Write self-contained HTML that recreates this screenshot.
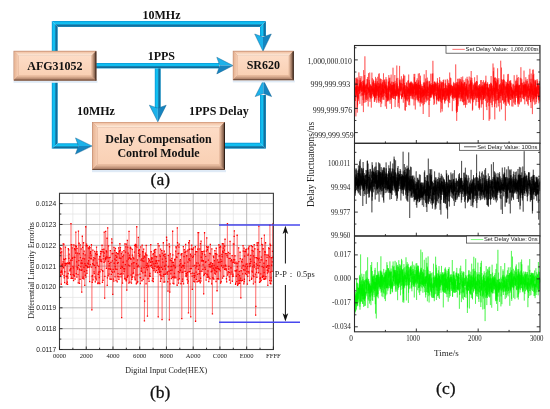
<!DOCTYPE html>
<html><head><meta charset="utf-8"><style>
html,body{margin:0;padding:0;background:#fff;}
svg{display:block;}
</style></head><body>
<svg width="550" height="409" viewBox="0 0 550 409">
<defs>
 <linearGradient id="th" x1="0" y1="0" x2="0" y2="1">
  <stop offset="0" stop-color="#0a96d6"/>
  <stop offset="0.35" stop-color="#12caf8"/>
  <stop offset="0.5" stop-color="#14b6ea"/>
  <stop offset="0.66" stop-color="#1476a6"/>
  <stop offset="0.84" stop-color="#106a98"/>
  <stop offset="1" stop-color="#2a9ed0"/>
 </linearGradient>
 <linearGradient id="bt" x1="0" y1="0" x2="0" y2="1"><stop offset="0" stop-color="#f0bc9c"/><stop offset="1" stop-color="#fff0e2"/></linearGradient>
 <linearGradient id="bl" x1="0" y1="0" x2="1" y2="0"><stop offset="0" stop-color="#e6b393"/><stop offset="1" stop-color="#f8d0b6"/></linearGradient>
 <linearGradient id="bb" x1="0" y1="0" x2="0" y2="1"><stop offset="0" stop-color="#f2c6a8"/><stop offset="1" stop-color="#a87a62"/></linearGradient>
 <linearGradient id="br" x1="0" y1="0" x2="1" y2="0"><stop offset="0" stop-color="#f2c6a8"/><stop offset="1" stop-color="#6e4c3a"/></linearGradient>
 <linearGradient id="bf" x1="0" y1="0" x2="0" y2="1"><stop offset="0" stop-color="#fddcc6"/><stop offset="1" stop-color="#f9d0b4"/></linearGradient>
 <linearGradient id="tv" x1="0" y1="0" x2="1" y2="0">
  <stop offset="0" stop-color="#0a96d6"/>
  <stop offset="0.35" stop-color="#12caf8"/>
  <stop offset="0.5" stop-color="#14b6ea"/>
  <stop offset="0.66" stop-color="#1476a6"/>
  <stop offset="0.84" stop-color="#106a98"/>
  <stop offset="1" stop-color="#2a9ed0"/>
 </linearGradient>
</defs>
<polygon points="51.8,21 57.8,27 57.8,51 51.8,51" fill="url(#tv)"/>
<polygon points="51.8,21 266,21 260,27 57.8,27" fill="url(#th)"/>
<polygon points="266,21 266,36 260,36 260,27" fill="url(#tv)"/>
<polygon points="254.7,34 263,37 263,51.2" fill="#1cb2ea"/>
<polygon points="271.3,34 263,37 263,51.2" fill="#1584bf"/>
<polygon points="254.7,34 263,37 271.3,34 263,51.2" fill="none" stroke="#0d5f8f" stroke-width="0.45" stroke-linejoin="round"/>
<rect x="96" y="63" width="123" height="5.5" fill="url(#th)"/>
<polygon points="216.8,57.3 219.8,65.6 233,65.6" fill="#1cb2ea"/>
<polygon points="216.8,73.89999999999999 219.8,65.6 233,65.6" fill="#1584bf"/>
<polygon points="216.8,57.3 219.8,65.6 216.8,73.89999999999999 233,65.6" fill="none" stroke="#0d5f8f" stroke-width="0.45" stroke-linejoin="round"/>
<rect x="154.8" y="68.3" width="6.0" height="39.7" fill="url(#tv)"/>
<polygon points="149.4,105.2 157.8,108.2 157.8,121.8" fill="#1cb2ea"/>
<polygon points="166.20000000000002,105.2 157.8,108.2 157.8,121.8" fill="#1584bf"/>
<polygon points="149.4,105.2 157.8,108.2 166.20000000000002,105.2 157.8,121.8" fill="none" stroke="#0d5f8f" stroke-width="0.45" stroke-linejoin="round"/>
<polygon points="51.8,80 57.8,80 57.8,143.2 51.8,148.7" fill="url(#tv)"/>
<polygon points="51.8,148.7 57.8,143.2 78,143.2 78,148.7" fill="url(#th)"/>
<polygon points="75.5,137.9 78.5,146 92,146" fill="#1cb2ea"/>
<polygon points="75.5,154.1 78.5,146 92,146" fill="#1584bf"/>
<polygon points="75.5,137.9 78.5,146 75.5,154.1 92,146" fill="none" stroke="#0d5f8f" stroke-width="0.45" stroke-linejoin="round"/>
<polygon points="225,142.8 260,142.8 266,148.7 225,148.7" fill="url(#th)"/>
<polygon points="260,95 266,95 266,148.7 260,142.8" fill="url(#tv)"/>
<polygon points="255.2,96.6 263.4,93.6 263.4,80.3" fill="#1cb2ea"/>
<polygon points="271.59999999999997,96.6 263.4,93.6 263.4,80.3" fill="#1584bf"/>
<polygon points="255.2,96.6 263.4,93.6 271.59999999999997,96.6 263.4,80.3" fill="none" stroke="#0d5f8f" stroke-width="0.45" stroke-linejoin="round"/>
<rect x="13.5" y="80.6" width="83.9" height="2.2" fill="#dfeaf6"/>
<rect x="13.5" y="50.8" width="82.9" height="29.799999999999997" fill="#c08a70"/>
<polygon points="14.1,51.4 95.80000000000001,51.4 91.4,55.8 18.5,55.8" fill="url(#bt)"/>
<polygon points="14.1,51.4 18.5,55.8 18.5,75.6 14.1,80.0" fill="url(#bl)"/>
<polygon points="14.1,79.8 18.5,75.6 91.4,75.6 95.60000000000001,79.8" fill="url(#bb)"/>
<polygon points="95.60000000000001,51.4 95.60000000000001,79.8 91.4,75.6 91.4,55.8" fill="url(#br)"/>
<rect x="18.5" y="55.8" width="72.9" height="19.799999999999997" fill="url(#bf)"/>
<line x1="95.9" y1="51.3" x2="95.9" y2="80.6" stroke="#2e2018" stroke-width="1"/>
<line x1="14.0" y1="80.1" x2="96.4" y2="80.1" stroke="#6a4a3a" stroke-width="1"/>
<text x="54.95" y="69.5" text-anchor="middle" font-family="'Liberation Serif', 'Times New Roman', serif" font-weight="bold" font-size="12" fill="#111">AFG31052</text>
<rect x="232.8" y="80.2" width="62.0" height="2.2" fill="#dfeaf6"/>
<rect x="232.8" y="50.8" width="61.0" height="29.400000000000006" fill="#c08a70"/>
<polygon points="233.4,51.4 293.2,51.4 288.8,55.8 237.8,55.8" fill="url(#bt)"/>
<polygon points="233.4,51.4 237.8,55.8 237.8,75.2 233.4,79.60000000000001" fill="url(#bl)"/>
<polygon points="233.4,79.4 237.8,75.2 288.8,75.2 293.0,79.4" fill="url(#bb)"/>
<polygon points="293.0,51.4 293.0,79.4 288.8,75.2 288.8,55.8" fill="url(#br)"/>
<rect x="237.8" y="55.8" width="51.0" height="19.400000000000006" fill="url(#bf)"/>
<line x1="293.3" y1="51.3" x2="293.3" y2="80.2" stroke="#2e2018" stroke-width="1"/>
<line x1="233.3" y1="79.7" x2="293.8" y2="79.7" stroke="#6a4a3a" stroke-width="1"/>
<text x="263.3" y="69.4" text-anchor="middle" font-family="'Liberation Serif', 'Times New Roman', serif" font-weight="bold" font-size="12" fill="#111">SR620</text>
<rect x="92" y="170" width="134" height="2.2" fill="#dfeaf6"/>
<rect x="92" y="122" width="133" height="48" fill="#c08a70"/>
<polygon points="92.6,122.6 224.4,122.6 219.5,127.5 97.5,127.5" fill="url(#bt)"/>
<polygon points="92.6,122.6 97.5,127.5 97.5,164.5 92.6,169.4" fill="url(#bl)"/>
<polygon points="92.6,169.2 97.5,164.5 219.5,164.5 224.2,169.2" fill="url(#bb)"/>
<polygon points="224.2,122.6 224.2,169.2 219.5,164.5 219.5,127.5" fill="url(#br)"/>
<rect x="97.5" y="127.5" width="122.0" height="37.0" fill="url(#bf)"/>
<line x1="224.5" y1="122.5" x2="224.5" y2="170" stroke="#2e2018" stroke-width="1"/>
<line x1="92.5" y1="169.5" x2="225" y2="169.5" stroke="#6a4a3a" stroke-width="1"/>
<text x="158.5" y="143" text-anchor="middle" font-family="'Liberation Serif', 'Times New Roman', serif" font-weight="bold" font-size="12" fill="#111">Delay Compensation</text>
<text x="158.5" y="157.2" text-anchor="middle" font-family="'Liberation Serif', 'Times New Roman', serif" font-weight="bold" font-size="12" fill="#111">Control Module</text>
<text x="142.5" y="19.1" text-anchor="start" font-family="'Liberation Serif', 'Times New Roman', serif" font-weight="bold" font-size="12" fill="#111" >10MHz</text>
<text x="147.7" y="59.6" text-anchor="start" font-family="'Liberation Serif', 'Times New Roman', serif" font-weight="bold" font-size="12" fill="#111" >1PPS</text>
<text x="76.9" y="115.2" text-anchor="start" font-family="'Liberation Serif', 'Times New Roman', serif" font-weight="bold" font-size="12" fill="#111" >10MHz</text>
<text x="189" y="114.6" text-anchor="start" font-family="'Liberation Serif', 'Times New Roman', serif" font-weight="bold" font-size="12" fill="#111" >1PPS Delay</text>
<text x="160.3" y="185.0" text-anchor="middle" font-family="'Liberation Serif', 'Times New Roman', serif" font-weight="normal" font-size="17.5" fill="#111" stroke="#111" stroke-width="0.3">(a)</text>
<line x1="72.87" y1="193.3" x2="72.87" y2="349.5" stroke="#e6e6e6" stroke-width="0.8"/>
<line x1="99.61" y1="193.3" x2="99.61" y2="349.5" stroke="#e6e6e6" stroke-width="0.8"/>
<line x1="126.34" y1="193.3" x2="126.34" y2="349.5" stroke="#e6e6e6" stroke-width="0.8"/>
<line x1="153.08" y1="193.3" x2="153.08" y2="349.5" stroke="#e6e6e6" stroke-width="0.8"/>
<line x1="179.82" y1="193.3" x2="179.82" y2="349.5" stroke="#e6e6e6" stroke-width="0.8"/>
<line x1="206.56" y1="193.3" x2="206.56" y2="349.5" stroke="#e6e6e6" stroke-width="0.8"/>
<line x1="233.29" y1="193.3" x2="233.29" y2="349.5" stroke="#e6e6e6" stroke-width="0.8"/>
<line x1="260.03" y1="193.3" x2="260.03" y2="349.5" stroke="#e6e6e6" stroke-width="0.8"/>
<line x1="59.5" y1="339.08" x2="273.4" y2="339.08" stroke="#e6e6e6" stroke-width="0.8"/>
<line x1="59.5" y1="318.24" x2="273.4" y2="318.24" stroke="#e6e6e6" stroke-width="0.8"/>
<line x1="59.5" y1="297.40" x2="273.4" y2="297.40" stroke="#e6e6e6" stroke-width="0.8"/>
<line x1="59.5" y1="276.56" x2="273.4" y2="276.56" stroke="#e6e6e6" stroke-width="0.8"/>
<line x1="59.5" y1="255.72" x2="273.4" y2="255.72" stroke="#e6e6e6" stroke-width="0.8"/>
<line x1="59.5" y1="234.88" x2="273.4" y2="234.88" stroke="#e6e6e6" stroke-width="0.8"/>
<line x1="59.5" y1="214.04" x2="273.4" y2="214.04" stroke="#e6e6e6" stroke-width="0.8"/>
<line x1="86.24" y1="193.3" x2="86.24" y2="349.5" stroke="#a8a8a8" stroke-width="0.8"/>
<line x1="112.97" y1="193.3" x2="112.97" y2="349.5" stroke="#a8a8a8" stroke-width="0.8"/>
<line x1="139.71" y1="193.3" x2="139.71" y2="349.5" stroke="#a8a8a8" stroke-width="0.8"/>
<line x1="166.45" y1="193.3" x2="166.45" y2="349.5" stroke="#a8a8a8" stroke-width="0.8"/>
<line x1="193.19" y1="193.3" x2="193.19" y2="349.5" stroke="#a8a8a8" stroke-width="0.8"/>
<line x1="219.92" y1="193.3" x2="219.92" y2="349.5" stroke="#a8a8a8" stroke-width="0.8"/>
<line x1="246.66" y1="193.3" x2="246.66" y2="349.5" stroke="#a8a8a8" stroke-width="0.8"/>
<line x1="59.5" y1="328.66" x2="273.4" y2="328.66" stroke="#a8a8a8" stroke-width="0.8"/>
<line x1="59.5" y1="307.82" x2="273.4" y2="307.82" stroke="#a8a8a8" stroke-width="0.8"/>
<line x1="59.5" y1="286.98" x2="273.4" y2="286.98" stroke="#a8a8a8" stroke-width="0.8"/>
<line x1="59.5" y1="266.14" x2="273.4" y2="266.14" stroke="#a8a8a8" stroke-width="0.8"/>
<line x1="59.5" y1="245.30" x2="273.4" y2="245.30" stroke="#a8a8a8" stroke-width="0.8"/>
<line x1="59.5" y1="224.46" x2="273.4" y2="224.46" stroke="#a8a8a8" stroke-width="0.8"/>
<line x1="59.5" y1="203.62" x2="273.4" y2="203.62" stroke="#a8a8a8" stroke-width="0.8"/>
<polyline points="60.0,248.9 60.2,247.8 60.4,252.8 60.6,275.3 60.8,272.2 61.0,248.8 61.2,284.3 61.4,271.0 61.6,251.9 61.8,265.4 62.0,272.1 62.2,264.0 62.4,274.1 62.6,266.3 62.8,263.9 63.0,261.9 63.2,243.8 63.5,267.8 63.7,259.1 63.9,244.1 64.1,275.7 64.3,277.9 64.5,259.5 64.7,282.7 64.9,271.8 65.1,263.4 65.3,265.4 65.5,247.0 65.7,258.8 65.9,263.5 66.1,264.2 66.3,276.4 66.5,284.0 66.7,276.6 66.9,263.4 67.1,276.3 67.3,282.1 67.5,284.3 67.7,262.9 67.9,278.2 68.1,273.5 68.3,248.5 68.5,263.7 68.7,249.9 68.9,258.3 69.1,254.2 69.3,263.8 69.5,262.4 69.7,263.7 69.9,270.9 70.1,269.7 70.4,260.0 70.6,274.6 70.8,268.6 71.0,223.5 71.2,278.3 71.4,244.6 71.6,278.0 71.8,244.5 72.0,260.4 72.2,247.8 72.4,258.4 72.6,257.8 72.8,278.3 73.0,266.5 73.2,274.7 73.4,267.8 73.6,280.5 73.8,244.9 74.0,275.7 74.2,257.0 74.4,276.1 74.6,248.8 74.8,257.4 75.0,279.1 75.2,250.0 75.4,245.9 75.6,253.2 75.8,232.2 76.0,246.0 76.2,273.8 76.4,246.6 76.6,261.9 76.8,277.1 77.0,248.4 77.3,267.2 77.5,253.1 77.7,269.1 77.9,267.7 78.1,274.7 78.3,282.9 78.5,231.1 78.7,265.4 78.9,260.6 79.1,243.2 79.3,253.8 79.5,283.4 79.7,269.3 79.9,270.0 80.1,279.5 80.3,245.0 80.5,257.6 80.7,267.0 80.9,263.1 81.1,248.8 81.3,270.4 81.5,260.4 81.7,292.1 81.9,270.0 82.1,263.3 82.3,236.2 82.5,247.3 82.7,278.3 82.9,258.4 83.1,277.1 83.3,253.7 83.5,242.8 83.7,278.9 83.9,267.4 84.2,251.2 84.4,271.7 84.6,258.8 84.8,285.3 85.0,263.5 85.2,254.8 85.4,275.2 85.6,265.4 85.8,226.8 86.0,277.2 86.2,265.5 86.4,245.8 86.6,244.1 86.8,270.6 87.0,273.4 87.2,245.6 87.4,266.3 87.6,267.6 87.8,263.4 88.0,263.2 88.2,247.9 88.4,264.2 88.6,260.8 88.8,267.1 89.0,248.6 89.2,257.9 89.4,246.8 89.6,281.7 89.8,266.9 90.0,247.5 90.2,264.7 90.4,253.2 90.6,251.6 90.8,258.7 91.1,255.2 91.3,258.8 91.5,244.8 91.7,267.1 91.9,309.9 92.1,276.2 92.3,282.4 92.5,275.8 92.7,263.8 92.9,250.2 93.1,279.9 93.3,259.8 93.5,264.9 93.7,260.2 93.9,257.6 94.1,272.0 94.3,273.6 94.5,265.5 94.7,251.4 94.9,258.5 95.1,277.0 95.3,282.0 95.5,267.7 95.7,253.3 95.9,278.5 96.1,254.7 96.3,279.9 96.5,247.2 96.7,251.7 96.9,251.9 97.1,263.1 97.3,254.1 97.5,265.0 97.7,283.2 98.0,283.7 98.2,274.2 98.4,274.3 98.6,272.0 98.8,266.4 99.0,282.9 99.2,259.1 99.4,277.7 99.6,256.8 99.8,283.6 100.0,271.8 100.2,256.3 100.4,261.1 100.6,251.3 100.8,253.7 101.0,259.5 101.2,269.9 101.4,261.0 101.6,261.6 101.8,251.7 102.0,245.3 102.2,249.6 102.4,282.4 102.6,270.6 102.8,271.5 103.0,280.4 103.2,258.9 103.4,251.9 103.6,256.1 103.8,249.2 104.0,262.5 104.2,232.2 104.4,253.2 104.7,298.1 104.9,276.4 105.1,261.0 105.3,258.4 105.5,259.6 105.7,231.5 105.9,257.5 106.1,258.7 106.3,250.8 106.5,268.4 106.7,252.0 106.9,256.9 107.1,238.3 107.3,285.3 107.5,277.9 107.7,227.8 107.9,257.9 108.1,275.7 108.3,261.5 108.5,245.9 108.7,269.0 108.9,274.2 109.1,265.8 109.3,257.6 109.5,263.6 109.7,268.9 109.9,279.0 110.1,257.4 110.3,250.6 110.5,269.1 110.7,269.3 110.9,262.4 111.1,279.2 111.3,274.4 111.6,271.0 111.8,239.0 112.0,242.8 112.2,253.7 112.4,260.8 112.6,272.2 112.8,294.4 113.0,253.3 113.2,269.5 113.4,279.0 113.6,279.1 113.8,281.2 114.0,247.5 114.2,263.3 114.4,272.0 114.6,250.5 114.8,259.2 115.0,276.8 115.2,266.7 115.4,248.4 115.6,269.1 115.8,255.4 116.0,280.5 116.2,260.4 116.4,252.8 116.6,257.3 116.8,256.9 117.0,269.3 117.2,281.9 117.4,263.3 117.6,253.5 117.8,276.7 118.0,273.6 118.2,262.6 118.5,253.9 118.7,247.9 118.9,279.3 119.1,277.0 119.3,251.8 119.5,258.2 119.7,250.6 119.9,243.8 120.1,274.3 120.3,250.0 120.5,247.7 120.7,268.3 120.9,258.3 121.1,276.9 121.3,273.8 121.5,253.5 121.7,317.5 121.9,266.3 122.1,252.0 122.3,267.3 122.5,283.1 122.7,256.6 122.9,262.3 123.1,273.8 123.3,262.1 123.5,255.0 123.7,268.9 123.9,250.6 124.1,271.4 124.3,268.7 124.5,278.8 124.7,268.9 124.9,243.9 125.1,278.4 125.4,264.6 125.6,252.1 125.8,246.9 126.0,279.4 126.2,280.7 126.4,244.1 126.6,279.7 126.8,290.1 127.0,261.0 127.2,277.5 127.4,240.5 127.6,276.7 127.8,247.1 128.0,275.6 128.2,253.1 128.4,259.2 128.6,265.1 128.8,283.1 129.0,231.4 129.2,257.7 129.4,255.1 129.6,265.9 129.8,282.2 130.0,258.2 130.2,248.2 130.4,247.1 130.6,259.2 130.8,248.2 131.0,275.2 131.2,259.0 131.4,283.1 131.6,263.9 131.8,279.4 132.0,277.3 132.3,249.3 132.5,255.1 132.7,277.0 132.9,257.1 133.1,273.6 133.3,263.0 133.5,272.9 133.7,258.2 133.9,258.8 134.1,262.6 134.3,268.3 134.5,252.2 134.7,245.4 134.9,277.2 135.1,278.9 135.3,279.9 135.5,244.5 135.7,246.0 135.9,275.1 136.1,244.9 136.3,283.9 136.5,263.8 136.7,226.7 136.9,247.1 137.1,282.8 137.3,266.8 137.5,260.0 137.7,281.8 137.9,274.8 138.1,265.5 138.3,237.4 138.5,253.4 138.7,250.6 138.9,267.0 139.2,255.6 139.4,249.8 139.6,256.6 139.8,254.4 140.0,274.2 140.2,277.6 140.4,283.5 140.6,277.7 140.8,246.9 141.0,260.1 141.2,271.0 141.4,268.0 141.6,271.2 141.8,258.9 142.0,280.7 142.2,245.0 142.4,261.0 142.6,251.7 142.8,273.0 143.0,251.7 143.2,279.4 143.4,258.2 143.6,249.1 143.8,261.2 144.0,267.5 144.2,256.2 144.4,320.9 144.6,301.2 144.8,257.1 145.0,275.9 145.2,272.3 145.4,253.1 145.6,275.8 145.9,254.7 146.1,283.8 146.3,245.3 146.5,265.3 146.7,267.8 146.9,255.1 147.1,263.1 147.3,269.7 147.5,316.0 147.7,264.0 147.9,265.9 148.1,278.8 148.3,266.8 148.5,266.0 148.7,258.7 148.9,262.0 149.1,281.4 149.3,260.2 149.5,275.4 149.7,276.5 149.9,273.4 150.1,276.4 150.3,265.9 150.5,262.4 150.7,244.6 150.9,261.9 151.1,251.5 151.3,265.5 151.5,259.1 151.7,257.5 151.9,267.3 152.1,258.3 152.3,281.0 152.5,261.7 152.8,268.3 153.0,254.1 153.2,278.8 153.4,281.6 153.6,253.6 153.8,263.9 154.0,270.7 154.2,250.7 154.4,268.9 154.6,250.0 154.8,252.4 155.0,266.2 155.2,256.5 155.4,272.0 155.6,263.4 155.8,249.3 156.0,260.8 156.2,261.7 156.4,270.5 156.6,256.8 156.8,260.6 157.0,267.3 157.2,263.1 157.4,272.5 157.6,272.5 157.8,266.9 158.0,243.7 158.2,316.9 158.4,266.2 158.6,269.3 158.8,260.7 159.0,245.8 159.2,271.2 159.4,267.6 159.7,272.5 159.9,254.9 160.1,274.7 160.3,256.5 160.5,281.5 160.7,249.1 160.9,271.7 161.1,275.9 161.3,278.5 161.5,267.3 161.7,250.7 161.9,250.7 162.1,319.6 162.3,253.1 162.5,259.1 162.7,269.2 162.9,262.2 163.1,276.3 163.3,242.8 163.5,255.6 163.7,274.4 163.9,282.2 164.1,254.5 164.3,251.1 164.5,266.3 164.7,281.9 164.9,256.6 165.1,274.4 165.3,254.1 165.5,269.1 165.7,258.5 165.9,273.9 166.1,265.0 166.3,261.4 166.6,237.2 166.8,240.3 167.0,245.2 167.2,272.7 167.4,272.0 167.6,274.0 167.8,281.7 168.0,291.1 168.2,266.9 168.4,255.5 168.6,266.5 168.8,278.9 169.0,271.3 169.2,243.9 169.4,319.9 169.6,246.8 169.8,292.2 170.0,283.9 170.2,260.1 170.4,253.8 170.6,270.4 170.8,274.0 171.0,266.6 171.2,260.6 171.4,278.7 171.6,266.5 171.8,258.3 172.0,270.1 172.2,262.5 172.4,277.4 172.6,231.3 172.8,254.9 173.0,283.4 173.2,277.0 173.5,262.5 173.7,265.1 173.9,283.9 174.1,265.8 174.3,277.8 174.5,273.5 174.7,259.7 174.9,277.0 175.1,259.3 175.3,267.9 175.5,267.4 175.7,251.1 175.9,277.9 176.1,246.7 176.3,248.0 176.5,257.2 176.7,256.8 176.9,257.4 177.1,285.2 177.3,228.0 177.5,242.8 177.7,245.5 177.9,253.8 178.1,279.8 178.3,271.6 178.5,283.2 178.7,253.5 178.9,247.1 179.1,244.0 179.3,278.7 179.5,265.3 179.7,272.5 179.9,261.2 180.1,270.2 180.4,259.7 180.6,270.8 180.8,263.5 181.0,283.7 181.2,254.9 181.4,254.0 181.6,267.3 181.8,318.6 182.0,253.6 182.2,272.4 182.4,281.3 182.6,279.1 182.8,265.4 183.0,272.1 183.2,266.2 183.4,246.6 183.6,283.9 183.8,265.7 184.0,256.7 184.2,249.6 184.4,268.0 184.6,263.1 184.8,252.3 185.0,271.4 185.2,271.6 185.4,251.8 185.6,244.4 185.8,275.8 186.0,273.5 186.2,276.7 186.4,273.5 186.6,255.8 186.8,275.0 187.0,251.2 187.3,279.7 187.5,272.5 187.7,283.0 187.9,262.0 188.1,249.9 188.3,281.0 188.5,312.8 188.7,242.8 188.9,259.6 189.1,271.7 189.3,258.8 189.5,240.7 189.7,249.3 189.9,260.6 190.1,271.5 190.3,268.5 190.5,254.2 190.7,317.0 190.9,273.5 191.1,256.0 191.3,268.7 191.5,248.9 191.7,245.1 191.9,249.3 192.1,276.1 192.3,289.5 192.5,273.1 192.7,257.3 192.9,249.4 193.1,266.2 193.3,256.2 193.5,247.9 193.7,281.3 194.0,275.5 194.2,273.4 194.4,277.4 194.6,281.9 194.8,265.5 195.0,275.7 195.2,254.3 195.4,246.8 195.6,321.2 195.8,251.7 196.0,268.0 196.2,272.1 196.4,279.4 196.6,263.0 196.8,266.3 197.0,251.6 197.2,281.8 197.4,274.3 197.6,249.1 197.8,249.1 198.0,232.6 198.2,263.2 198.4,269.4 198.6,232.5 198.8,281.5 199.0,273.7 199.2,280.7 199.4,265.3 199.6,273.9 199.8,248.9 200.0,271.4 200.2,282.8 200.4,243.6 200.6,278.2 200.9,281.1 201.1,241.1 201.3,257.3 201.5,260.8 201.7,251.7 201.9,271.3 202.1,261.2 202.3,253.8 202.5,260.4 202.7,251.7 202.9,269.4 203.1,264.9 203.3,260.7 203.5,261.1 203.7,294.0 203.9,275.3 204.1,251.1 204.3,274.4 204.5,232.7 204.7,254.5 204.9,267.4 205.1,273.4 205.3,269.3 205.5,262.4 205.7,256.4 205.9,261.6 206.1,280.1 206.3,251.1 206.5,246.7 206.7,237.8 206.9,274.3 207.1,277.4 207.3,249.8 207.5,247.3 207.8,275.1 208.0,270.9 208.2,276.6 208.4,260.0 208.6,246.8 208.8,281.6 209.0,277.5 209.2,264.6 209.4,266.8 209.6,253.4 209.8,266.6 210.0,278.7 210.2,264.1 210.4,244.4 210.6,253.8 210.8,267.2 211.0,262.7 211.2,271.8 211.4,265.8 211.6,284.0 211.8,248.9 212.0,271.0 212.2,265.9 212.4,313.8 212.6,263.7 212.8,277.7 213.0,278.8 213.2,268.2 213.4,256.2 213.6,257.3 213.8,279.2 214.0,265.5 214.2,269.9 214.4,260.5 214.7,273.0 214.9,250.7 215.1,271.0 215.3,253.6 215.5,274.0 215.7,268.0 215.9,253.6 216.1,281.7 216.3,248.2 216.5,268.2 216.7,271.8 216.9,254.4 217.1,290.8 217.3,278.8 217.5,266.6 217.7,259.9 217.9,268.4 218.1,278.5 218.3,262.3 218.5,268.8 218.7,279.1 218.9,244.7 219.1,256.1 219.3,269.4 219.5,247.5 219.7,255.9 219.9,262.2 220.1,270.9 220.3,246.2 220.5,283.1 220.7,247.0 220.9,259.5 221.1,281.7 221.3,261.3 221.6,265.7 221.8,261.4 222.0,254.4 222.2,256.8 222.4,243.7 222.6,278.1 222.8,251.3 223.0,267.7 223.2,252.5 223.4,248.1 223.6,244.0 223.8,276.2 224.0,266.0 224.2,246.0 224.4,250.2 224.6,269.2 224.8,246.1 225.0,239.3 225.2,269.2 225.4,253.6 225.6,265.2 225.8,266.2 226.0,268.7 226.2,270.0 226.4,278.8 226.6,282.0 226.8,253.7 227.0,255.4 227.2,257.0 227.4,223.7 227.6,275.1 227.8,274.9 228.0,273.1 228.2,271.7 228.5,252.3 228.7,269.2 228.9,266.3 229.1,258.5 229.3,276.9 229.5,280.1 229.7,272.4 229.9,253.6 230.1,241.4 230.3,258.5 230.5,283.1 230.7,268.0 230.9,260.9 231.1,274.1 231.3,267.9 231.5,259.6 231.7,260.4 231.9,272.0 232.1,255.6 232.3,281.2 232.5,262.1 232.7,276.2 232.9,274.1 233.1,276.3 233.3,244.0 233.5,262.2 233.7,259.8 233.9,244.0 234.1,236.4 234.3,231.0 234.5,263.2 234.7,259.9 234.9,255.8 235.2,270.8 235.4,271.1 235.6,284.3 235.8,283.0 236.0,262.0 236.2,263.7 236.4,276.2 236.6,270.9 236.8,281.6 237.0,269.9 237.2,235.2 237.4,266.7 237.6,285.3 237.8,263.1 238.0,284.1 238.2,274.5 238.4,283.8 238.6,247.8 238.8,261.5 239.0,280.7 239.2,271.5 239.4,283.3 239.6,275.5 239.8,283.4 240.0,252.3 240.2,258.6 240.4,280.4 240.6,278.1 240.8,297.9 241.0,270.8 241.2,270.9 241.4,280.9 241.6,261.2 241.8,268.1 242.1,262.1 242.3,259.2 242.5,280.4 242.7,273.8 242.9,265.9 243.1,245.6 243.3,251.1 243.5,265.4 243.7,269.8 243.9,283.9 244.1,248.1 244.3,281.7 244.5,279.2 244.7,256.2 244.9,251.3 245.1,270.1 245.3,266.0 245.5,273.7 245.7,251.7 245.9,249.7 246.1,264.2 246.3,274.5 246.5,249.1 246.7,268.0 246.9,271.8 247.1,263.8 247.3,284.1 247.5,266.4 247.7,276.3 247.9,255.4 248.1,254.1 248.3,249.0 248.5,247.9 248.7,271.5 249.0,273.0 249.2,246.1 249.4,263.9 249.6,280.5 249.8,266.7 250.0,263.3 250.2,265.8 250.4,259.2 250.6,263.6 250.8,255.4 251.0,261.6 251.2,245.6 251.4,245.7 251.6,279.4 251.8,278.3 252.0,271.1 252.2,250.4 252.4,272.2 252.6,246.8 252.8,267.0 253.0,275.9 253.2,251.1 253.4,283.9 253.6,255.9 253.8,276.5 254.0,265.2 254.2,244.6 254.4,262.5 254.6,267.1 254.8,248.8 255.0,257.5 255.2,282.2 255.4,274.2 255.6,315.1 255.9,306.4 256.1,268.9 256.3,263.9 256.5,272.4 256.7,257.7 256.9,277.4 257.1,242.9 257.3,245.3 257.5,258.5 257.7,265.5 257.9,249.4 258.1,268.2 258.3,242.8 258.5,272.7 258.7,260.0 258.9,226.1 259.1,258.4 259.3,265.8 259.5,282.3 259.7,251.5 259.9,262.3 260.1,278.8 260.3,278.0 260.5,281.6 260.7,273.9 260.9,259.8 261.1,280.5 261.3,257.1 261.5,238.5 261.7,244.4 261.9,260.0 262.1,266.6 262.3,277.2 262.5,244.9 262.8,276.3 263.0,249.0 263.2,248.6 263.4,279.1 263.6,267.5 263.8,276.3 264.0,263.3 264.2,272.6 264.4,235.1 264.6,279.2 264.8,251.8 265.0,254.7 265.2,278.7 265.4,252.0 265.6,242.8 265.8,279.0 266.0,276.8 266.2,260.7 266.4,267.2 266.6,266.9 266.8,254.9 267.0,257.3 267.2,270.2 267.4,273.1 267.6,265.6 267.8,285.3 268.0,270.3 268.2,255.1 268.4,271.8 268.6,247.9 268.8,268.4 269.0,265.9 269.2,248.6 269.4,257.0 269.7,280.6 269.9,225.2 270.1,244.0 270.3,283.3 270.5,272.2 270.7,245.3 270.9,283.9 271.1,277.9 271.3,257.7 271.5,281.0 271.7,265.2 271.9,257.9 272.1,271.5 272.3,261.8 272.5,251.4 272.7,224.0 272.9,257.2" fill="none" stroke="#ff3030" stroke-width="0.42"/>
<path d="M59.4,248.3h1.3v1.3h-1.3zM59.6,247.2h1.3v1.3h-1.3zM59.8,252.1h1.3v1.3h-1.3zM60.0,274.6h1.3v1.3h-1.3zM60.2,271.6h1.3v1.3h-1.3zM60.4,248.1h1.3v1.3h-1.3zM60.6,283.6h1.3v1.3h-1.3zM60.8,270.3h1.3v1.3h-1.3zM61.0,251.3h1.3v1.3h-1.3zM61.2,264.7h1.3v1.3h-1.3zM61.4,271.5h1.3v1.3h-1.3zM61.6,263.4h1.3v1.3h-1.3zM61.8,273.4h1.3v1.3h-1.3zM62.0,265.6h1.3v1.3h-1.3zM62.2,263.2h1.3v1.3h-1.3zM62.4,261.2h1.3v1.3h-1.3zM62.6,243.2h1.3v1.3h-1.3zM62.8,267.1h1.3v1.3h-1.3zM63.0,258.4h1.3v1.3h-1.3zM63.2,243.4h1.3v1.3h-1.3zM63.4,275.0h1.3v1.3h-1.3zM63.6,277.3h1.3v1.3h-1.3zM63.8,258.8h1.3v1.3h-1.3zM64.0,282.0h1.3v1.3h-1.3zM64.2,271.1h1.3v1.3h-1.3zM64.4,262.8h1.3v1.3h-1.3zM64.6,264.8h1.3v1.3h-1.3zM64.8,246.4h1.3v1.3h-1.3zM65.0,258.1h1.3v1.3h-1.3zM65.2,262.8h1.3v1.3h-1.3zM65.4,263.5h1.3v1.3h-1.3zM65.6,275.8h1.3v1.3h-1.3zM65.8,283.3h1.3v1.3h-1.3zM66.0,276.0h1.3v1.3h-1.3zM66.3,262.8h1.3v1.3h-1.3zM66.5,275.6h1.3v1.3h-1.3zM66.7,281.5h1.3v1.3h-1.3zM66.9,283.7h1.3v1.3h-1.3zM67.1,262.3h1.3v1.3h-1.3zM67.3,277.5h1.3v1.3h-1.3zM67.5,272.9h1.3v1.3h-1.3zM67.7,247.9h1.3v1.3h-1.3zM67.9,263.0h1.3v1.3h-1.3zM68.1,249.2h1.3v1.3h-1.3zM68.3,257.7h1.3v1.3h-1.3zM68.5,253.5h1.3v1.3h-1.3zM68.7,263.2h1.3v1.3h-1.3zM68.9,261.7h1.3v1.3h-1.3zM69.1,263.1h1.3v1.3h-1.3zM69.3,270.3h1.3v1.3h-1.3zM69.5,269.1h1.3v1.3h-1.3zM69.7,259.4h1.3v1.3h-1.3zM69.9,273.9h1.3v1.3h-1.3zM70.1,268.0h1.3v1.3h-1.3zM70.3,222.9h1.3v1.3h-1.3zM70.5,277.7h1.3v1.3h-1.3zM70.7,243.9h1.3v1.3h-1.3zM70.9,277.4h1.3v1.3h-1.3zM71.1,243.9h1.3v1.3h-1.3zM71.3,259.7h1.3v1.3h-1.3zM71.5,247.2h1.3v1.3h-1.3zM71.7,257.8h1.3v1.3h-1.3zM71.9,257.2h1.3v1.3h-1.3zM72.1,277.7h1.3v1.3h-1.3zM72.3,265.8h1.3v1.3h-1.3zM72.5,274.0h1.3v1.3h-1.3zM72.7,267.2h1.3v1.3h-1.3zM72.9,279.9h1.3v1.3h-1.3zM73.2,244.3h1.3v1.3h-1.3zM73.4,275.0h1.3v1.3h-1.3zM73.6,256.4h1.3v1.3h-1.3zM73.8,275.5h1.3v1.3h-1.3zM74.0,248.1h1.3v1.3h-1.3zM74.2,256.8h1.3v1.3h-1.3zM74.4,278.5h1.3v1.3h-1.3zM74.6,249.3h1.3v1.3h-1.3zM74.8,245.2h1.3v1.3h-1.3zM75.0,252.5h1.3v1.3h-1.3zM75.2,231.5h1.3v1.3h-1.3zM75.4,245.4h1.3v1.3h-1.3zM75.6,273.1h1.3v1.3h-1.3zM75.8,245.9h1.3v1.3h-1.3zM76.0,261.3h1.3v1.3h-1.3zM76.2,276.5h1.3v1.3h-1.3zM76.4,247.7h1.3v1.3h-1.3zM76.6,266.5h1.3v1.3h-1.3zM76.8,252.4h1.3v1.3h-1.3zM77.0,268.5h1.3v1.3h-1.3zM77.2,267.0h1.3v1.3h-1.3zM77.4,274.0h1.3v1.3h-1.3zM77.6,282.3h1.3v1.3h-1.3zM77.8,230.5h1.3v1.3h-1.3zM78.0,264.7h1.3v1.3h-1.3zM78.2,259.9h1.3v1.3h-1.3zM78.4,242.6h1.3v1.3h-1.3zM78.6,253.1h1.3v1.3h-1.3zM78.8,282.8h1.3v1.3h-1.3zM79.0,268.6h1.3v1.3h-1.3zM79.2,269.3h1.3v1.3h-1.3zM79.4,278.8h1.3v1.3h-1.3zM79.6,244.3h1.3v1.3h-1.3zM79.8,257.0h1.3v1.3h-1.3zM80.1,266.3h1.3v1.3h-1.3zM80.3,262.4h1.3v1.3h-1.3zM80.5,248.2h1.3v1.3h-1.3zM80.7,269.8h1.3v1.3h-1.3zM80.9,259.7h1.3v1.3h-1.3zM81.1,291.4h1.3v1.3h-1.3zM81.3,269.3h1.3v1.3h-1.3zM81.5,262.6h1.3v1.3h-1.3zM81.7,235.6h1.3v1.3h-1.3zM81.9,246.7h1.3v1.3h-1.3zM82.1,277.7h1.3v1.3h-1.3zM82.3,257.8h1.3v1.3h-1.3zM82.5,276.4h1.3v1.3h-1.3zM82.7,253.1h1.3v1.3h-1.3zM82.9,242.1h1.3v1.3h-1.3zM83.1,278.2h1.3v1.3h-1.3zM83.3,266.7h1.3v1.3h-1.3zM83.5,250.5h1.3v1.3h-1.3zM83.7,271.0h1.3v1.3h-1.3zM83.9,258.2h1.3v1.3h-1.3zM84.1,284.7h1.3v1.3h-1.3zM84.3,262.9h1.3v1.3h-1.3zM84.5,254.2h1.3v1.3h-1.3zM84.7,274.6h1.3v1.3h-1.3zM84.9,264.7h1.3v1.3h-1.3zM85.1,226.1h1.3v1.3h-1.3zM85.3,276.5h1.3v1.3h-1.3zM85.5,264.9h1.3v1.3h-1.3zM85.7,245.1h1.3v1.3h-1.3zM85.9,243.4h1.3v1.3h-1.3zM86.1,269.9h1.3v1.3h-1.3zM86.3,272.7h1.3v1.3h-1.3zM86.5,244.9h1.3v1.3h-1.3zM86.7,265.7h1.3v1.3h-1.3zM87.0,266.9h1.3v1.3h-1.3zM87.2,262.8h1.3v1.3h-1.3zM87.4,262.5h1.3v1.3h-1.3zM87.6,247.2h1.3v1.3h-1.3zM87.8,263.5h1.3v1.3h-1.3zM88.0,260.1h1.3v1.3h-1.3zM88.2,266.4h1.3v1.3h-1.3zM88.4,248.0h1.3v1.3h-1.3zM88.6,257.2h1.3v1.3h-1.3zM88.8,246.1h1.3v1.3h-1.3zM89.0,281.0h1.3v1.3h-1.3zM89.2,266.3h1.3v1.3h-1.3zM89.4,246.9h1.3v1.3h-1.3zM89.6,264.1h1.3v1.3h-1.3zM89.8,252.6h1.3v1.3h-1.3zM90.0,250.9h1.3v1.3h-1.3zM90.2,258.0h1.3v1.3h-1.3zM90.4,254.5h1.3v1.3h-1.3zM90.6,258.1h1.3v1.3h-1.3zM90.8,244.1h1.3v1.3h-1.3zM91.0,266.5h1.3v1.3h-1.3zM91.2,309.3h1.3v1.3h-1.3zM91.4,275.5h1.3v1.3h-1.3zM91.6,281.8h1.3v1.3h-1.3zM91.8,275.1h1.3v1.3h-1.3zM92.0,263.1h1.3v1.3h-1.3zM92.2,249.5h1.3v1.3h-1.3zM92.4,279.2h1.3v1.3h-1.3zM92.6,259.2h1.3v1.3h-1.3zM92.8,264.3h1.3v1.3h-1.3zM93.0,259.5h1.3v1.3h-1.3zM93.2,256.9h1.3v1.3h-1.3zM93.4,271.3h1.3v1.3h-1.3zM93.6,273.0h1.3v1.3h-1.3zM93.9,264.8h1.3v1.3h-1.3zM94.1,250.8h1.3v1.3h-1.3zM94.3,257.9h1.3v1.3h-1.3zM94.5,276.3h1.3v1.3h-1.3zM94.7,281.3h1.3v1.3h-1.3zM94.9,267.0h1.3v1.3h-1.3zM95.1,252.6h1.3v1.3h-1.3zM95.3,277.8h1.3v1.3h-1.3zM95.5,254.0h1.3v1.3h-1.3zM95.7,279.2h1.3v1.3h-1.3zM95.9,246.5h1.3v1.3h-1.3zM96.1,251.1h1.3v1.3h-1.3zM96.3,251.2h1.3v1.3h-1.3zM96.5,262.5h1.3v1.3h-1.3zM96.7,253.5h1.3v1.3h-1.3zM96.9,264.4h1.3v1.3h-1.3zM97.1,282.6h1.3v1.3h-1.3zM97.3,283.0h1.3v1.3h-1.3zM97.5,273.5h1.3v1.3h-1.3zM97.7,273.7h1.3v1.3h-1.3zM97.9,271.4h1.3v1.3h-1.3zM98.1,265.8h1.3v1.3h-1.3zM98.3,282.2h1.3v1.3h-1.3zM98.5,258.5h1.3v1.3h-1.3zM98.7,277.0h1.3v1.3h-1.3zM98.9,256.1h1.3v1.3h-1.3zM99.1,283.0h1.3v1.3h-1.3zM99.3,271.1h1.3v1.3h-1.3zM99.5,255.7h1.3v1.3h-1.3zM99.7,260.4h1.3v1.3h-1.3zM99.9,250.7h1.3v1.3h-1.3zM100.1,253.1h1.3v1.3h-1.3zM100.3,258.9h1.3v1.3h-1.3zM100.5,269.2h1.3v1.3h-1.3zM100.8,260.4h1.3v1.3h-1.3zM101.0,261.0h1.3v1.3h-1.3zM101.2,251.1h1.3v1.3h-1.3zM101.4,244.6h1.3v1.3h-1.3zM101.6,248.9h1.3v1.3h-1.3zM101.8,281.8h1.3v1.3h-1.3zM102.0,270.0h1.3v1.3h-1.3zM102.2,270.8h1.3v1.3h-1.3zM102.4,279.7h1.3v1.3h-1.3zM102.6,258.2h1.3v1.3h-1.3zM102.8,251.3h1.3v1.3h-1.3zM103.0,255.4h1.3v1.3h-1.3zM103.2,248.6h1.3v1.3h-1.3zM103.4,261.8h1.3v1.3h-1.3zM103.6,231.5h1.3v1.3h-1.3zM103.8,252.5h1.3v1.3h-1.3zM104.0,297.5h1.3v1.3h-1.3zM104.2,275.8h1.3v1.3h-1.3zM104.4,260.4h1.3v1.3h-1.3zM104.6,257.7h1.3v1.3h-1.3zM104.8,258.9h1.3v1.3h-1.3zM105.0,230.8h1.3v1.3h-1.3zM105.2,256.8h1.3v1.3h-1.3zM105.4,258.0h1.3v1.3h-1.3zM105.6,250.2h1.3v1.3h-1.3zM105.8,267.7h1.3v1.3h-1.3zM106.0,251.3h1.3v1.3h-1.3zM106.2,256.2h1.3v1.3h-1.3zM106.4,237.6h1.3v1.3h-1.3zM106.6,284.7h1.3v1.3h-1.3zM106.8,277.2h1.3v1.3h-1.3zM107.0,227.2h1.3v1.3h-1.3zM107.2,257.2h1.3v1.3h-1.3zM107.5,275.1h1.3v1.3h-1.3zM107.7,260.8h1.3v1.3h-1.3zM107.9,245.2h1.3v1.3h-1.3zM108.1,268.3h1.3v1.3h-1.3zM108.3,273.5h1.3v1.3h-1.3zM108.5,265.2h1.3v1.3h-1.3zM108.7,257.0h1.3v1.3h-1.3zM108.9,263.0h1.3v1.3h-1.3zM109.1,268.3h1.3v1.3h-1.3zM109.3,278.4h1.3v1.3h-1.3zM109.5,256.8h1.3v1.3h-1.3zM109.7,249.9h1.3v1.3h-1.3zM109.9,268.4h1.3v1.3h-1.3zM110.1,268.6h1.3v1.3h-1.3zM110.3,261.8h1.3v1.3h-1.3zM110.5,278.6h1.3v1.3h-1.3zM110.7,273.7h1.3v1.3h-1.3zM110.9,270.4h1.3v1.3h-1.3zM111.1,238.3h1.3v1.3h-1.3zM111.3,242.1h1.3v1.3h-1.3zM111.5,253.1h1.3v1.3h-1.3zM111.7,260.2h1.3v1.3h-1.3zM111.9,271.6h1.3v1.3h-1.3zM112.1,293.8h1.3v1.3h-1.3zM112.3,252.7h1.3v1.3h-1.3zM112.5,268.8h1.3v1.3h-1.3zM112.7,278.4h1.3v1.3h-1.3zM112.9,278.5h1.3v1.3h-1.3zM113.1,280.5h1.3v1.3h-1.3zM113.3,246.8h1.3v1.3h-1.3zM113.5,262.6h1.3v1.3h-1.3zM113.7,271.3h1.3v1.3h-1.3zM113.9,249.8h1.3v1.3h-1.3zM114.1,258.5h1.3v1.3h-1.3zM114.4,276.2h1.3v1.3h-1.3zM114.6,266.0h1.3v1.3h-1.3zM114.8,247.7h1.3v1.3h-1.3zM115.0,268.5h1.3v1.3h-1.3zM115.2,254.8h1.3v1.3h-1.3zM115.4,279.9h1.3v1.3h-1.3zM115.6,259.8h1.3v1.3h-1.3zM115.8,252.1h1.3v1.3h-1.3zM116.0,256.7h1.3v1.3h-1.3zM116.2,256.3h1.3v1.3h-1.3zM116.4,268.7h1.3v1.3h-1.3zM116.6,281.2h1.3v1.3h-1.3zM116.8,262.6h1.3v1.3h-1.3zM117.0,252.9h1.3v1.3h-1.3zM117.2,276.0h1.3v1.3h-1.3zM117.4,273.0h1.3v1.3h-1.3zM117.6,261.9h1.3v1.3h-1.3zM117.8,253.3h1.3v1.3h-1.3zM118.0,247.2h1.3v1.3h-1.3zM118.2,278.7h1.3v1.3h-1.3zM118.4,276.3h1.3v1.3h-1.3zM118.6,251.2h1.3v1.3h-1.3zM118.8,257.5h1.3v1.3h-1.3zM119.0,250.0h1.3v1.3h-1.3zM119.2,243.1h1.3v1.3h-1.3zM119.4,273.7h1.3v1.3h-1.3zM119.6,249.4h1.3v1.3h-1.3zM119.8,247.0h1.3v1.3h-1.3zM120.0,267.7h1.3v1.3h-1.3zM120.2,257.6h1.3v1.3h-1.3zM120.4,276.3h1.3v1.3h-1.3zM120.6,273.1h1.3v1.3h-1.3zM120.8,252.9h1.3v1.3h-1.3zM121.0,316.9h1.3v1.3h-1.3zM121.3,265.7h1.3v1.3h-1.3zM121.5,251.3h1.3v1.3h-1.3zM121.7,266.7h1.3v1.3h-1.3zM121.9,282.5h1.3v1.3h-1.3zM122.1,256.0h1.3v1.3h-1.3zM122.3,261.7h1.3v1.3h-1.3zM122.5,273.2h1.3v1.3h-1.3zM122.7,261.4h1.3v1.3h-1.3zM122.9,254.4h1.3v1.3h-1.3zM123.1,268.2h1.3v1.3h-1.3zM123.3,249.9h1.3v1.3h-1.3zM123.5,270.7h1.3v1.3h-1.3zM123.7,268.0h1.3v1.3h-1.3zM123.9,278.2h1.3v1.3h-1.3zM124.1,268.2h1.3v1.3h-1.3zM124.3,243.3h1.3v1.3h-1.3zM124.5,277.8h1.3v1.3h-1.3zM124.7,263.9h1.3v1.3h-1.3zM124.9,251.5h1.3v1.3h-1.3zM125.1,246.2h1.3v1.3h-1.3zM125.3,278.8h1.3v1.3h-1.3zM125.5,280.1h1.3v1.3h-1.3zM125.7,243.5h1.3v1.3h-1.3zM125.9,279.1h1.3v1.3h-1.3zM126.1,289.5h1.3v1.3h-1.3zM126.3,260.3h1.3v1.3h-1.3zM126.5,276.9h1.3v1.3h-1.3zM126.7,239.8h1.3v1.3h-1.3zM126.9,276.0h1.3v1.3h-1.3zM127.1,246.5h1.3v1.3h-1.3zM127.3,275.0h1.3v1.3h-1.3zM127.5,252.4h1.3v1.3h-1.3zM127.7,258.5h1.3v1.3h-1.3zM127.9,264.5h1.3v1.3h-1.3zM128.2,282.5h1.3v1.3h-1.3zM128.4,230.7h1.3v1.3h-1.3zM128.6,257.1h1.3v1.3h-1.3zM128.8,254.4h1.3v1.3h-1.3zM129.0,265.2h1.3v1.3h-1.3zM129.2,281.5h1.3v1.3h-1.3zM129.4,257.6h1.3v1.3h-1.3zM129.6,247.5h1.3v1.3h-1.3zM129.8,246.4h1.3v1.3h-1.3zM130.0,258.5h1.3v1.3h-1.3zM130.2,247.6h1.3v1.3h-1.3zM130.4,274.5h1.3v1.3h-1.3zM130.6,258.3h1.3v1.3h-1.3zM130.8,282.5h1.3v1.3h-1.3zM131.0,263.3h1.3v1.3h-1.3zM131.2,278.8h1.3v1.3h-1.3zM131.4,276.6h1.3v1.3h-1.3zM131.6,248.7h1.3v1.3h-1.3zM131.8,254.5h1.3v1.3h-1.3zM132.0,276.3h1.3v1.3h-1.3zM132.2,256.5h1.3v1.3h-1.3zM132.4,273.0h1.3v1.3h-1.3zM132.6,262.3h1.3v1.3h-1.3zM132.8,272.3h1.3v1.3h-1.3zM133.0,257.5h1.3v1.3h-1.3zM133.2,258.2h1.3v1.3h-1.3zM133.4,261.9h1.3v1.3h-1.3zM133.6,267.7h1.3v1.3h-1.3zM133.8,251.5h1.3v1.3h-1.3zM134.0,244.7h1.3v1.3h-1.3zM134.2,276.5h1.3v1.3h-1.3zM134.4,278.3h1.3v1.3h-1.3zM134.6,279.2h1.3v1.3h-1.3zM134.8,243.8h1.3v1.3h-1.3zM135.1,245.4h1.3v1.3h-1.3zM135.3,274.4h1.3v1.3h-1.3zM135.5,244.2h1.3v1.3h-1.3zM135.7,283.2h1.3v1.3h-1.3zM135.9,263.1h1.3v1.3h-1.3zM136.1,226.1h1.3v1.3h-1.3zM136.3,246.5h1.3v1.3h-1.3zM136.5,282.2h1.3v1.3h-1.3zM136.7,266.1h1.3v1.3h-1.3zM136.9,259.3h1.3v1.3h-1.3zM137.1,281.1h1.3v1.3h-1.3zM137.3,274.2h1.3v1.3h-1.3zM137.5,264.8h1.3v1.3h-1.3zM137.7,236.8h1.3v1.3h-1.3zM137.9,252.7h1.3v1.3h-1.3zM138.1,250.0h1.3v1.3h-1.3zM138.3,266.3h1.3v1.3h-1.3zM138.5,254.9h1.3v1.3h-1.3zM138.7,249.1h1.3v1.3h-1.3zM138.9,256.0h1.3v1.3h-1.3zM139.1,253.8h1.3v1.3h-1.3zM139.3,273.5h1.3v1.3h-1.3zM139.5,277.0h1.3v1.3h-1.3zM139.7,282.9h1.3v1.3h-1.3zM139.9,277.1h1.3v1.3h-1.3zM140.1,246.3h1.3v1.3h-1.3zM140.3,259.5h1.3v1.3h-1.3zM140.5,270.4h1.3v1.3h-1.3zM140.7,267.4h1.3v1.3h-1.3zM140.9,270.6h1.3v1.3h-1.3zM141.1,258.3h1.3v1.3h-1.3zM141.3,280.1h1.3v1.3h-1.3zM141.5,244.4h1.3v1.3h-1.3zM141.7,260.3h1.3v1.3h-1.3zM142.0,251.0h1.3v1.3h-1.3zM142.2,272.3h1.3v1.3h-1.3zM142.4,251.1h1.3v1.3h-1.3zM142.6,278.7h1.3v1.3h-1.3zM142.8,257.5h1.3v1.3h-1.3zM143.0,248.5h1.3v1.3h-1.3zM143.2,260.6h1.3v1.3h-1.3zM143.4,266.9h1.3v1.3h-1.3zM143.6,255.6h1.3v1.3h-1.3zM143.8,320.2h1.3v1.3h-1.3zM144.0,300.5h1.3v1.3h-1.3zM144.2,256.5h1.3v1.3h-1.3zM144.4,275.3h1.3v1.3h-1.3zM144.6,271.6h1.3v1.3h-1.3zM144.8,252.4h1.3v1.3h-1.3zM145.0,275.2h1.3v1.3h-1.3zM145.2,254.1h1.3v1.3h-1.3zM145.4,283.2h1.3v1.3h-1.3zM145.6,244.7h1.3v1.3h-1.3zM145.8,264.7h1.3v1.3h-1.3zM146.0,267.1h1.3v1.3h-1.3zM146.2,254.4h1.3v1.3h-1.3zM146.4,262.5h1.3v1.3h-1.3zM146.6,269.1h1.3v1.3h-1.3zM146.8,315.4h1.3v1.3h-1.3zM147.0,263.3h1.3v1.3h-1.3zM147.2,265.3h1.3v1.3h-1.3zM147.4,278.1h1.3v1.3h-1.3zM147.6,266.2h1.3v1.3h-1.3zM147.8,265.3h1.3v1.3h-1.3zM148.0,258.1h1.3v1.3h-1.3zM148.2,261.3h1.3v1.3h-1.3zM148.4,280.8h1.3v1.3h-1.3zM148.7,259.6h1.3v1.3h-1.3zM148.9,274.8h1.3v1.3h-1.3zM149.1,275.8h1.3v1.3h-1.3zM149.3,272.7h1.3v1.3h-1.3zM149.5,275.7h1.3v1.3h-1.3zM149.7,265.3h1.3v1.3h-1.3zM149.9,261.7h1.3v1.3h-1.3zM150.1,244.0h1.3v1.3h-1.3zM150.3,261.2h1.3v1.3h-1.3zM150.5,250.9h1.3v1.3h-1.3zM150.7,264.8h1.3v1.3h-1.3zM150.9,258.5h1.3v1.3h-1.3zM151.1,256.9h1.3v1.3h-1.3zM151.3,266.7h1.3v1.3h-1.3zM151.5,257.6h1.3v1.3h-1.3zM151.7,280.3h1.3v1.3h-1.3zM151.9,261.0h1.3v1.3h-1.3zM152.1,267.7h1.3v1.3h-1.3zM152.3,253.4h1.3v1.3h-1.3zM152.5,278.1h1.3v1.3h-1.3zM152.7,281.0h1.3v1.3h-1.3zM152.9,253.0h1.3v1.3h-1.3zM153.1,263.3h1.3v1.3h-1.3zM153.3,270.0h1.3v1.3h-1.3zM153.5,250.1h1.3v1.3h-1.3zM153.7,268.3h1.3v1.3h-1.3zM153.9,249.3h1.3v1.3h-1.3zM154.1,251.8h1.3v1.3h-1.3zM154.3,265.6h1.3v1.3h-1.3zM154.5,255.8h1.3v1.3h-1.3zM154.7,271.4h1.3v1.3h-1.3zM154.9,262.8h1.3v1.3h-1.3zM155.1,248.7h1.3v1.3h-1.3zM155.3,260.2h1.3v1.3h-1.3zM155.6,261.0h1.3v1.3h-1.3zM155.8,269.9h1.3v1.3h-1.3zM156.0,256.1h1.3v1.3h-1.3zM156.2,260.0h1.3v1.3h-1.3zM156.4,266.6h1.3v1.3h-1.3zM156.6,262.5h1.3v1.3h-1.3zM156.8,271.9h1.3v1.3h-1.3zM157.0,271.9h1.3v1.3h-1.3zM157.2,266.2h1.3v1.3h-1.3zM157.4,243.0h1.3v1.3h-1.3zM157.6,316.2h1.3v1.3h-1.3zM157.8,265.6h1.3v1.3h-1.3zM158.0,268.6h1.3v1.3h-1.3zM158.2,260.1h1.3v1.3h-1.3zM158.4,245.1h1.3v1.3h-1.3zM158.6,270.5h1.3v1.3h-1.3zM158.8,267.0h1.3v1.3h-1.3zM159.0,271.8h1.3v1.3h-1.3zM159.2,254.3h1.3v1.3h-1.3zM159.4,274.1h1.3v1.3h-1.3zM159.6,255.8h1.3v1.3h-1.3zM159.8,280.8h1.3v1.3h-1.3zM160.0,248.4h1.3v1.3h-1.3zM160.2,271.0h1.3v1.3h-1.3zM160.4,275.2h1.3v1.3h-1.3zM160.6,277.9h1.3v1.3h-1.3zM160.8,266.7h1.3v1.3h-1.3zM161.0,250.0h1.3v1.3h-1.3zM161.2,250.0h1.3v1.3h-1.3zM161.4,319.0h1.3v1.3h-1.3zM161.6,252.5h1.3v1.3h-1.3zM161.8,258.5h1.3v1.3h-1.3zM162.0,268.6h1.3v1.3h-1.3zM162.2,261.5h1.3v1.3h-1.3zM162.5,275.6h1.3v1.3h-1.3zM162.7,242.1h1.3v1.3h-1.3zM162.9,255.0h1.3v1.3h-1.3zM163.1,273.8h1.3v1.3h-1.3zM163.3,281.5h1.3v1.3h-1.3zM163.5,253.9h1.3v1.3h-1.3zM163.7,250.4h1.3v1.3h-1.3zM163.9,265.6h1.3v1.3h-1.3zM164.1,281.3h1.3v1.3h-1.3zM164.3,255.9h1.3v1.3h-1.3zM164.5,273.8h1.3v1.3h-1.3zM164.7,253.5h1.3v1.3h-1.3zM164.9,268.4h1.3v1.3h-1.3zM165.1,257.8h1.3v1.3h-1.3zM165.3,273.3h1.3v1.3h-1.3zM165.5,264.4h1.3v1.3h-1.3zM165.7,260.8h1.3v1.3h-1.3zM165.9,236.6h1.3v1.3h-1.3zM166.1,239.6h1.3v1.3h-1.3zM166.3,244.5h1.3v1.3h-1.3zM166.5,272.0h1.3v1.3h-1.3zM166.7,271.3h1.3v1.3h-1.3zM166.9,273.4h1.3v1.3h-1.3zM167.1,281.1h1.3v1.3h-1.3zM167.3,290.5h1.3v1.3h-1.3zM167.5,266.3h1.3v1.3h-1.3zM167.7,254.8h1.3v1.3h-1.3zM167.9,265.8h1.3v1.3h-1.3zM168.1,278.2h1.3v1.3h-1.3zM168.3,270.6h1.3v1.3h-1.3zM168.5,243.3h1.3v1.3h-1.3zM168.7,319.3h1.3v1.3h-1.3zM168.9,246.1h1.3v1.3h-1.3zM169.1,291.5h1.3v1.3h-1.3zM169.4,283.3h1.3v1.3h-1.3zM169.6,259.4h1.3v1.3h-1.3zM169.8,253.2h1.3v1.3h-1.3zM170.0,269.8h1.3v1.3h-1.3zM170.2,273.3h1.3v1.3h-1.3zM170.4,266.0h1.3v1.3h-1.3zM170.6,260.0h1.3v1.3h-1.3zM170.8,278.0h1.3v1.3h-1.3zM171.0,265.8h1.3v1.3h-1.3zM171.2,257.7h1.3v1.3h-1.3zM171.4,269.4h1.3v1.3h-1.3zM171.6,261.8h1.3v1.3h-1.3zM171.8,276.7h1.3v1.3h-1.3zM172.0,230.6h1.3v1.3h-1.3zM172.2,254.3h1.3v1.3h-1.3zM172.4,282.8h1.3v1.3h-1.3zM172.6,276.3h1.3v1.3h-1.3zM172.8,261.8h1.3v1.3h-1.3zM173.0,264.5h1.3v1.3h-1.3zM173.2,283.2h1.3v1.3h-1.3zM173.4,265.1h1.3v1.3h-1.3zM173.6,277.2h1.3v1.3h-1.3zM173.8,272.8h1.3v1.3h-1.3zM174.0,259.1h1.3v1.3h-1.3zM174.2,276.3h1.3v1.3h-1.3zM174.4,258.6h1.3v1.3h-1.3zM174.6,267.2h1.3v1.3h-1.3zM174.8,266.8h1.3v1.3h-1.3zM175.0,250.5h1.3v1.3h-1.3zM175.2,277.3h1.3v1.3h-1.3zM175.4,246.1h1.3v1.3h-1.3zM175.6,247.3h1.3v1.3h-1.3zM175.8,256.5h1.3v1.3h-1.3zM176.0,256.2h1.3v1.3h-1.3zM176.3,256.7h1.3v1.3h-1.3zM176.5,284.6h1.3v1.3h-1.3zM176.7,227.3h1.3v1.3h-1.3zM176.9,242.1h1.3v1.3h-1.3zM177.1,244.9h1.3v1.3h-1.3zM177.3,253.2h1.3v1.3h-1.3zM177.5,279.2h1.3v1.3h-1.3zM177.7,271.0h1.3v1.3h-1.3zM177.9,282.5h1.3v1.3h-1.3zM178.1,252.8h1.3v1.3h-1.3zM178.3,246.5h1.3v1.3h-1.3zM178.5,243.4h1.3v1.3h-1.3zM178.7,278.1h1.3v1.3h-1.3zM178.9,264.6h1.3v1.3h-1.3zM179.1,271.9h1.3v1.3h-1.3zM179.3,260.5h1.3v1.3h-1.3zM179.5,269.5h1.3v1.3h-1.3zM179.7,259.0h1.3v1.3h-1.3zM179.9,270.1h1.3v1.3h-1.3zM180.1,262.9h1.3v1.3h-1.3zM180.3,283.1h1.3v1.3h-1.3zM180.5,254.3h1.3v1.3h-1.3zM180.7,253.3h1.3v1.3h-1.3zM180.9,266.6h1.3v1.3h-1.3zM181.1,318.0h1.3v1.3h-1.3zM181.3,253.0h1.3v1.3h-1.3zM181.5,271.8h1.3v1.3h-1.3zM181.7,280.7h1.3v1.3h-1.3zM181.9,278.4h1.3v1.3h-1.3zM182.1,264.8h1.3v1.3h-1.3zM182.3,271.4h1.3v1.3h-1.3zM182.5,265.5h1.3v1.3h-1.3zM182.7,245.9h1.3v1.3h-1.3zM182.9,283.3h1.3v1.3h-1.3zM183.2,265.1h1.3v1.3h-1.3zM183.4,256.0h1.3v1.3h-1.3zM183.6,249.0h1.3v1.3h-1.3zM183.8,267.4h1.3v1.3h-1.3zM184.0,262.5h1.3v1.3h-1.3zM184.2,251.7h1.3v1.3h-1.3zM184.4,270.7h1.3v1.3h-1.3zM184.6,270.9h1.3v1.3h-1.3zM184.8,251.2h1.3v1.3h-1.3zM185.0,243.7h1.3v1.3h-1.3zM185.2,275.2h1.3v1.3h-1.3zM185.4,272.9h1.3v1.3h-1.3zM185.6,276.0h1.3v1.3h-1.3zM185.8,272.9h1.3v1.3h-1.3zM186.0,255.1h1.3v1.3h-1.3zM186.2,274.4h1.3v1.3h-1.3zM186.4,250.5h1.3v1.3h-1.3zM186.6,279.0h1.3v1.3h-1.3zM186.8,271.8h1.3v1.3h-1.3zM187.0,282.4h1.3v1.3h-1.3zM187.2,261.4h1.3v1.3h-1.3zM187.4,249.2h1.3v1.3h-1.3zM187.6,280.4h1.3v1.3h-1.3zM187.8,312.2h1.3v1.3h-1.3zM188.0,242.1h1.3v1.3h-1.3zM188.2,259.0h1.3v1.3h-1.3zM188.4,271.1h1.3v1.3h-1.3zM188.6,258.1h1.3v1.3h-1.3zM188.8,240.1h1.3v1.3h-1.3zM189.0,248.6h1.3v1.3h-1.3zM189.2,259.9h1.3v1.3h-1.3zM189.4,270.9h1.3v1.3h-1.3zM189.6,267.9h1.3v1.3h-1.3zM189.9,253.6h1.3v1.3h-1.3zM190.1,316.3h1.3v1.3h-1.3zM190.3,272.9h1.3v1.3h-1.3zM190.5,255.3h1.3v1.3h-1.3zM190.7,268.0h1.3v1.3h-1.3zM190.9,248.3h1.3v1.3h-1.3zM191.1,244.5h1.3v1.3h-1.3zM191.3,248.6h1.3v1.3h-1.3zM191.5,275.5h1.3v1.3h-1.3zM191.7,288.8h1.3v1.3h-1.3zM191.9,272.4h1.3v1.3h-1.3zM192.1,256.7h1.3v1.3h-1.3zM192.3,248.7h1.3v1.3h-1.3zM192.5,265.5h1.3v1.3h-1.3zM192.7,255.6h1.3v1.3h-1.3zM192.9,247.2h1.3v1.3h-1.3zM193.1,280.7h1.3v1.3h-1.3zM193.3,274.9h1.3v1.3h-1.3zM193.5,272.8h1.3v1.3h-1.3zM193.7,276.8h1.3v1.3h-1.3zM193.9,281.3h1.3v1.3h-1.3zM194.1,264.8h1.3v1.3h-1.3zM194.3,275.1h1.3v1.3h-1.3zM194.5,253.7h1.3v1.3h-1.3zM194.7,246.1h1.3v1.3h-1.3zM194.9,320.6h1.3v1.3h-1.3zM195.1,251.1h1.3v1.3h-1.3zM195.3,267.3h1.3v1.3h-1.3zM195.5,271.4h1.3v1.3h-1.3zM195.7,278.7h1.3v1.3h-1.3zM195.9,262.3h1.3v1.3h-1.3zM196.1,265.6h1.3v1.3h-1.3zM196.3,251.0h1.3v1.3h-1.3zM196.5,281.1h1.3v1.3h-1.3zM196.8,273.7h1.3v1.3h-1.3zM197.0,248.5h1.3v1.3h-1.3zM197.2,248.4h1.3v1.3h-1.3zM197.4,232.0h1.3v1.3h-1.3zM197.6,262.5h1.3v1.3h-1.3zM197.8,268.8h1.3v1.3h-1.3zM198.0,231.9h1.3v1.3h-1.3zM198.2,280.8h1.3v1.3h-1.3zM198.4,273.0h1.3v1.3h-1.3zM198.6,280.1h1.3v1.3h-1.3zM198.8,264.6h1.3v1.3h-1.3zM199.0,273.2h1.3v1.3h-1.3zM199.2,248.3h1.3v1.3h-1.3zM199.4,270.8h1.3v1.3h-1.3zM199.6,282.1h1.3v1.3h-1.3zM199.8,243.0h1.3v1.3h-1.3zM200.0,277.6h1.3v1.3h-1.3zM200.2,280.5h1.3v1.3h-1.3zM200.4,240.5h1.3v1.3h-1.3zM200.6,256.6h1.3v1.3h-1.3zM200.8,260.2h1.3v1.3h-1.3zM201.0,251.0h1.3v1.3h-1.3zM201.2,270.6h1.3v1.3h-1.3zM201.4,260.5h1.3v1.3h-1.3zM201.6,253.1h1.3v1.3h-1.3zM201.8,259.8h1.3v1.3h-1.3zM202.0,251.0h1.3v1.3h-1.3zM202.2,268.8h1.3v1.3h-1.3zM202.4,264.2h1.3v1.3h-1.3zM202.6,260.0h1.3v1.3h-1.3zM202.8,260.5h1.3v1.3h-1.3zM203.0,293.3h1.3v1.3h-1.3zM203.2,274.7h1.3v1.3h-1.3zM203.4,250.5h1.3v1.3h-1.3zM203.7,273.7h1.3v1.3h-1.3zM203.9,232.1h1.3v1.3h-1.3zM204.1,253.9h1.3v1.3h-1.3zM204.3,266.7h1.3v1.3h-1.3zM204.5,272.8h1.3v1.3h-1.3zM204.7,268.6h1.3v1.3h-1.3zM204.9,261.7h1.3v1.3h-1.3zM205.1,255.8h1.3v1.3h-1.3zM205.3,261.0h1.3v1.3h-1.3zM205.5,279.5h1.3v1.3h-1.3zM205.7,250.4h1.3v1.3h-1.3zM205.9,246.1h1.3v1.3h-1.3zM206.1,237.2h1.3v1.3h-1.3zM206.3,273.6h1.3v1.3h-1.3zM206.5,276.7h1.3v1.3h-1.3zM206.7,249.1h1.3v1.3h-1.3zM206.9,246.6h1.3v1.3h-1.3zM207.1,274.5h1.3v1.3h-1.3zM207.3,270.3h1.3v1.3h-1.3zM207.5,276.0h1.3v1.3h-1.3zM207.7,259.4h1.3v1.3h-1.3zM207.9,246.2h1.3v1.3h-1.3zM208.1,281.0h1.3v1.3h-1.3zM208.3,276.8h1.3v1.3h-1.3zM208.5,263.9h1.3v1.3h-1.3zM208.7,266.1h1.3v1.3h-1.3zM208.9,252.8h1.3v1.3h-1.3zM209.1,266.0h1.3v1.3h-1.3zM209.3,278.1h1.3v1.3h-1.3zM209.5,263.5h1.3v1.3h-1.3zM209.7,243.7h1.3v1.3h-1.3zM209.9,253.2h1.3v1.3h-1.3zM210.1,266.5h1.3v1.3h-1.3zM210.3,262.1h1.3v1.3h-1.3zM210.6,271.1h1.3v1.3h-1.3zM210.8,265.2h1.3v1.3h-1.3zM211.0,283.3h1.3v1.3h-1.3zM211.2,248.2h1.3v1.3h-1.3zM211.4,270.4h1.3v1.3h-1.3zM211.6,265.2h1.3v1.3h-1.3zM211.8,313.2h1.3v1.3h-1.3zM212.0,263.1h1.3v1.3h-1.3zM212.2,277.1h1.3v1.3h-1.3zM212.4,278.1h1.3v1.3h-1.3zM212.6,267.6h1.3v1.3h-1.3zM212.8,255.6h1.3v1.3h-1.3zM213.0,256.7h1.3v1.3h-1.3zM213.2,278.5h1.3v1.3h-1.3zM213.4,264.8h1.3v1.3h-1.3zM213.6,269.3h1.3v1.3h-1.3zM213.8,259.9h1.3v1.3h-1.3zM214.0,272.4h1.3v1.3h-1.3zM214.2,250.0h1.3v1.3h-1.3zM214.4,270.3h1.3v1.3h-1.3zM214.6,253.0h1.3v1.3h-1.3zM214.8,273.4h1.3v1.3h-1.3zM215.0,267.3h1.3v1.3h-1.3zM215.2,253.0h1.3v1.3h-1.3zM215.4,281.0h1.3v1.3h-1.3zM215.6,247.6h1.3v1.3h-1.3zM215.8,267.5h1.3v1.3h-1.3zM216.0,271.1h1.3v1.3h-1.3zM216.2,253.8h1.3v1.3h-1.3zM216.4,290.1h1.3v1.3h-1.3zM216.6,278.1h1.3v1.3h-1.3zM216.8,265.9h1.3v1.3h-1.3zM217.0,259.2h1.3v1.3h-1.3zM217.2,267.7h1.3v1.3h-1.3zM217.5,277.9h1.3v1.3h-1.3zM217.7,261.6h1.3v1.3h-1.3zM217.9,268.1h1.3v1.3h-1.3zM218.1,278.4h1.3v1.3h-1.3zM218.3,244.1h1.3v1.3h-1.3zM218.5,255.4h1.3v1.3h-1.3zM218.7,268.8h1.3v1.3h-1.3zM218.9,246.8h1.3v1.3h-1.3zM219.1,255.2h1.3v1.3h-1.3zM219.3,261.6h1.3v1.3h-1.3zM219.5,270.3h1.3v1.3h-1.3zM219.7,245.5h1.3v1.3h-1.3zM219.9,282.5h1.3v1.3h-1.3zM220.1,246.3h1.3v1.3h-1.3zM220.3,258.8h1.3v1.3h-1.3zM220.5,281.1h1.3v1.3h-1.3zM220.7,260.6h1.3v1.3h-1.3zM220.9,265.1h1.3v1.3h-1.3zM221.1,260.8h1.3v1.3h-1.3zM221.3,253.7h1.3v1.3h-1.3zM221.5,256.1h1.3v1.3h-1.3zM221.7,243.1h1.3v1.3h-1.3zM221.9,277.4h1.3v1.3h-1.3zM222.1,250.6h1.3v1.3h-1.3zM222.3,267.0h1.3v1.3h-1.3zM222.5,251.8h1.3v1.3h-1.3zM222.7,247.4h1.3v1.3h-1.3zM222.9,243.3h1.3v1.3h-1.3zM223.1,275.6h1.3v1.3h-1.3zM223.3,265.3h1.3v1.3h-1.3zM223.5,245.3h1.3v1.3h-1.3zM223.7,249.5h1.3v1.3h-1.3zM223.9,268.6h1.3v1.3h-1.3zM224.1,245.4h1.3v1.3h-1.3zM224.4,238.6h1.3v1.3h-1.3zM224.6,268.5h1.3v1.3h-1.3zM224.8,252.9h1.3v1.3h-1.3zM225.0,264.6h1.3v1.3h-1.3zM225.2,265.5h1.3v1.3h-1.3zM225.4,268.1h1.3v1.3h-1.3zM225.6,269.4h1.3v1.3h-1.3zM225.8,278.1h1.3v1.3h-1.3zM226.0,281.3h1.3v1.3h-1.3zM226.2,253.0h1.3v1.3h-1.3zM226.4,254.7h1.3v1.3h-1.3zM226.6,256.4h1.3v1.3h-1.3zM226.8,223.1h1.3v1.3h-1.3zM227.0,274.4h1.3v1.3h-1.3zM227.2,274.3h1.3v1.3h-1.3zM227.4,272.5h1.3v1.3h-1.3zM227.6,271.1h1.3v1.3h-1.3zM227.8,251.7h1.3v1.3h-1.3zM228.0,268.5h1.3v1.3h-1.3zM228.2,265.7h1.3v1.3h-1.3zM228.4,257.8h1.3v1.3h-1.3zM228.6,276.2h1.3v1.3h-1.3zM228.8,279.5h1.3v1.3h-1.3zM229.0,271.8h1.3v1.3h-1.3zM229.2,252.9h1.3v1.3h-1.3zM229.4,240.8h1.3v1.3h-1.3zM229.6,257.8h1.3v1.3h-1.3zM229.8,282.4h1.3v1.3h-1.3zM230.0,267.3h1.3v1.3h-1.3zM230.2,260.2h1.3v1.3h-1.3zM230.4,273.5h1.3v1.3h-1.3zM230.6,267.3h1.3v1.3h-1.3zM230.8,258.9h1.3v1.3h-1.3zM231.1,259.7h1.3v1.3h-1.3zM231.3,271.4h1.3v1.3h-1.3zM231.5,255.0h1.3v1.3h-1.3zM231.7,280.6h1.3v1.3h-1.3zM231.9,261.4h1.3v1.3h-1.3zM232.1,275.6h1.3v1.3h-1.3zM232.3,273.5h1.3v1.3h-1.3zM232.5,275.6h1.3v1.3h-1.3zM232.7,243.3h1.3v1.3h-1.3zM232.9,261.6h1.3v1.3h-1.3zM233.1,259.1h1.3v1.3h-1.3zM233.3,243.4h1.3v1.3h-1.3zM233.5,235.8h1.3v1.3h-1.3zM233.7,230.3h1.3v1.3h-1.3zM233.9,262.5h1.3v1.3h-1.3zM234.1,259.3h1.3v1.3h-1.3zM234.3,255.1h1.3v1.3h-1.3zM234.5,270.1h1.3v1.3h-1.3zM234.7,270.4h1.3v1.3h-1.3zM234.9,283.7h1.3v1.3h-1.3zM235.1,282.4h1.3v1.3h-1.3zM235.3,261.4h1.3v1.3h-1.3zM235.5,263.0h1.3v1.3h-1.3zM235.7,275.6h1.3v1.3h-1.3zM235.9,270.2h1.3v1.3h-1.3zM236.1,281.0h1.3v1.3h-1.3zM236.3,269.2h1.3v1.3h-1.3zM236.5,234.6h1.3v1.3h-1.3zM236.7,266.1h1.3v1.3h-1.3zM236.9,284.7h1.3v1.3h-1.3zM237.1,262.4h1.3v1.3h-1.3zM237.3,283.4h1.3v1.3h-1.3zM237.5,273.8h1.3v1.3h-1.3zM237.7,283.2h1.3v1.3h-1.3zM238.0,247.2h1.3v1.3h-1.3zM238.2,260.9h1.3v1.3h-1.3zM238.4,280.0h1.3v1.3h-1.3zM238.6,270.8h1.3v1.3h-1.3zM238.8,282.7h1.3v1.3h-1.3zM239.0,274.9h1.3v1.3h-1.3zM239.2,282.8h1.3v1.3h-1.3zM239.4,251.6h1.3v1.3h-1.3zM239.6,258.0h1.3v1.3h-1.3zM239.8,279.7h1.3v1.3h-1.3zM240.0,277.5h1.3v1.3h-1.3zM240.2,297.3h1.3v1.3h-1.3zM240.4,270.1h1.3v1.3h-1.3zM240.6,270.2h1.3v1.3h-1.3zM240.8,280.3h1.3v1.3h-1.3zM241.0,260.6h1.3v1.3h-1.3zM241.2,267.5h1.3v1.3h-1.3zM241.4,261.5h1.3v1.3h-1.3zM241.6,258.6h1.3v1.3h-1.3zM241.8,279.7h1.3v1.3h-1.3zM242.0,273.2h1.3v1.3h-1.3zM242.2,265.3h1.3v1.3h-1.3zM242.4,244.9h1.3v1.3h-1.3zM242.6,250.5h1.3v1.3h-1.3zM242.8,264.8h1.3v1.3h-1.3zM243.0,269.1h1.3v1.3h-1.3zM243.2,283.2h1.3v1.3h-1.3zM243.4,247.4h1.3v1.3h-1.3zM243.6,281.1h1.3v1.3h-1.3zM243.8,278.6h1.3v1.3h-1.3zM244.0,255.5h1.3v1.3h-1.3zM244.2,250.7h1.3v1.3h-1.3zM244.4,269.5h1.3v1.3h-1.3zM244.6,265.4h1.3v1.3h-1.3zM244.9,273.0h1.3v1.3h-1.3zM245.1,251.0h1.3v1.3h-1.3zM245.3,249.1h1.3v1.3h-1.3zM245.5,263.6h1.3v1.3h-1.3zM245.7,273.9h1.3v1.3h-1.3zM245.9,248.5h1.3v1.3h-1.3zM246.1,267.4h1.3v1.3h-1.3zM246.3,271.1h1.3v1.3h-1.3zM246.5,263.2h1.3v1.3h-1.3zM246.7,283.5h1.3v1.3h-1.3zM246.9,265.7h1.3v1.3h-1.3zM247.1,275.7h1.3v1.3h-1.3zM247.3,254.7h1.3v1.3h-1.3zM247.5,253.4h1.3v1.3h-1.3zM247.7,248.3h1.3v1.3h-1.3zM247.9,247.2h1.3v1.3h-1.3zM248.1,270.9h1.3v1.3h-1.3zM248.3,272.4h1.3v1.3h-1.3zM248.5,245.5h1.3v1.3h-1.3zM248.7,263.2h1.3v1.3h-1.3zM248.9,279.9h1.3v1.3h-1.3zM249.1,266.0h1.3v1.3h-1.3zM249.3,262.7h1.3v1.3h-1.3zM249.5,265.2h1.3v1.3h-1.3zM249.7,258.6h1.3v1.3h-1.3zM249.9,262.9h1.3v1.3h-1.3zM250.1,254.8h1.3v1.3h-1.3zM250.3,260.9h1.3v1.3h-1.3zM250.5,245.0h1.3v1.3h-1.3zM250.7,245.1h1.3v1.3h-1.3zM250.9,278.7h1.3v1.3h-1.3zM251.1,277.6h1.3v1.3h-1.3zM251.3,270.4h1.3v1.3h-1.3zM251.5,249.8h1.3v1.3h-1.3zM251.8,271.5h1.3v1.3h-1.3zM252.0,246.1h1.3v1.3h-1.3zM252.2,266.3h1.3v1.3h-1.3zM252.4,275.2h1.3v1.3h-1.3zM252.6,250.4h1.3v1.3h-1.3zM252.8,283.3h1.3v1.3h-1.3zM253.0,255.3h1.3v1.3h-1.3zM253.2,275.9h1.3v1.3h-1.3zM253.4,264.6h1.3v1.3h-1.3zM253.6,244.0h1.3v1.3h-1.3zM253.8,261.8h1.3v1.3h-1.3zM254.0,266.4h1.3v1.3h-1.3zM254.2,248.1h1.3v1.3h-1.3zM254.4,256.9h1.3v1.3h-1.3zM254.6,281.5h1.3v1.3h-1.3zM254.8,273.5h1.3v1.3h-1.3zM255.0,314.5h1.3v1.3h-1.3zM255.2,305.8h1.3v1.3h-1.3zM255.4,268.2h1.3v1.3h-1.3zM255.6,263.3h1.3v1.3h-1.3zM255.8,271.7h1.3v1.3h-1.3zM256.0,257.0h1.3v1.3h-1.3zM256.2,276.8h1.3v1.3h-1.3zM256.4,242.2h1.3v1.3h-1.3zM256.6,244.6h1.3v1.3h-1.3zM256.8,257.8h1.3v1.3h-1.3zM257.0,264.8h1.3v1.3h-1.3zM257.2,248.7h1.3v1.3h-1.3zM257.4,267.6h1.3v1.3h-1.3zM257.6,242.1h1.3v1.3h-1.3zM257.8,272.1h1.3v1.3h-1.3zM258.0,259.3h1.3v1.3h-1.3zM258.2,225.4h1.3v1.3h-1.3zM258.4,257.7h1.3v1.3h-1.3zM258.7,265.2h1.3v1.3h-1.3zM258.9,281.6h1.3v1.3h-1.3zM259.1,250.9h1.3v1.3h-1.3zM259.3,261.7h1.3v1.3h-1.3zM259.5,278.1h1.3v1.3h-1.3zM259.7,277.3h1.3v1.3h-1.3zM259.9,281.0h1.3v1.3h-1.3zM260.1,273.3h1.3v1.3h-1.3zM260.3,259.2h1.3v1.3h-1.3zM260.5,279.8h1.3v1.3h-1.3zM260.7,256.5h1.3v1.3h-1.3zM260.9,237.8h1.3v1.3h-1.3zM261.1,243.8h1.3v1.3h-1.3zM261.3,259.3h1.3v1.3h-1.3zM261.5,265.9h1.3v1.3h-1.3zM261.7,276.6h1.3v1.3h-1.3zM261.9,244.2h1.3v1.3h-1.3zM262.1,275.6h1.3v1.3h-1.3zM262.3,248.3h1.3v1.3h-1.3zM262.5,248.0h1.3v1.3h-1.3zM262.7,278.4h1.3v1.3h-1.3zM262.9,266.8h1.3v1.3h-1.3zM263.1,275.6h1.3v1.3h-1.3zM263.3,262.6h1.3v1.3h-1.3zM263.5,272.0h1.3v1.3h-1.3zM263.7,234.4h1.3v1.3h-1.3zM263.9,278.6h1.3v1.3h-1.3zM264.1,251.1h1.3v1.3h-1.3zM264.3,254.0h1.3v1.3h-1.3zM264.5,278.0h1.3v1.3h-1.3zM264.7,251.4h1.3v1.3h-1.3zM264.9,242.1h1.3v1.3h-1.3zM265.1,278.3h1.3v1.3h-1.3zM265.3,276.1h1.3v1.3h-1.3zM265.6,260.0h1.3v1.3h-1.3zM265.8,266.6h1.3v1.3h-1.3zM266.0,266.3h1.3v1.3h-1.3zM266.2,254.3h1.3v1.3h-1.3zM266.4,256.7h1.3v1.3h-1.3zM266.6,269.6h1.3v1.3h-1.3zM266.8,272.5h1.3v1.3h-1.3zM267.0,264.9h1.3v1.3h-1.3zM267.2,284.7h1.3v1.3h-1.3zM267.4,269.6h1.3v1.3h-1.3zM267.6,254.5h1.3v1.3h-1.3zM267.8,271.2h1.3v1.3h-1.3zM268.0,247.3h1.3v1.3h-1.3zM268.2,267.7h1.3v1.3h-1.3zM268.4,265.3h1.3v1.3h-1.3zM268.6,248.0h1.3v1.3h-1.3zM268.8,256.3h1.3v1.3h-1.3zM269.0,280.0h1.3v1.3h-1.3zM269.2,224.6h1.3v1.3h-1.3zM269.4,243.4h1.3v1.3h-1.3zM269.6,282.6h1.3v1.3h-1.3zM269.8,271.5h1.3v1.3h-1.3zM270.0,244.7h1.3v1.3h-1.3zM270.2,283.2h1.3v1.3h-1.3zM270.4,277.2h1.3v1.3h-1.3zM270.6,257.0h1.3v1.3h-1.3zM270.8,280.3h1.3v1.3h-1.3zM271.0,264.6h1.3v1.3h-1.3zM271.2,257.3h1.3v1.3h-1.3zM271.4,270.8h1.3v1.3h-1.3zM271.6,261.2h1.3v1.3h-1.3zM271.8,250.7h1.3v1.3h-1.3zM272.0,223.4h1.3v1.3h-1.3zM272.2,256.5h1.3v1.3h-1.3z" fill="#ff0000"/>
<rect x="59.5" y="193.3" width="213.89999999999998" height="156.2" fill="none" stroke="#3a3a3a" stroke-width="1.1"/>
<line x1="59.5" y1="349.50" x2="62.5" y2="349.50" stroke="#222" stroke-width="0.9"/>
<line x1="59.5" y1="328.66" x2="62.5" y2="328.66" stroke="#222" stroke-width="0.9"/>
<line x1="59.5" y1="307.82" x2="62.5" y2="307.82" stroke="#222" stroke-width="0.9"/>
<line x1="59.5" y1="286.98" x2="62.5" y2="286.98" stroke="#222" stroke-width="0.9"/>
<line x1="59.5" y1="266.14" x2="62.5" y2="266.14" stroke="#222" stroke-width="0.9"/>
<line x1="59.5" y1="245.30" x2="62.5" y2="245.30" stroke="#222" stroke-width="0.9"/>
<line x1="59.5" y1="224.46" x2="62.5" y2="224.46" stroke="#222" stroke-width="0.9"/>
<line x1="59.5" y1="203.62" x2="62.5" y2="203.62" stroke="#222" stroke-width="0.9"/>
<line x1="59.5" y1="339.08" x2="61.3" y2="339.08" stroke="#222" stroke-width="0.9"/>
<line x1="59.5" y1="318.24" x2="61.3" y2="318.24" stroke="#222" stroke-width="0.9"/>
<line x1="59.5" y1="297.40" x2="61.3" y2="297.40" stroke="#222" stroke-width="0.9"/>
<line x1="59.5" y1="276.56" x2="61.3" y2="276.56" stroke="#222" stroke-width="0.9"/>
<line x1="59.5" y1="255.72" x2="61.3" y2="255.72" stroke="#222" stroke-width="0.9"/>
<line x1="59.5" y1="234.88" x2="61.3" y2="234.88" stroke="#222" stroke-width="0.9"/>
<line x1="59.5" y1="214.04" x2="61.3" y2="214.04" stroke="#222" stroke-width="0.9"/>
<line x1="59.50" y1="349.5" x2="59.50" y2="346.5" stroke="#222" stroke-width="0.9"/>
<line x1="86.24" y1="349.5" x2="86.24" y2="346.5" stroke="#222" stroke-width="0.9"/>
<line x1="112.97" y1="349.5" x2="112.97" y2="346.5" stroke="#222" stroke-width="0.9"/>
<line x1="139.71" y1="349.5" x2="139.71" y2="346.5" stroke="#222" stroke-width="0.9"/>
<line x1="166.45" y1="349.5" x2="166.45" y2="346.5" stroke="#222" stroke-width="0.9"/>
<line x1="193.19" y1="349.5" x2="193.19" y2="346.5" stroke="#222" stroke-width="0.9"/>
<line x1="219.92" y1="349.5" x2="219.92" y2="346.5" stroke="#222" stroke-width="0.9"/>
<line x1="246.66" y1="349.5" x2="246.66" y2="346.5" stroke="#222" stroke-width="0.9"/>
<line x1="273.40" y1="349.5" x2="273.40" y2="346.5" stroke="#222" stroke-width="0.9"/>
<line x1="72.87" y1="349.5" x2="72.87" y2="347.7" stroke="#222" stroke-width="0.9"/>
<line x1="99.61" y1="349.5" x2="99.61" y2="347.7" stroke="#222" stroke-width="0.9"/>
<line x1="126.34" y1="349.5" x2="126.34" y2="347.7" stroke="#222" stroke-width="0.9"/>
<line x1="153.08" y1="349.5" x2="153.08" y2="347.7" stroke="#222" stroke-width="0.9"/>
<line x1="179.82" y1="349.5" x2="179.82" y2="347.7" stroke="#222" stroke-width="0.9"/>
<line x1="206.56" y1="349.5" x2="206.56" y2="347.7" stroke="#222" stroke-width="0.9"/>
<line x1="233.29" y1="349.5" x2="233.29" y2="347.7" stroke="#222" stroke-width="0.9"/>
<line x1="260.03" y1="349.5" x2="260.03" y2="347.7" stroke="#222" stroke-width="0.9"/>
<text x="56.3" y="351.9" text-anchor="end" font-family="'Liberation Sans', Arial, sans-serif" font-weight="normal" font-size="6.7" fill="#222" >0.0117</text>
<text x="56.3" y="331.0600000000001" text-anchor="end" font-family="'Liberation Sans', Arial, sans-serif" font-weight="normal" font-size="6.7" fill="#222" >0.0118</text>
<text x="56.3" y="310.21999999999986" text-anchor="end" font-family="'Liberation Sans', Arial, sans-serif" font-weight="normal" font-size="6.7" fill="#222" >0.0119</text>
<text x="56.3" y="289.38" text-anchor="end" font-family="'Liberation Sans', Arial, sans-serif" font-weight="normal" font-size="6.7" fill="#222" >0.0120</text>
<text x="56.3" y="268.54000000000013" text-anchor="end" font-family="'Liberation Sans', Arial, sans-serif" font-weight="normal" font-size="6.7" fill="#222" >0.0121</text>
<text x="56.3" y="247.6999999999999" text-anchor="end" font-family="'Liberation Sans', Arial, sans-serif" font-weight="normal" font-size="6.7" fill="#222" >0.0122</text>
<text x="56.3" y="226.86000000000004" text-anchor="end" font-family="'Liberation Sans', Arial, sans-serif" font-weight="normal" font-size="6.7" fill="#222" >0.0123</text>
<text x="56.3" y="206.02000000000018" text-anchor="end" font-family="'Liberation Sans', Arial, sans-serif" font-weight="normal" font-size="6.7" fill="#222" >0.0124</text>
<text x="59.5" y="357.6" text-anchor="middle" font-family="'Liberation Serif', 'Times New Roman', serif" font-weight="normal" font-size="6.6" fill="#1a1a1a" >0000</text>
<text x="86.2375" y="357.6" text-anchor="middle" font-family="'Liberation Serif', 'Times New Roman', serif" font-weight="normal" font-size="6.6" fill="#1a1a1a" >2000</text>
<text x="112.975" y="357.6" text-anchor="middle" font-family="'Liberation Serif', 'Times New Roman', serif" font-weight="normal" font-size="6.6" fill="#1a1a1a" >4000</text>
<text x="139.71249999999998" y="357.6" text-anchor="middle" font-family="'Liberation Serif', 'Times New Roman', serif" font-weight="normal" font-size="6.6" fill="#1a1a1a" >6000</text>
<text x="166.45" y="357.6" text-anchor="middle" font-family="'Liberation Serif', 'Times New Roman', serif" font-weight="normal" font-size="6.6" fill="#1a1a1a" >8000</text>
<text x="193.1875" y="357.6" text-anchor="middle" font-family="'Liberation Serif', 'Times New Roman', serif" font-weight="normal" font-size="6.6" fill="#1a1a1a" >A000</text>
<text x="219.92499999999998" y="357.6" text-anchor="middle" font-family="'Liberation Serif', 'Times New Roman', serif" font-weight="normal" font-size="6.6" fill="#1a1a1a" >C000</text>
<text x="246.66249999999997" y="357.6" text-anchor="middle" font-family="'Liberation Serif', 'Times New Roman', serif" font-weight="normal" font-size="6.6" fill="#1a1a1a" >E000</text>
<text x="273.4" y="357.6" text-anchor="middle" font-family="'Liberation Serif', 'Times New Roman', serif" font-weight="normal" font-size="6.6" fill="#1a1a1a" >FFFF</text>
<text x="166.2" y="372.6" text-anchor="middle" font-family="'Liberation Serif', 'Times New Roman', serif" font-weight="normal" font-size="8" fill="#222" >Digital Input Code(HEX)</text>
<text transform="translate(33.5,270.5) rotate(-90)" text-anchor="middle" font-family="'Liberation Serif', 'Times New Roman', serif" font-size="8" fill="#222">Differential Linearity Error/ns</text>
<text x="160.2" y="398.2" text-anchor="middle" font-family="'Liberation Serif', 'Times New Roman', serif" font-weight="normal" font-size="17.5" fill="#111" stroke="#111" stroke-width="0.3">(b)</text>
<line x1="219" y1="225" x2="300" y2="225" stroke="#4848ee" stroke-width="1.5"/>
<line x1="219" y1="322.3" x2="300" y2="322.3" stroke="#4848ee" stroke-width="1.5"/>
<line x1="285.4" y1="229" x2="285.4" y2="263.5" stroke="#111" stroke-width="1"/>
<line x1="285.4" y1="285" x2="285.4" y2="318" stroke="#111" stroke-width="1"/>
<polygon points="285.4,225.8 282.6,234 285.4,232 288.2,234" fill="#111"/>
<polygon points="285.4,321.5 282.6,313.3 285.4,315.3 288.2,313.3" fill="#111"/>
<text x="274.8" y="276.6" text-anchor="start" font-family="'Liberation Serif', 'Times New Roman', serif" font-weight="normal" font-size="8.3" fill="#222" >P-P： 0.5ps</text>
<polyline points="354.8,86.2 354.9,89.3 354.9,91.6 355.0,87.4 355.0,82.3 355.1,88.6 355.2,88.4 355.2,89.0 355.3,96.3 355.4,87.5 355.4,87.3 355.5,98.8 355.5,101.0 355.6,88.3 355.7,77.9 355.7,86.3 355.8,93.1 355.8,93.7 355.9,116.4 356.0,87.5 356.0,89.8 356.1,86.9 356.2,89.8 356.2,86.8 356.3,82.9 356.3,94.9 356.4,89.8 356.5,96.5 356.5,86.3 356.6,92.2 356.6,92.9 356.7,78.4 356.8,81.6 356.8,93.6 356.9,89.9 357.0,78.7 357.0,85.0 357.1,77.2 357.1,86.5 357.2,98.2 357.3,86.0 357.3,112.6 357.4,87.9 357.5,85.1 357.5,107.4 357.6,94.8 357.6,105.3 357.7,100.6 357.8,95.6 357.8,96.5 357.9,79.7 357.9,84.7 358.0,92.0 358.1,90.6 358.1,97.9 358.2,86.7 358.3,95.9 358.3,101.1 358.4,92.9 358.4,99.4 358.5,95.7 358.6,95.0 358.6,92.3 358.7,86.7 358.7,90.7 358.8,90.2 358.9,72.4 358.9,90.9 359.0,89.8 359.1,90.7 359.1,86.4 359.2,92.3 359.2,93.1 359.3,85.5 359.4,91.4 359.4,94.0 359.5,93.8 359.5,84.3 359.6,83.7 359.7,89.7 359.7,83.6 359.8,103.9 359.9,80.4 359.9,85.0 360.0,93.2 360.0,86.8 360.1,76.1 360.2,87.9 360.2,78.2 360.3,86.4 360.3,80.1 360.4,84.1 360.5,87.4 360.5,88.3 360.6,82.9 360.7,85.1 360.7,84.3 360.8,90.0 360.8,88.3 360.9,82.0 361.0,96.3 361.0,85.1 361.1,91.4 361.2,83.9 361.2,90.8 361.3,88.4 361.3,89.4 361.4,92.0 361.5,91.6 361.5,90.0 361.6,90.0 361.6,81.8 361.7,88.6 361.8,76.5 361.8,76.2 361.9,87.2 362.0,87.7 362.0,105.7 362.1,92.8 362.1,95.3 362.2,87.2 362.3,91.5 362.3,95.6 362.4,94.8 362.4,91.1 362.5,89.7 362.6,83.8 362.6,84.0 362.7,80.9 362.8,91.5 362.8,87.6 362.9,85.3 362.9,91.2 363.0,85.9 363.1,95.2 363.1,100.1 363.2,91.8 363.2,85.3 363.3,80.7 363.4,112.1 363.4,91.8 363.5,82.5 363.6,95.4 363.6,70.1 363.7,86.7 363.7,87.9 363.8,87.2 363.9,82.7 363.9,103.0 364.0,84.6 364.0,91.4 364.1,89.5 364.2,80.1 364.2,86.1 364.3,90.5 364.4,94.7 364.4,87.3 364.5,91.3 364.5,87.3 364.6,92.5 364.7,75.0 364.7,92.6 364.8,85.6 364.8,85.8 364.9,56.3 365.0,76.8 365.0,96.1 365.1,102.5 365.2,85.2 365.2,85.4 365.3,92.1 365.3,90.9 365.4,85.9 365.5,88.3 365.5,87.1 365.6,92.9 365.7,93.9 365.7,99.5 365.8,94.7 365.8,93.3 365.9,90.3 366.0,94.8 366.0,83.8 366.1,101.9 366.1,92.7 366.2,97.6 366.3,84.9 366.3,95.4 366.4,91.8 366.5,88.5 366.5,85.7 366.6,84.5 366.6,100.0 366.7,96.6 366.8,90.2 366.8,90.7 366.9,85.4 366.9,79.0 367.0,79.2 367.1,86.1 367.1,88.7 367.2,82.8 367.3,94.3 367.3,92.6 367.4,90.6 367.4,79.4 367.5,88.4 367.6,89.4 367.6,82.3 367.7,77.0 367.7,100.7 367.8,93.2 367.9,87.4 367.9,98.8 368.0,96.0 368.1,92.2 368.1,92.2 368.2,94.1 368.2,106.5 368.3,89.9 368.4,88.2 368.4,92.9 368.5,73.2 368.5,90.0 368.6,87.3 368.7,89.5 368.7,88.6 368.8,91.6 368.9,90.3 368.9,90.1 369.0,88.9 369.0,92.3 369.1,86.7 369.2,95.4 369.2,79.9 369.3,90.9 369.4,92.4 369.4,82.4 369.5,87.2 369.5,97.4 369.6,89.0 369.7,84.6 369.7,72.5 369.8,91.8 369.8,90.4 369.9,93.4 370.0,101.8 370.0,89.8 370.1,90.6 370.2,85.8 370.2,89.4 370.3,89.6 370.3,94.2 370.4,93.0 370.5,85.4 370.5,87.1 370.6,97.8 370.6,84.2 370.7,94.1 370.8,99.2 370.8,93.6 370.9,91.3 371.0,97.7 371.0,91.8 371.1,89.7 371.1,88.6 371.2,96.4 371.3,93.8 371.3,107.6 371.4,85.8 371.4,87.9 371.5,87.2 371.6,91.4 371.6,85.8 371.7,95.2 371.8,91.8 371.8,84.1 371.9,72.6 371.9,79.3 372.0,98.2 372.1,89.5 372.1,90.7 372.2,87.4 372.2,92.1 372.3,78.7 372.4,78.2 372.4,80.4 372.5,90.2 372.6,93.9 372.6,92.6 372.7,88.3 372.7,82.4 372.8,94.4 372.9,88.2 372.9,89.7 373.0,89.5 373.0,87.2 373.1,85.7 373.2,86.5 373.2,82.4 373.3,91.4 373.4,89.0 373.4,95.9 373.5,79.5 373.5,96.7 373.6,89.5 373.7,89.0 373.7,80.6 373.8,85.2 373.9,81.3 373.9,95.2 374.0,88.8 374.0,94.1 374.1,94.7 374.2,87.0 374.2,88.6 374.3,87.9 374.3,101.8 374.4,91.5 374.5,90.9 374.5,98.3 374.6,89.5 374.7,101.8 374.7,84.6 374.8,97.3 374.8,98.1 374.9,83.3 375.0,95.0 375.0,91.6 375.1,100.1 375.1,83.0 375.2,91.4 375.3,84.3 375.3,86.2 375.4,98.2 375.5,89.2 375.5,76.9 375.6,81.9 375.6,83.4 375.7,95.9 375.8,85.9 375.8,80.9 375.9,96.4 375.9,91.4 376.0,91.9 376.1,85.2 376.1,98.2 376.2,89.2 376.3,78.5 376.3,83.3 376.4,85.1 376.4,89.0 376.5,94.4 376.6,85.7 376.6,86.5 376.7,102.8 376.7,90.4 376.8,83.8 376.9,90.3 376.9,82.6 377.0,93.0 377.1,95.5 377.1,86.5 377.2,95.7 377.2,88.2 377.3,91.5 377.4,85.5 377.4,85.3 377.5,81.2 377.6,91.2 377.6,88.3 377.7,88.4 377.7,76.8 377.8,83.1 377.9,86.2 377.9,92.7 378.0,91.7 378.0,86.0 378.1,91.7 378.2,100.1 378.2,90.5 378.3,101.6 378.4,92.4 378.4,97.7 378.5,86.9 378.5,96.8 378.6,83.0 378.7,91.3 378.7,88.0 378.8,78.4 378.8,74.1 378.9,103.1 379.0,92.8 379.0,97.5 379.1,91.2 379.2,73.2 379.2,92.9 379.3,86.7 379.3,87.1 379.4,87.4 379.5,85.5 379.5,84.4 379.6,97.2 379.6,92.6 379.7,86.1 379.8,87.5 379.8,101.2 379.9,92.2 380.0,91.0 380.0,82.8 380.1,87.4 380.1,83.3 380.2,78.7 380.3,95.0 380.3,87.9 380.4,87.5 380.4,78.7 380.5,94.2 380.6,102.0 380.6,93.2 380.7,95.3 380.8,82.7 380.8,90.9 380.9,92.3 380.9,107.1 381.0,90.0 381.1,84.4 381.1,89.5 381.2,87.4 381.2,98.3 381.3,97.6 381.4,91.9 381.4,90.9 381.5,94.8 381.6,84.2 381.6,84.6 381.7,79.1 381.7,103.6 381.8,92.9 381.9,93.7 381.9,90.2 382.0,99.6 382.1,84.3 382.1,97.0 382.2,85.1 382.2,87.4 382.3,83.0 382.4,90.5 382.4,88.3 382.5,92.4 382.5,83.1 382.6,81.9 382.7,96.4 382.7,97.4 382.8,94.2 382.9,89.6 382.9,92.2 383.0,80.0 383.0,87.9 383.1,96.6 383.2,92.6 383.2,85.0 383.3,99.7 383.3,89.1 383.4,94.0 383.5,73.3 383.5,86.8 383.6,91.8 383.7,91.6 383.7,93.1 383.8,89.6 383.8,88.7 383.9,92.6 384.0,99.8 384.0,81.1 384.1,88.0 384.1,88.7 384.2,90.8 384.3,95.8 384.3,82.2 384.4,93.0 384.5,79.9 384.5,85.5 384.6,86.8 384.6,88.4 384.7,86.4 384.8,86.9 384.8,87.9 384.9,88.3 384.9,79.2 385.0,81.7 385.1,87.3 385.1,92.9 385.2,95.7 385.3,106.4 385.3,90.5 385.4,85.3 385.4,90.9 385.5,93.8 385.6,90.7 385.6,83.7 385.7,89.3 385.8,89.7 385.8,81.8 385.9,83.0 385.9,96.9 386.0,77.1 386.1,90.9 386.1,86.8 386.2,97.9 386.2,93.4 386.3,84.9 386.4,97.1 386.4,86.5 386.5,101.3 386.6,108.8 386.6,89.3 386.7,94.3 386.7,90.9 386.8,79.3 386.9,102.0 386.9,92.4 387.0,99.6 387.0,96.0 387.1,98.0 387.2,95.8 387.2,89.4 387.3,90.9 387.4,92.3 387.4,89.3 387.5,88.7 387.5,100.7 387.6,92.9 387.7,101.0 387.7,85.6 387.8,89.9 387.8,87.7 387.9,87.9 388.0,88.5 388.0,89.4 388.1,87.6 388.2,100.5 388.2,94.0 388.3,81.5 388.3,83.9 388.4,98.7 388.5,93.3 388.5,86.6 388.6,95.4 388.6,81.9 388.7,87.4 388.8,100.0 388.8,75.1 388.9,88.9 389.0,101.4 389.0,89.2 389.1,85.6 389.1,85.0 389.2,78.1 389.3,82.4 389.3,90.4 389.4,86.8 389.4,90.0 389.5,89.2 389.6,91.8 389.6,80.6 389.7,88.4 389.8,86.3 389.8,88.4 389.9,85.1 389.9,77.6 390.0,93.8 390.1,99.5 390.1,103.8 390.2,94.4 390.3,99.6 390.3,93.6 390.4,87.9 390.4,93.0 390.5,83.4 390.6,91.5 390.6,89.5 390.7,84.0 390.7,97.2 390.8,96.6 390.9,92.8 390.9,94.8 391.0,99.6 391.1,88.6 391.1,74.6 391.2,84.7 391.2,94.2 391.3,91.6 391.4,81.7 391.4,97.8 391.5,92.7 391.5,108.8 391.6,103.2 391.7,85.2 391.7,91.3 391.8,85.9 391.9,85.3 391.9,88.5 392.0,93.0 392.0,98.1 392.1,85.1 392.2,94.3 392.2,90.4 392.3,87.7 392.3,96.6 392.4,88.1 392.5,98.1 392.5,86.5 392.6,84.9 392.7,94.6 392.7,81.8 392.8,83.3 392.8,89.1 392.9,90.4 393.0,88.7 393.0,67.7 393.1,82.6 393.1,93.3 393.2,93.5 393.3,84.6 393.3,91.9 393.4,91.6 393.5,96.2 393.5,82.1 393.6,98.8 393.6,88.6 393.7,98.7 393.8,95.7 393.8,84.5 393.9,88.6 394.0,92.0 394.0,96.2 394.1,82.4 394.1,87.5 394.2,94.0 394.3,93.2 394.3,84.4 394.4,85.3 394.4,92.9 394.5,84.5 394.6,91.8 394.6,95.7 394.7,90.5 394.8,75.0 394.8,97.3 394.9,97.2 394.9,98.8 395.0,95.5 395.1,80.8 395.1,107.1 395.2,92.5 395.2,96.0 395.3,89.7 395.4,89.2 395.4,89.2 395.5,99.8 395.6,92.1 395.6,89.4 395.7,83.2 395.7,93.2 395.8,90.9 395.9,91.4 395.9,96.2 396.0,94.8 396.0,90.6 396.1,93.2 396.2,91.0 396.2,94.7 396.3,94.5 396.4,91.4 396.4,85.6 396.5,95.5 396.5,95.8 396.6,78.4 396.7,92.8 396.7,88.4 396.8,65.5 396.8,90.3 396.9,96.1 397.0,86.4 397.0,82.5 397.1,96.4 397.2,84.1 397.2,85.1 397.3,88.7 397.3,94.2 397.4,94.1 397.5,87.4 397.5,88.7 397.6,91.0 397.6,88.2 397.7,85.5 397.8,77.9 397.8,94.5 397.9,89.1 398.0,106.8 398.0,93.8 398.1,85.9 398.1,90.2 398.2,94.2 398.3,92.5 398.3,95.5 398.4,95.5 398.5,89.4 398.5,94.0 398.6,102.9 398.6,87.7 398.7,88.0 398.8,94.3 398.8,97.4 398.9,94.9 398.9,97.2 399.0,89.9 399.1,88.8 399.1,93.9 399.2,98.0 399.3,99.8 399.3,108.3 399.4,79.7 399.4,99.3 399.5,86.3 399.6,65.9 399.6,94.8 399.7,89.1 399.7,88.0 399.8,82.6 399.9,84.1 399.9,88.8 400.0,81.4 400.1,89.3 400.1,90.6 400.2,89.1 400.2,91.7 400.3,89.6 400.4,83.3 400.4,83.9 400.5,90.7 400.5,95.5 400.6,90.9 400.7,87.1 400.7,91.0 400.8,79.6 400.9,84.3 400.9,87.8 401.0,89.7 401.0,86.3 401.1,88.5 401.2,83.1 401.2,86.7 401.3,91.4 401.3,79.4 401.4,76.2 401.5,88.0 401.5,98.7 401.6,94.0 401.7,99.2 401.7,98.0 401.8,87.6 401.8,89.8 401.9,83.4 402.0,97.0 402.0,94.5 402.1,93.7 402.2,94.1 402.2,95.6 402.3,91.5 402.3,91.9 402.4,97.3 402.5,85.7 402.5,84.2 402.6,90.2 402.6,96.9 402.7,91.6 402.8,89.1 402.8,95.1 402.9,90.9 403.0,79.4 403.0,84.6 403.1,78.3 403.1,89.2 403.2,87.8 403.3,93.0 403.3,102.7 403.4,87.0 403.4,90.5 403.5,88.3 403.6,74.3 403.6,86.1 403.7,86.4 403.8,93.7 403.8,80.9 403.9,75.7 403.9,94.0 404.0,89.9 404.1,85.5 404.1,86.3 404.2,88.9 404.2,95.3 404.3,98.7 404.4,83.0 404.4,97.2 404.5,91.2 404.6,92.6 404.6,96.2 404.7,85.0 404.7,95.6 404.8,75.6 404.9,87.9 404.9,85.7 405.0,110.1 405.0,100.1 405.1,95.0 405.2,96.7 405.2,87.5 405.3,110.8 405.4,98.8 405.4,96.0 405.5,90.1 405.5,88.8 405.6,90.0 405.7,98.5 405.7,85.4 405.8,91.5 405.8,100.2 405.9,95.9 406.0,100.9 406.0,93.3 406.1,93.4 406.2,107.0 406.2,98.6 406.3,92.9 406.3,85.2 406.4,82.3 406.5,99.4 406.5,86.2 406.6,86.5 406.7,95.7 406.7,85.6 406.8,82.9 406.8,87.4 406.9,90.3 407.0,92.1 407.0,93.5 407.1,96.1 407.1,89.9 407.2,92.6 407.3,89.9 407.3,86.9 407.4,95.5 407.5,95.0 407.5,101.3 407.6,94.1 407.6,86.7 407.7,94.1 407.8,89.3 407.8,99.8 407.9,80.9 407.9,83.4 408.0,86.9 408.1,91.4 408.1,90.0 408.2,81.6 408.3,80.0 408.3,91.8 408.4,99.1 408.4,99.0 408.5,88.4 408.6,93.4 408.6,85.8 408.7,74.5 408.7,105.1 408.8,94.7 408.9,88.9 408.9,88.6 409.0,96.1 409.1,92.6 409.1,88.9 409.2,92.5 409.2,90.8 409.3,88.5 409.4,83.0 409.4,101.8 409.5,88.2 409.5,84.1 409.6,101.1 409.7,105.4 409.7,93.8 409.8,90.4 409.9,93.5 409.9,82.6 410.0,90.8 410.0,94.3 410.1,88.8 410.2,96.1 410.2,86.4 410.3,93.1 410.4,81.7 410.4,90.5 410.5,87.0 410.5,83.0 410.6,88.3 410.7,90.7 410.7,84.0 410.8,95.8 410.8,82.7 410.9,95.8 411.0,94.6 411.0,87.0 411.1,98.6 411.2,82.6 411.2,93.4 411.3,90.8 411.3,94.7 411.4,81.5 411.5,83.6 411.5,85.7 411.6,90.6 411.6,90.9 411.7,90.5 411.8,88.9 411.8,86.4 411.9,82.7 412.0,88.1 412.0,93.5 412.1,96.3 412.1,87.5 412.2,96.5 412.3,82.7 412.3,99.3 412.4,84.2 412.4,91.8 412.5,85.0 412.6,84.9 412.6,87.2 412.7,98.4 412.8,86.6 412.8,93.9 412.9,92.2 412.9,92.1 413.0,92.1 413.1,93.8 413.1,83.5 413.2,90.6 413.2,92.3 413.3,87.1 413.4,92.4 413.4,84.5 413.5,94.4 413.6,86.4 413.6,88.8 413.7,99.4 413.7,96.4 413.8,87.0 413.9,86.6 413.9,95.9 414.0,73.9 414.0,105.5 414.1,97.5 414.2,84.2 414.2,97.0 414.3,92.3 414.4,92.8 414.4,77.1 414.5,87.5 414.5,89.2 414.6,87.9 414.7,88.1 414.7,88.6 414.8,73.9 414.9,89.1 414.9,82.4 415.0,89.7 415.0,84.6 415.1,90.2 415.2,91.8 415.2,100.3 415.3,85.6 415.3,109.5 415.4,88.9 415.5,85.2 415.5,82.0 415.6,95.1 415.7,81.7 415.7,95.5 415.8,92.4 415.8,84.0 415.9,86.7 416.0,93.3 416.0,91.4 416.1,94.7 416.1,90.5 416.2,87.6 416.3,93.6 416.3,83.7 416.4,95.3 416.5,90.8 416.5,84.1 416.6,84.7 416.6,88.7 416.7,80.2 416.8,98.5 416.8,96.1 416.9,84.3 416.9,89.9 417.0,100.2 417.1,92.9 417.1,84.8 417.2,78.3 417.3,81.2 417.3,97.4 417.4,92.5 417.4,83.2 417.5,94.7 417.6,88.6 417.6,86.9 417.7,87.7 417.7,88.0 417.8,100.2 417.9,85.2 417.9,88.3 418.0,98.3 418.1,99.3 418.1,85.0 418.2,102.4 418.2,96.9 418.3,73.6 418.4,101.0 418.4,82.1 418.5,94.4 418.6,83.9 418.6,80.3 418.7,100.3 418.7,93.0 418.8,90.1 418.9,91.6 418.9,90.0 419.0,89.1 419.0,84.5 419.1,94.0 419.2,90.7 419.2,89.2 419.3,87.3 419.4,89.0 419.4,73.2 419.5,88.8 419.5,84.9 419.6,97.9 419.7,85.1 419.7,88.0 419.8,90.8 419.8,95.3 419.9,93.4 420.0,90.8 420.0,103.1 420.1,90.6 420.2,92.6 420.2,106.5 420.3,80.6 420.3,101.9 420.4,93.4 420.5,75.7 420.5,87.2 420.6,100.4 420.6,82.4 420.7,89.7 420.8,96.1 420.8,88.0 420.9,92.1 421.0,86.8 421.0,87.0 421.1,87.1 421.1,88.6 421.2,94.3 421.3,91.5 421.3,102.0 421.4,97.0 421.4,92.2 421.5,103.5 421.6,89.3 421.6,85.9 421.7,91.4 421.8,84.3 421.8,93.5 421.9,98.4 421.9,94.2 422.0,88.2 422.1,89.7 422.1,93.3 422.2,97.3 422.2,88.2 422.3,88.1 422.4,96.8 422.4,91.8 422.5,92.6 422.6,93.4 422.6,86.2 422.7,89.8 422.7,102.9 422.8,89.8 422.9,89.6 422.9,92.4 423.0,92.9 423.1,105.3 423.1,86.0 423.2,91.5 423.2,114.0 423.3,90.9 423.4,92.9 423.4,82.4 423.5,96.4 423.5,95.7 423.6,95.5 423.7,89.6 423.7,92.8 423.8,90.3 423.9,95.6 423.9,90.6 424.0,99.7 424.0,82.9 424.1,86.9 424.2,74.3 424.2,89.8 424.3,95.1 424.3,89.1 424.4,104.2 424.5,84.9 424.5,88.7 424.6,85.3 424.7,84.8 424.7,87.8 424.8,81.9 424.8,84.8 424.9,102.1 425.0,88.9 425.0,95.7 425.1,83.1 425.1,89.1 425.2,93.5 425.3,89.4 425.3,87.5 425.4,89.3 425.5,90.6 425.5,95.2 425.6,97.4 425.6,82.8 425.7,78.5 425.8,88.2 425.8,90.5 425.9,98.7 425.9,96.6 426.0,86.6 426.1,102.4 426.1,92.0 426.2,70.1 426.3,96.0 426.3,92.1 426.4,92.2 426.4,81.4 426.5,87.1 426.6,92.4 426.6,89.7 426.7,94.5 426.8,97.8 426.8,99.4 426.9,97.8 426.9,89.8 427.0,100.6 427.1,92.2 427.1,100.5 427.2,89.3 427.2,82.6 427.3,77.6 427.4,91.8 427.4,86.8 427.5,90.7 427.6,95.9 427.6,81.9 427.7,80.5 427.7,92.1 427.8,92.8 427.9,87.5 427.9,87.7 428.0,81.6 428.0,90.2 428.1,86.4 428.2,93.1 428.2,96.1 428.3,87.5 428.4,93.1 428.4,91.7 428.5,94.8 428.5,99.6 428.6,94.6 428.7,94.8 428.7,95.3 428.8,88.3 428.8,90.7 428.9,92.8 429.0,105.1 429.0,98.3 429.1,117.0 429.2,84.5 429.2,90.6 429.3,80.9 429.3,87.8 429.4,81.4 429.5,97.6 429.5,95.2 429.6,84.7 429.6,92.9 429.7,95.2 429.8,101.0 429.8,95.8 429.9,91.7 430.0,90.4 430.0,98.2 430.1,92.6 430.1,85.4 430.2,83.9 430.3,97.0 430.3,86.7 430.4,89.3 430.4,95.5 430.5,90.6 430.6,97.5 430.6,84.5 430.7,95.4 430.8,83.3 430.8,73.7 430.9,85.0 430.9,91.7 431.0,87.1 431.1,83.0 431.1,97.9 431.2,85.4 431.3,90.2 431.3,92.4 431.4,88.2 431.4,93.0 431.5,94.5 431.6,90.3 431.6,96.9 431.7,87.5 431.7,84.8 431.8,92.1 431.9,85.3 431.9,93.0 432.0,90.3 432.1,85.5 432.1,94.2 432.2,93.9 432.2,73.7 432.3,87.1 432.4,91.5 432.4,93.5 432.5,87.5 432.5,84.0 432.6,91.3 432.7,94.6 432.7,78.8 432.8,73.4 432.9,87.3 432.9,60.8 433.0,83.8 433.0,95.5 433.1,84.6 433.2,91.6 433.2,85.7 433.3,93.2 433.3,94.5 433.4,98.3 433.5,91.1 433.5,96.8 433.6,93.1 433.7,88.0 433.7,99.3 433.8,83.9 433.8,92.8 433.9,105.0 434.0,95.8 434.0,86.1 434.1,92.6 434.1,84.5 434.2,90.0 434.3,82.1 434.3,92.1 434.4,81.9 434.5,95.1 434.5,93.0 434.6,95.7 434.6,103.7 434.7,81.3 434.8,84.0 434.8,85.1 434.9,87.7 435.0,96.1 435.0,89.1 435.1,87.7 435.1,84.5 435.2,87.4 435.3,88.5 435.3,90.4 435.4,82.7 435.4,90.5 435.5,94.2 435.6,92.9 435.6,83.7 435.7,95.7 435.8,95.6 435.8,92.7 435.9,83.8 435.9,82.4 436.0,91.2 436.1,85.0 436.1,83.2 436.2,96.2 436.2,96.3 436.3,94.7 436.4,98.6 436.4,96.2 436.5,84.3 436.6,104.3 436.6,92.4 436.7,93.6 436.7,100.1 436.8,93.6 436.9,100.2 436.9,91.4 437.0,88.8 437.0,87.0 437.1,90.3 437.2,81.4 437.2,90.7 437.3,90.4 437.4,88.0 437.4,78.1 437.5,78.6 437.5,95.2 437.6,85.6 437.7,99.1 437.7,87.0 437.8,93.2 437.8,82.7 437.9,87.5 438.0,89.9 438.0,94.6 438.1,101.0 438.2,96.8 438.2,82.9 438.3,91.3 438.3,90.3 438.4,87.6 438.5,94.8 438.5,100.5 438.6,88.7 438.6,97.8 438.7,99.4 438.8,85.2 438.8,101.6 438.9,101.1 439.0,93.0 439.0,101.2 439.1,92.8 439.1,98.0 439.2,95.1 439.3,86.3 439.3,92.9 439.4,90.4 439.5,88.6 439.5,84.8 439.6,86.9 439.6,77.1 439.7,98.0 439.8,80.0 439.8,91.8 439.9,87.8 439.9,84.1 440.0,99.8 440.1,86.7 440.1,98.4 440.2,90.4 440.3,93.4 440.3,90.7 440.4,99.0 440.4,97.0 440.5,88.9 440.6,91.5 440.6,101.7 440.7,88.2 440.7,112.5 440.8,89.2 440.9,85.1 440.9,81.8 441.0,86.6 441.1,81.4 441.1,88.2 441.2,95.5 441.2,90.8 441.3,88.1 441.4,85.6 441.4,87.6 441.5,83.1 441.5,84.2 441.6,102.9 441.7,93.0 441.7,86.3 441.8,95.4 441.9,108.9 441.9,87.8 442.0,90.9 442.0,84.3 442.1,82.3 442.2,99.6 442.2,111.5 442.3,87.3 442.3,82.2 442.4,99.8 442.5,97.7 442.5,94.4 442.6,100.1 442.7,89.6 442.7,93.2 442.8,96.2 442.8,89.8 442.9,97.2 443.0,88.8 443.0,96.8 443.1,93.4 443.2,80.0 443.2,92.5 443.3,83.2 443.3,86.5 443.4,81.8 443.5,96.2 443.5,89.6 443.6,89.3 443.6,98.8 443.7,95.6 443.8,90.3 443.8,79.5 443.9,95.4 444.0,90.0 444.0,89.5 444.1,100.1 444.1,87.9 444.2,91.1 444.3,96.7 444.3,94.9 444.4,88.0 444.4,99.9 444.5,98.2 444.6,102.4 444.6,91.2 444.7,92.7 444.8,103.7 444.8,94.0 444.9,92.2 444.9,90.8 445.0,89.6 445.1,87.6 445.1,83.8 445.2,93.7 445.2,89.5 445.3,83.1 445.4,91.6 445.4,100.9 445.5,99.2 445.6,79.7 445.6,86.4 445.7,100.3 445.7,92.3 445.8,91.7 445.9,90.5 445.9,91.6 446.0,85.4 446.0,98.2 446.1,85.3 446.2,90.5 446.2,100.2 446.3,97.6 446.4,91.3 446.4,91.2 446.5,87.8 446.5,88.3 446.6,89.8 446.7,98.9 446.7,88.7 446.8,94.5 446.8,93.8 446.9,96.0 447.0,89.6 447.0,95.5 447.1,92.2 447.2,91.8 447.2,88.6 447.3,78.9 447.3,95.6 447.4,95.7 447.5,88.4 447.5,90.3 447.6,94.7 447.7,85.7 447.7,95.4 447.8,95.4 447.8,101.2 447.9,96.6 448.0,80.3 448.0,97.4 448.1,88.8 448.1,97.8 448.2,97.4 448.3,96.0 448.3,90.8 448.4,107.4 448.5,90.9 448.5,85.2 448.6,96.8 448.6,82.9 448.7,102.3 448.8,97.1 448.8,98.9 448.9,97.2 448.9,93.5 449.0,83.6 449.1,87.7 449.1,94.5 449.2,90.1 449.3,93.4 449.3,87.3 449.4,86.8 449.4,93.0 449.5,100.1 449.6,91.4 449.6,85.8 449.7,72.5 449.7,103.1 449.8,84.9 449.9,86.5 449.9,83.4 450.0,96.6 450.1,87.2 450.1,94.7 450.2,93.2 450.2,85.0 450.3,92.4 450.4,77.6 450.4,90.6 450.5,95.8 450.5,88.9 450.6,86.2 450.7,89.1 450.7,90.4 450.8,93.3 450.9,78.2 450.9,80.8 451.0,94.2 451.0,90.6 451.1,91.4 451.2,92.5 451.2,90.3 451.3,86.1 451.3,91.9 451.4,95.1 451.5,93.3 451.5,91.4 451.6,85.3 451.7,92.7 451.7,84.7 451.8,87.5 451.8,92.2 451.9,92.0 452.0,97.6 452.0,96.4 452.1,94.2 452.2,89.5 452.2,91.2 452.3,88.5 452.3,111.2 452.4,94.0 452.5,87.6 452.5,86.5 452.6,98.5 452.6,86.3 452.7,93.5 452.8,92.3 452.8,97.4 452.9,86.2 453.0,94.0 453.0,92.4 453.1,95.8 453.1,99.0 453.2,91.8 453.3,88.7 453.3,96.3 453.4,83.2 453.4,92.3 453.5,85.6 453.6,84.3 453.6,82.2 453.7,81.8 453.8,100.8 453.8,96.3 453.9,91.9 453.9,97.2 454.0,91.5 454.1,88.4 454.1,85.0 454.2,95.6 454.2,95.9 454.3,98.4 454.4,86.6 454.4,89.5 454.5,83.4 454.6,97.7 454.6,95.2 454.7,94.0 454.7,91.0 454.8,90.2 454.9,89.0 454.9,97.4 455.0,87.5 455.0,96.2 455.1,92.8 455.2,85.4 455.2,82.9 455.3,86.7 455.4,91.0 455.4,83.8 455.5,94.8 455.5,97.7 455.6,94.3 455.7,81.5 455.7,64.4 455.8,96.2 455.9,99.8 455.9,89.0 456.0,97.3 456.0,89.7 456.1,87.6 456.2,97.0 456.2,88.2 456.3,96.1 456.3,111.2 456.4,90.0 456.5,112.9 456.5,83.8 456.6,96.5 456.7,91.3 456.7,120.9 456.8,91.8 456.8,82.2 456.9,110.0 457.0,82.4 457.0,93.8 457.1,86.8 457.1,99.2 457.2,90.6 457.3,96.1 457.3,90.9 457.4,84.9 457.5,78.8 457.5,111.9 457.6,92.5 457.6,84.6 457.7,89.4 457.8,96.9 457.8,82.6 457.9,104.3 457.9,88.5 458.0,89.1 458.1,106.2 458.1,92.5 458.2,85.5 458.3,96.6 458.3,93.9 458.4,97.7 458.4,85.9 458.5,84.7 458.6,94.8 458.6,88.7 458.7,78.7 458.7,87.8 458.8,94.8 458.9,86.9 458.9,98.5 459.0,88.3 459.1,90.6 459.1,81.8 459.2,86.6 459.2,89.1 459.3,94.5 459.4,92.3 459.4,97.4 459.5,78.6 459.5,91.3 459.6,90.4 459.7,85.2 459.7,91.0 459.8,86.9 459.9,93.6 459.9,89.2 460.0,94.1 460.0,80.6 460.1,98.4 460.2,93.4 460.2,101.4 460.3,90.3 460.4,88.2 460.4,91.9 460.5,88.4 460.5,79.1 460.6,91.2 460.7,90.8 460.7,87.4 460.8,88.9 460.8,85.5 460.9,92.0 461.0,83.4 461.0,101.0 461.1,91.3 461.2,96.5 461.2,77.1 461.3,93.1 461.3,90.3 461.4,96.8 461.5,96.2 461.5,81.6 461.6,97.7 461.6,82.3 461.7,98.8 461.8,90.7 461.8,84.0 461.9,99.3 462.0,91.3 462.0,79.5 462.1,86.8 462.1,93.8 462.2,83.1 462.3,86.0 462.3,101.8 462.4,86.6 462.4,93.2 462.5,93.7 462.6,96.7 462.6,96.3 462.7,76.5 462.8,88.4 462.8,98.0 462.9,86.6 462.9,101.7 463.0,92.6 463.1,84.0 463.1,94.5 463.2,102.5 463.2,87.2 463.3,94.4 463.4,86.1 463.4,84.4 463.5,91.8 463.6,94.2 463.6,93.2 463.7,93.6 463.7,105.2 463.8,84.8 463.9,80.3 463.9,94.4 464.0,92.2 464.1,82.7 464.1,101.2 464.2,87.0 464.2,82.9 464.3,93.6 464.4,94.9 464.4,104.9 464.5,82.2 464.5,83.7 464.6,88.0 464.7,88.6 464.7,90.8 464.8,87.0 464.9,82.1 464.9,88.6 465.0,95.4 465.0,100.6 465.1,87.4 465.2,94.4 465.2,96.1 465.3,88.4 465.3,89.3 465.4,91.5 465.5,107.6 465.5,93.2 465.6,86.1 465.7,90.3 465.7,88.0 465.8,104.7 465.8,78.6 465.9,84.8 466.0,96.1 466.0,93.7 466.1,91.5 466.1,95.6 466.2,83.6 466.3,93.5 466.3,84.7 466.4,83.9 466.5,94.3 466.5,86.8 466.6,89.4 466.6,95.2 466.7,85.4 466.8,95.1 466.8,104.7 466.9,90.4 466.9,97.2 467.0,96.1 467.1,76.8 467.1,83.6 467.2,91.6 467.3,79.1 467.3,91.9 467.4,93.1 467.4,94.3 467.5,96.9 467.6,99.4 467.6,89.6 467.7,99.4 467.7,94.6 467.8,94.7 467.9,90.7 467.9,97.3 468.0,87.3 468.1,95.9 468.1,98.2 468.2,87.7 468.2,80.6 468.3,87.2 468.4,91.3 468.4,96.0 468.5,96.7 468.6,102.8 468.6,101.2 468.7,95.1 468.7,89.5 468.8,84.7 468.9,96.5 468.9,94.8 469.0,90.1 469.0,90.7 469.1,91.0 469.2,76.5 469.2,91.3 469.3,93.6 469.4,90.9 469.4,85.4 469.5,92.0 469.5,94.5 469.6,102.3 469.7,97.9 469.7,95.2 469.8,91.4 469.8,83.8 469.9,86.3 470.0,83.7 470.0,91.1 470.1,97.9 470.2,97.8 470.2,97.0 470.3,91.8 470.3,103.5 470.4,90.1 470.5,80.2 470.5,92.5 470.6,92.0 470.6,81.5 470.7,88.6 470.8,77.4 470.8,89.0 470.9,98.9 471.0,88.0 471.0,99.5 471.1,93.1 471.1,87.4 471.2,71.0 471.3,96.1 471.3,95.6 471.4,83.0 471.4,89.2 471.5,98.2 471.6,87.3 471.6,94.0 471.7,80.2 471.8,86.3 471.8,95.9 471.9,77.9 471.9,83.2 472.0,83.4 472.1,89.4 472.1,82.3 472.2,90.9 472.3,94.9 472.3,100.6 472.4,89.2 472.4,110.7 472.5,94.9 472.6,90.3 472.6,94.7 472.7,109.6 472.7,100.4 472.8,96.0 472.9,90.6 472.9,96.4 473.0,92.8 473.1,92.5 473.1,93.1 473.2,102.3 473.2,84.6 473.3,91.2 473.4,85.3 473.4,96.8 473.5,98.3 473.5,99.7 473.6,89.5 473.7,92.3 473.7,96.2 473.8,92.8 473.9,93.4 473.9,92.8 474.0,93.2 474.0,91.0 474.1,94.3 474.2,83.1 474.2,89.3 474.3,83.9 474.3,91.2 474.4,87.4 474.5,94.8 474.5,99.0 474.6,77.3 474.7,87.1 474.7,93.6 474.8,100.1 474.8,96.1 474.9,94.2 475.0,91.2 475.0,89.0 475.1,93.8 475.1,97.6 475.2,92.5 475.3,88.1 475.3,82.0 475.4,86.4 475.5,89.2 475.5,84.5 475.6,95.4 475.6,83.0 475.7,89.5 475.8,93.4 475.8,96.1 475.9,92.7 475.9,105.6 476.0,87.8 476.1,86.7 476.1,97.6 476.2,86.1 476.3,90.3 476.3,81.1 476.4,97.9 476.4,95.4 476.5,86.8 476.6,81.0 476.6,92.7 476.7,92.8 476.8,98.0 476.8,102.0 476.9,92.5 476.9,89.9 477.0,89.8 477.1,89.4 477.1,75.2 477.2,80.8 477.2,90.6 477.3,81.6 477.4,83.5 477.4,98.3 477.5,87.2 477.6,95.9 477.6,97.6 477.7,91.2 477.7,96.0 477.8,90.1 477.9,86.0 477.9,90.5 478.0,91.5 478.0,91.8 478.1,91.5 478.2,88.7 478.2,97.2 478.3,88.9 478.4,88.6 478.4,102.0 478.5,85.1 478.5,91.0 478.6,99.7 478.7,92.0 478.7,107.8 478.8,89.6 478.8,88.1 478.9,90.1 479.0,87.8 479.0,88.9 479.1,86.1 479.2,95.6 479.2,93.3 479.3,89.7 479.3,86.6 479.4,109.6 479.5,89.8 479.5,107.6 479.6,84.1 479.6,86.7 479.7,98.1 479.8,84.6 479.8,84.8 479.9,90.6 480.0,86.7 480.0,89.2 480.1,91.8 480.1,95.9 480.2,92.0 480.3,92.7 480.3,98.7 480.4,99.2 480.5,88.9 480.5,80.2 480.6,85.1 480.6,97.3 480.7,88.2 480.8,86.9 480.8,88.4 480.9,100.3 480.9,92.0 481.0,88.9 481.1,87.0 481.1,84.7 481.2,107.6 481.3,90.9 481.3,92.0 481.4,89.3 481.4,97.4 481.5,85.3 481.6,80.0 481.6,87.8 481.7,93.1 481.7,104.3 481.8,90.7 481.9,86.1 481.9,89.8 482.0,86.6 482.1,86.5 482.1,91.6 482.2,92.8 482.2,87.2 482.3,104.2 482.4,90.7 482.4,91.7 482.5,85.3 482.5,93.2 482.6,93.5 482.7,95.0 482.7,81.9 482.8,94.8 482.9,87.8 482.9,92.6 483.0,95.5 483.0,100.0 483.1,86.3 483.2,84.7 483.2,92.1 483.3,98.4 483.3,87.7 483.4,120.0 483.5,80.3 483.5,100.0 483.6,98.0 483.7,97.7 483.7,86.4 483.8,99.2 483.8,98.2 483.9,98.6 484.0,89.1 484.0,89.9 484.1,99.0 484.1,93.4 484.2,89.2 484.3,86.5 484.3,93.0 484.4,83.5 484.5,94.8 484.5,92.3 484.6,82.3 484.6,94.0 484.7,98.5 484.8,92.9 484.8,83.7 484.9,87.8 485.0,96.3 485.0,83.8 485.1,89.2 485.1,98.1 485.2,88.4 485.3,88.0 485.3,96.1 485.4,100.8 485.4,96.3 485.5,83.5 485.6,81.9 485.6,89.8 485.7,80.7 485.8,90.7 485.8,96.5 485.9,75.7 485.9,90.1 486.0,93.0 486.1,87.9 486.1,93.4 486.2,94.0 486.2,97.2 486.3,106.9 486.4,93.0 486.4,85.9 486.5,85.1 486.6,83.9 486.6,95.3 486.7,93.1 486.7,93.8 486.8,92.3 486.9,110.1 486.9,97.5 487.0,96.9 487.0,87.0 487.1,89.2 487.2,83.4 487.2,87.2 487.3,91.5 487.4,83.9 487.4,87.3 487.5,102.8 487.5,90.0 487.6,82.2 487.7,83.7 487.7,90.5 487.8,95.9 487.8,90.5 487.9,96.0 488.0,92.8 488.0,84.4 488.1,96.9 488.2,88.2 488.2,101.9 488.3,87.5 488.3,90.1 488.4,87.7 488.5,89.3 488.5,93.5 488.6,88.9 488.7,97.7 488.7,93.3 488.8,100.0 488.8,91.2 488.9,106.2 489.0,97.9 489.0,90.0 489.1,120.8 489.1,108.9 489.2,94.0 489.3,89.6 489.3,90.4 489.4,89.8 489.5,94.5 489.5,84.2 489.6,91.1 489.6,84.2 489.7,100.6 489.8,95.4 489.8,100.7 489.9,119.2 489.9,93.8 490.0,102.8 490.1,95.8 490.1,94.7 490.2,85.5 490.3,92.4 490.3,99.4 490.4,93.9 490.4,88.9 490.5,91.1 490.6,86.8 490.6,83.7 490.7,82.7 490.7,97.6 490.8,97.5 490.9,90.5 490.9,83.3 491.0,88.7 491.1,102.8 491.1,76.0 491.2,88.1 491.2,88.3 491.3,95.7 491.4,83.6 491.4,92.5 491.5,86.2 491.5,88.9 491.6,83.9 491.7,94.1 491.7,88.2 491.8,87.7 491.9,97.6 491.9,93.3 492.0,105.0 492.0,93.7 492.1,91.7 492.2,91.9 492.2,107.3 492.3,98.5 492.3,89.6 492.4,93.1 492.5,85.6 492.5,95.1 492.6,88.2 492.7,87.9 492.7,93.7 492.8,99.1 492.8,96.2 492.9,95.5 493.0,91.4 493.0,63.5 493.1,89.7 493.2,89.9 493.2,94.2 493.3,101.3 493.3,95.5 493.4,71.2 493.5,91.3 493.5,89.7 493.6,95.3 493.6,90.8 493.7,79.9 493.8,80.9 493.8,89.2 493.9,67.5 494.0,90.3 494.0,88.1 494.1,97.4 494.1,90.0 494.2,87.3 494.3,90.3 494.3,91.1 494.4,96.7 494.4,85.4 494.5,77.7 494.6,107.0 494.6,95.2 494.7,91.0 494.8,119.4 494.8,77.7 494.9,81.7 494.9,88.1 495.0,93.5 495.1,88.0 495.1,100.2 495.2,88.6 495.2,98.2 495.3,93.4 495.4,80.9 495.4,90.4 495.5,77.5 495.6,89.8 495.6,90.6 495.7,103.7 495.7,89.1 495.8,81.1 495.9,91.2 495.9,83.7 496.0,101.3 496.0,99.1 496.1,99.8 496.2,86.1 496.2,84.4 496.3,92.3 496.4,82.5 496.4,85.0 496.5,86.1 496.5,89.7 496.6,81.6 496.7,78.4 496.7,107.6 496.8,87.3 496.9,89.4 496.9,94.0 497.0,93.0 497.0,82.9 497.1,87.8 497.2,100.0 497.2,98.0 497.3,95.0 497.3,100.4 497.4,79.5 497.5,91.4 497.5,89.1 497.6,68.3 497.7,92.8 497.7,94.6 497.8,92.3 497.8,80.1 497.9,89.5 498.0,92.0 498.0,89.3 498.1,92.5 498.1,93.8 498.2,99.2 498.3,92.2 498.3,106.4 498.4,92.1 498.5,92.5 498.5,100.4 498.6,90.4 498.6,88.9 498.7,98.1 498.8,78.2 498.8,80.3 498.9,103.1 498.9,99.9 499.0,94.0 499.1,92.7 499.1,94.6 499.2,85.3 499.3,89.2 499.3,84.8 499.4,97.7 499.4,94.6 499.5,92.3 499.6,93.2 499.6,90.1 499.7,84.1 499.7,111.5 499.8,94.8 499.9,89.9 499.9,94.5 500.0,98.5 500.1,97.9 500.1,94.9 500.2,95.9 500.2,89.6 500.3,99.0 500.4,102.7 500.4,96.6 500.5,83.3 500.5,94.8 500.6,95.0 500.7,95.8 500.7,60.7 500.8,79.9 500.9,92.6 500.9,85.3 501.0,93.2 501.0,90.2 501.1,96.0 501.2,87.5 501.2,84.5 501.3,93.9 501.4,89.1 501.4,77.1 501.5,67.6 501.5,109.4 501.6,88.6 501.7,89.3 501.7,79.1 501.8,84.7 501.8,89.7 501.9,92.6 502.0,95.3 502.0,86.2 502.1,93.5 502.2,97.4 502.2,87.5 502.3,90.2 502.3,79.9 502.4,85.7 502.5,82.4 502.5,94.6 502.6,89.5 502.6,100.1 502.7,91.7 502.8,100.4 502.8,93.6 502.9,91.8 503.0,84.2 503.0,100.4 503.1,89.8 503.1,79.6 503.2,87.1 503.3,83.9 503.3,97.5 503.4,96.7 503.4,99.6 503.5,103.6 503.6,86.7 503.6,79.3 503.7,85.0 503.8,93.0 503.8,74.4 503.9,87.0 503.9,95.6 504.0,80.6 504.1,89.8 504.1,79.9 504.2,101.0 504.2,102.3 504.3,84.5 504.4,85.5 504.4,91.4 504.5,94.9 504.6,93.4 504.6,94.7 504.7,96.8 504.7,98.2 504.8,102.3 504.9,92.1 504.9,86.2 505.0,90.7 505.1,104.6 505.1,96.3 505.2,95.6 505.2,99.4 505.3,98.7 505.4,120.6 505.4,86.4 505.5,94.7 505.5,101.4 505.6,96.3 505.7,87.6 505.7,81.5 505.8,89.7 505.9,87.2 505.9,90.7 506.0,98.0 506.0,95.6 506.1,84.5 506.2,86.9 506.2,92.5 506.3,105.9 506.3,91.0 506.4,92.7 506.5,82.2 506.5,88.4 506.6,86.5 506.7,92.4 506.7,89.6 506.8,85.8 506.8,84.6 506.9,94.2 507.0,87.1 507.0,97.9 507.1,91.9 507.1,89.4 507.2,96.5 507.3,83.8 507.3,96.4 507.4,86.6 507.5,95.3 507.5,83.1 507.6,85.2 507.6,79.7 507.7,91.1 507.8,93.7 507.8,74.3 507.9,101.5 507.9,90.7 508.0,83.9 508.1,102.5 508.1,88.3 508.2,99.6 508.3,73.9 508.3,103.8 508.4,92.0 508.4,90.8 508.5,92.8 508.6,83.9 508.6,102.2 508.7,93.5 508.7,92.7 508.8,87.4 508.9,83.8 508.9,92.9 509.0,95.8 509.1,91.7 509.1,89.6 509.2,87.6 509.2,95.0 509.3,99.4 509.4,89.8 509.4,85.5 509.5,105.4 509.6,81.3 509.6,93.9 509.7,89.9 509.7,98.5 509.8,89.8 509.9,80.6 509.9,83.8 510.0,91.2 510.0,90.4 510.1,86.5 510.2,87.2 510.2,81.3 510.3,81.8 510.4,86.8 510.4,86.5 510.5,89.7 510.5,83.5 510.6,100.0 510.7,80.1 510.7,95.8 510.8,94.0 510.8,100.1 510.9,98.9 511.0,82.8 511.0,92.8 511.1,95.2 511.2,96.3 511.2,93.7 511.3,87.2 511.3,98.4 511.4,89.9 511.5,87.7 511.5,91.8 511.6,88.0 511.6,86.7 511.7,92.5 511.8,106.4 511.8,92.7 511.9,91.2 512.0,88.1 512.0,92.9 512.1,83.7 512.1,96.9 512.2,92.3 512.3,91.3 512.3,96.8 512.4,89.6 512.4,99.1 512.5,94.0 512.6,97.9 512.6,90.8 512.7,96.1 512.8,89.7 512.8,98.6 512.9,90.2 512.9,106.6 513.0,92.5 513.1,90.8 513.1,85.0 513.2,94.7 513.3,93.1 513.3,91.2 513.4,93.3 513.4,91.7 513.5,85.5 513.6,83.9 513.6,94.5 513.7,91.9 513.7,99.8 513.8,102.7 513.9,95.7 513.9,94.5 514.0,94.1 514.1,91.4 514.1,87.0 514.2,75.2 514.2,95.4 514.3,98.3 514.4,91.1 514.4,91.7 514.5,96.7 514.5,96.4 514.6,92.1 514.7,89.5 514.7,94.5 514.8,95.7 514.9,104.1 514.9,85.6 515.0,93.9 515.0,85.8 515.1,88.3 515.2,105.0 515.2,88.6 515.3,90.3 515.3,87.6 515.4,101.8 515.5,88.5 515.5,81.2 515.6,91.9 515.7,96.0 515.7,90.9 515.8,92.0 515.8,86.9 515.9,85.5 516.0,91.1 516.0,84.4 516.1,88.5 516.1,79.7 516.2,88.7 516.3,95.8 516.3,90.9 516.4,97.9 516.5,93.3 516.5,90.3 516.6,85.8 516.6,91.8 516.7,84.2 516.8,95.6 516.8,83.1 516.9,74.8 516.9,86.0 517.0,81.1 517.1,91.7 517.1,86.6 517.2,85.9 517.3,94.8 517.3,78.0 517.4,89.6 517.4,93.2 517.5,97.2 517.6,91.9 517.6,83.4 517.7,102.5 517.8,96.5 517.8,104.2 517.9,103.8 517.9,89.7 518.0,99.1 518.1,93.7 518.1,84.9 518.2,95.2 518.2,106.8 518.3,77.0 518.4,98.9 518.4,86.1 518.5,100.7 518.6,94.2 518.6,92.0 518.7,99.5 518.7,87.5 518.8,103.6 518.9,85.5 518.9,87.6 519.0,84.7 519.0,94.4 519.1,90.7 519.2,95.9 519.2,97.7 519.3,95.9 519.4,97.6 519.4,104.4 519.5,90.3 519.5,86.7 519.6,85.3 519.7,95.5 519.7,87.9 519.8,85.3 519.8,86.1 519.9,88.6 520.0,92.4 520.0,89.5 520.1,84.9 520.2,94.2 520.2,77.7 520.3,87.1 520.3,97.1 520.4,92.5 520.5,97.9 520.5,91.4 520.6,94.3 520.6,91.1 520.7,88.3 520.8,93.1 520.8,102.2 520.9,67.2 521.0,85.9 521.0,78.2 521.1,85.0 521.1,82.9 521.2,87.7 521.3,88.7 521.3,101.5 521.4,97.8 521.5,85.7 521.5,87.5 521.6,94.1 521.6,86.5 521.7,85.1 521.8,79.3 521.8,94.6 521.9,91.9 521.9,84.6 522.0,82.5 522.1,83.9 522.1,92.8 522.2,87.3 522.3,83.0 522.3,88.3 522.4,95.3 522.4,97.6 522.5,98.1 522.6,90.9 522.6,91.7 522.7,92.0 522.7,94.2 522.8,93.7 522.9,84.6 522.9,85.8 523.0,85.4 523.1,94.4 523.1,87.2 523.2,85.7 523.2,96.2 523.3,98.9 523.4,84.8 523.4,89.3 523.5,97.0 523.5,85.2 523.6,95.5 523.7,81.7 523.7,88.8 523.8,97.6 523.9,99.1 523.9,95.6 524.0,70.6 524.0,71.6 524.1,79.5 524.2,99.5 524.2,94.3 524.3,96.3 524.3,94.0 524.4,86.5 524.5,87.7 524.5,84.6 524.6,94.8 524.7,82.4 524.7,90.3 524.8,92.6 524.8,104.3 524.9,85.4 525.0,92.3 525.0,84.0 525.1,96.1 525.1,87.8 525.2,88.2 525.3,84.4 525.3,86.4 525.4,86.2 525.5,86.4 525.5,96.8 525.6,84.2 525.6,91.4 525.7,94.9 525.8,83.2 525.8,77.2 525.9,92.7 526.0,80.2 526.0,85.4 526.1,89.4 526.1,91.7 526.2,88.4 526.3,81.4 526.3,95.8 526.4,92.3 526.4,101.2 526.5,84.6 526.6,89.4 526.6,89.7 526.7,93.1 526.8,91.3 526.8,90.1 526.9,101.5 526.9,89.0 527.0,92.5 527.1,91.0 527.1,86.4 527.2,94.3 527.2,79.0 527.3,96.7 527.4,80.9 527.4,88.2 527.5,90.6 527.6,87.1 527.6,87.0 527.7,97.1 527.7,104.1 527.8,96.2 527.9,91.1 527.9,86.4 528.0,85.6 528.0,97.3 528.1,95.4 528.2,98.0 528.2,96.1 528.3,105.6 528.4,86.7 528.4,85.7 528.5,84.4 528.5,90.2 528.6,89.3 528.7,91.1 528.7,83.4 528.8,91.5 528.8,99.8 528.9,91.0 529.0,74.7 529.0,90.3 529.1,86.1 529.2,95.8 529.2,89.6 529.3,97.7 529.3,88.2 529.4,92.4 529.5,96.2 529.5,88.9 529.6,93.8 529.7,91.4 529.7,93.9 529.8,89.6 529.8,93.2 529.9,68.8 530.0,89.1 530.0,99.9 530.1,94.3 530.1,78.9 530.2,80.8 530.3,92.7 530.3,92.4 530.4,93.0 530.5,90.6 530.5,90.9 530.6,102.2 530.6,84.9 530.7,82.3 530.8,101.9 530.8,85.9 530.9,94.3 530.9,86.3 531.0,83.9 531.1,108.1 531.1,89.9 531.2,73.6 531.3,87.5 531.3,89.3 531.4,89.1 531.4,91.3 531.5,83.6 531.6,88.6 531.6,92.9 531.7,97.2 531.7,90.7 531.8,80.6 531.9,78.8 531.9,98.8 532.0,83.7 532.1,87.6 532.1,90.3 532.2,95.2 532.2,90.1 532.3,85.5 532.4,90.1 532.4,114.1 532.5,104.9 532.5,89.1 532.6,94.1 532.7,69.8 532.7,91.6 532.8,94.5 532.9,88.5 532.9,100.9 533.0,95.4 533.0,93.9 533.1,75.0 533.2,86.7 533.2,94.3 533.3,87.3 533.3,69.5 533.4,86.8 533.5,99.0 533.5,94.1 533.6,95.1 533.7,91.2 533.7,99.5 533.8,73.8 533.8,83.2 533.9,101.3 534.0,102.2 534.0,91.5 534.1,88.2 534.2,79.6 534.2,87.7 534.3,89.3 534.3,84.8 534.4,98.2 534.5,96.2 534.5,88.6 534.6,95.5 534.6,90.0 534.7,91.9 534.8,87.5 534.8,104.7 534.9,81.5 535.0,88.4 535.0,96.2 535.1,96.1 535.1,80.7 535.2,84.7 535.3,89.7 535.3,85.6 535.4,82.3 535.4,88.8 535.5,88.2 535.6,96.6 535.6,80.3 535.7,96.4 535.8,88.9 535.8,93.7 535.9,88.3 535.9,104.0 536.0,79.8 536.1,97.3 536.1,87.8 536.2,89.0 536.2,98.7 536.3,89.2 536.4,95.7 536.4,98.9 536.5,87.0 536.6,102.2 536.6,97.8 536.7,89.2 536.7,91.7 536.8,86.3 536.9,92.1 536.9,95.5 537.0,96.3 537.0,91.7 537.1,87.3 537.2,86.6 537.2,79.1 537.3,88.7 537.4,93.8 537.4,83.5 537.5,86.3 537.5,84.0 537.6,93.5 537.7,88.7 537.7,80.8 537.8,96.7 537.9,96.4 537.9,90.5 538.0,86.2 538.0,90.1 538.1,84.9 538.2,96.1 538.2,98.4 538.3,96.3 538.3,91.7 538.4,91.6 538.5,93.3 538.5,100.2 538.6,85.6 538.7,90.1 538.7,86.2 538.8,83.2 538.8,92.1 538.9,103.3 539.0,84.0 539.0,95.9 539.1,94.1 539.1,92.8 539.2,98.0 539.3,86.3 539.3,99.5 539.4,88.0 539.5,93.3 539.5,81.2 539.6,101.4 539.6,90.2 539.7,86.7" fill="none" stroke="#ff0000" stroke-width="0.42" stroke-linejoin="bevel"/>
<polyline points="354.8,178.0 354.9,168.3 354.9,172.0 355.0,191.1 355.0,179.4 355.1,176.0 355.2,193.3 355.2,177.1 355.3,195.7 355.4,179.7 355.4,184.3 355.5,179.1 355.5,177.8 355.6,183.1 355.7,191.2 355.7,182.4 355.8,174.8 355.8,169.7 355.9,190.0 356.0,176.7 356.0,174.3 356.1,184.8 356.2,184.9 356.2,185.7 356.3,174.0 356.3,168.5 356.4,185.4 356.5,181.3 356.5,181.3 356.6,175.4 356.6,185.3 356.7,182.0 356.8,185.7 356.8,190.1 356.9,178.9 357.0,179.3 357.0,179.4 357.1,170.5 357.1,178.9 357.2,188.2 357.3,186.7 357.3,177.4 357.4,172.9 357.5,184.3 357.5,181.4 357.6,182.2 357.6,191.3 357.7,178.1 357.8,188.8 357.8,183.2 357.9,187.0 357.9,176.2 358.0,180.6 358.1,183.2 358.1,180.0 358.2,181.5 358.3,179.0 358.3,193.3 358.4,165.4 358.4,186.4 358.5,182.0 358.6,173.0 358.6,176.5 358.7,170.5 358.7,188.6 358.8,185.9 358.9,183.7 358.9,192.2 359.0,169.2 359.1,171.9 359.1,177.8 359.2,185.8 359.2,184.1 359.3,173.6 359.4,181.1 359.4,186.2 359.5,161.3 359.5,184.6 359.6,187.1 359.7,194.7 359.7,188.1 359.8,178.5 359.9,165.9 359.9,170.9 360.0,174.2 360.0,178.7 360.1,185.6 360.2,180.7 360.2,182.5 360.3,190.0 360.3,159.4 360.4,182.2 360.5,185.1 360.5,189.6 360.6,195.9 360.7,187.8 360.7,173.3 360.8,184.7 360.8,174.7 360.9,183.5 361.0,176.3 361.0,177.0 361.1,182.5 361.2,176.3 361.2,181.2 361.3,180.3 361.3,184.4 361.4,176.6 361.5,172.6 361.5,168.4 361.6,183.9 361.6,185.1 361.7,173.4 361.8,167.8 361.8,185.4 361.9,181.0 362.0,186.2 362.0,181.0 362.1,189.4 362.1,183.4 362.2,180.2 362.3,187.5 362.3,172.9 362.4,180.4 362.4,181.5 362.5,178.6 362.6,182.9 362.6,177.9 362.7,169.2 362.8,206.0 362.8,180.5 362.9,178.8 362.9,170.9 363.0,180.9 363.1,179.3 363.1,162.0 363.2,188.8 363.2,187.3 363.3,168.2 363.4,190.9 363.4,175.7 363.5,186.2 363.6,184.5 363.6,188.0 363.7,184.8 363.7,191.2 363.8,178.8 363.9,178.8 363.9,178.9 364.0,175.6 364.0,196.1 364.1,182.4 364.2,190.0 364.2,184.8 364.3,180.4 364.4,187.7 364.4,173.2 364.5,186.0 364.5,190.1 364.6,183.1 364.7,182.4 364.7,178.6 364.8,186.1 364.8,194.0 364.9,188.7 365.0,178.6 365.0,181.9 365.1,175.5 365.2,184.0 365.2,186.1 365.3,182.1 365.3,180.5 365.4,183.8 365.5,183.0 365.5,184.2 365.6,176.2 365.7,175.3 365.7,177.7 365.8,175.0 365.8,183.2 365.9,194.7 366.0,181.7 366.0,170.0 366.1,175.7 366.1,174.3 366.2,187.5 366.3,182.5 366.3,203.9 366.4,181.8 366.5,180.1 366.5,189.6 366.6,174.5 366.6,180.8 366.7,188.7 366.8,184.1 366.8,186.3 366.9,174.7 366.9,170.4 367.0,178.8 367.1,187.7 367.1,177.1 367.2,173.6 367.3,160.9 367.3,193.9 367.4,160.6 367.4,176.8 367.5,173.1 367.6,185.6 367.6,169.4 367.7,171.4 367.7,182.4 367.8,170.0 367.9,184.6 367.9,189.1 368.0,181.8 368.1,163.6 368.1,176.5 368.2,179.2 368.2,190.2 368.3,191.5 368.4,188.0 368.4,181.8 368.5,179.4 368.5,180.3 368.6,176.7 368.7,178.0 368.7,177.0 368.8,180.9 368.9,197.7 368.9,171.8 369.0,193.9 369.0,185.4 369.1,193.0 369.2,180.9 369.2,180.6 369.3,197.1 369.4,178.3 369.4,174.6 369.5,180.6 369.5,177.1 369.6,190.4 369.7,183.3 369.7,184.9 369.8,181.6 369.8,181.3 369.9,189.3 370.0,185.9 370.0,191.6 370.1,168.9 370.2,184.5 370.2,187.7 370.3,181.2 370.3,169.3 370.4,181.4 370.5,178.3 370.5,190.5 370.6,189.6 370.6,188.8 370.7,185.4 370.8,186.9 370.8,183.5 370.9,189.3 371.0,182.3 371.0,186.5 371.1,188.2 371.1,181.7 371.2,183.6 371.3,177.8 371.3,174.7 371.4,177.9 371.4,177.2 371.5,171.5 371.6,183.0 371.6,187.9 371.7,188.3 371.8,192.4 371.8,180.5 371.9,212.4 371.9,179.7 372.0,183.6 372.1,200.7 372.1,162.2 372.2,184.8 372.2,184.5 372.3,196.7 372.4,177.8 372.4,183.1 372.5,165.2 372.6,181.8 372.6,171.0 372.7,173.0 372.7,190.7 372.8,177.1 372.9,172.4 372.9,186.6 373.0,182.5 373.0,178.6 373.1,170.7 373.2,176.2 373.2,172.0 373.3,179.0 373.4,178.5 373.4,180.0 373.5,172.3 373.5,178.8 373.6,186.9 373.7,177.3 373.7,192.3 373.8,186.0 373.9,185.8 373.9,168.4 374.0,185.9 374.0,181.3 374.1,183.4 374.2,178.6 374.2,178.5 374.3,172.8 374.3,172.1 374.4,182.4 374.5,174.2 374.5,176.9 374.6,186.6 374.7,189.3 374.7,179.4 374.8,166.8 374.8,182.7 374.9,186.9 375.0,181.1 375.0,178.1 375.1,173.0 375.1,181.8 375.2,199.5 375.3,185.1 375.3,178.5 375.4,174.5 375.5,183.8 375.5,171.3 375.6,177.3 375.6,179.1 375.7,179.0 375.8,183.7 375.8,180.6 375.9,172.7 375.9,166.5 376.0,181.7 376.1,162.4 376.1,171.1 376.2,194.8 376.3,175.6 376.3,190.5 376.4,176.3 376.4,185.4 376.5,185.4 376.6,188.6 376.6,178.8 376.7,172.8 376.7,180.6 376.8,170.2 376.9,170.4 376.9,187.5 377.0,174.7 377.1,189.1 377.1,188.6 377.2,175.1 377.2,177.8 377.3,179.2 377.4,188.0 377.4,181.1 377.5,189.2 377.6,180.9 377.6,189.0 377.7,179.9 377.7,190.4 377.8,193.2 377.9,190.7 377.9,188.3 378.0,170.0 378.0,194.4 378.1,182.5 378.2,171.7 378.2,174.8 378.3,175.2 378.4,185.9 378.4,177.9 378.5,181.5 378.5,188.1 378.6,162.4 378.7,171.2 378.7,182.6 378.8,170.8 378.8,187.0 378.9,173.1 379.0,174.4 379.0,186.4 379.1,201.8 379.2,180.7 379.2,177.9 379.3,171.3 379.3,178.4 379.4,177.7 379.5,173.1 379.5,177.4 379.6,186.6 379.6,181.4 379.7,163.1 379.8,191.8 379.8,188.2 379.9,164.3 380.0,189.1 380.0,172.4 380.1,188.1 380.1,181.8 380.2,174.2 380.3,183.2 380.3,181.7 380.4,182.2 380.4,172.0 380.5,186.0 380.6,179.2 380.6,190.2 380.7,186.7 380.8,185.6 380.8,173.5 380.9,194.5 380.9,183.5 381.0,180.8 381.1,177.1 381.1,180.9 381.2,188.6 381.2,167.1 381.3,184.4 381.4,172.5 381.4,174.9 381.5,184.2 381.6,184.7 381.6,179.4 381.7,183.4 381.7,191.4 381.8,182.0 381.9,173.8 381.9,178.8 382.0,176.8 382.1,191.0 382.1,178.7 382.2,169.7 382.2,172.1 382.3,197.4 382.4,184.8 382.4,173.6 382.5,171.6 382.5,186.7 382.6,172.7 382.7,179.7 382.7,186.8 382.8,185.7 382.9,174.7 382.9,184.9 383.0,170.1 383.0,182.7 383.1,176.9 383.2,167.9 383.2,189.6 383.3,179.4 383.3,183.8 383.4,177.7 383.5,200.4 383.5,191.7 383.6,179.6 383.7,194.9 383.7,187.6 383.8,202.7 383.8,167.3 383.9,183.4 384.0,173.9 384.0,180.3 384.1,178.8 384.1,183.2 384.2,167.4 384.3,178.7 384.3,171.2 384.4,188.4 384.5,183.1 384.5,185.6 384.6,188.2 384.6,186.5 384.7,176.8 384.8,181.7 384.8,168.2 384.9,175.0 384.9,178.5 385.0,179.4 385.1,183.4 385.1,181.1 385.2,193.1 385.3,187.9 385.3,181.7 385.4,179.4 385.4,177.7 385.5,189.7 385.6,176.1 385.6,187.7 385.7,173.8 385.8,180.3 385.8,172.5 385.9,184.5 385.9,182.8 386.0,177.9 386.1,170.2 386.1,162.4 386.2,177.2 386.2,188.0 386.3,168.3 386.4,182.5 386.4,174.5 386.5,185.2 386.6,174.5 386.6,189.6 386.7,174.6 386.7,178.9 386.8,192.7 386.9,184.7 386.9,181.7 387.0,180.1 387.0,183.9 387.1,174.2 387.2,173.3 387.2,191.3 387.3,181.1 387.4,182.6 387.4,181.0 387.5,181.9 387.5,189.2 387.6,182.6 387.7,180.4 387.7,176.9 387.8,182.5 387.8,189.1 387.9,177.7 388.0,178.5 388.0,189.7 388.1,183.0 388.2,189.1 388.2,174.4 388.3,176.5 388.3,174.5 388.4,187.5 388.5,171.1 388.5,189.0 388.6,181.2 388.6,184.9 388.7,192.8 388.8,188.1 388.8,165.3 388.9,185.7 389.0,189.1 389.0,178.8 389.1,186.2 389.1,185.9 389.2,186.7 389.3,168.3 389.3,190.7 389.4,172.7 389.4,185.4 389.5,191.4 389.6,186.0 389.6,185.2 389.7,192.8 389.8,187.4 389.8,185.3 389.9,199.6 389.9,172.9 390.0,179.6 390.1,168.4 390.1,173.6 390.2,189.2 390.3,183.4 390.3,192.8 390.4,186.8 390.4,161.5 390.5,179.5 390.6,178.4 390.6,177.0 390.7,193.2 390.7,177.7 390.8,188.9 390.9,180.8 390.9,180.5 391.0,177.2 391.1,193.3 391.1,181.2 391.2,174.2 391.2,182.4 391.3,171.4 391.4,199.0 391.4,173.1 391.5,172.7 391.5,182.8 391.6,174.2 391.7,191.4 391.7,181.1 391.8,182.1 391.9,181.8 391.9,181.2 392.0,183.1 392.0,194.9 392.1,179.8 392.2,168.4 392.2,190.1 392.3,188.1 392.3,175.9 392.4,178.3 392.5,190.3 392.5,182.4 392.6,180.9 392.7,179.8 392.7,176.9 392.8,185.7 392.8,163.5 392.9,173.3 393.0,168.8 393.0,177.0 393.1,173.3 393.1,182.9 393.2,171.5 393.3,179.8 393.3,185.6 393.4,181.7 393.5,176.6 393.5,177.6 393.6,176.1 393.6,181.7 393.7,182.0 393.8,190.7 393.8,186.7 393.9,186.7 394.0,177.3 394.0,184.0 394.1,174.4 394.1,156.6 394.2,184.8 394.3,187.2 394.3,159.1 394.4,188.2 394.4,169.6 394.5,173.8 394.6,184.2 394.6,179.4 394.7,180.5 394.8,173.4 394.8,189.5 394.9,179.9 394.9,179.5 395.0,192.5 395.1,181.2 395.1,185.3 395.2,186.8 395.2,181.4 395.3,172.2 395.4,185.5 395.4,176.9 395.5,190.6 395.6,189.4 395.6,160.3 395.7,195.7 395.7,172.8 395.8,183.4 395.9,184.5 395.9,181.3 396.0,184.2 396.0,191.1 396.1,184.1 396.2,180.7 396.2,182.7 396.3,181.6 396.4,180.9 396.4,181.7 396.5,181.2 396.5,195.0 396.6,174.5 396.7,175.0 396.7,191.7 396.8,181.2 396.8,201.0 396.9,183.9 397.0,177.0 397.0,186.1 397.1,196.3 397.2,177.8 397.2,180.9 397.3,172.6 397.3,185.1 397.4,182.3 397.5,198.5 397.5,167.9 397.6,186.8 397.6,184.0 397.7,187.3 397.8,181.5 397.8,184.8 397.9,179.3 398.0,180.4 398.0,189.1 398.1,166.0 398.1,190.9 398.2,178.3 398.3,182.8 398.3,191.3 398.4,191.3 398.5,186.8 398.5,182.6 398.6,172.7 398.6,183.9 398.7,180.8 398.8,179.1 398.8,175.0 398.9,182.0 398.9,185.8 399.0,174.0 399.1,171.0 399.1,185.7 399.2,174.8 399.3,177.3 399.3,179.3 399.4,178.3 399.4,174.0 399.5,175.8 399.6,180.9 399.6,177.8 399.7,182.3 399.7,186.9 399.8,189.1 399.9,174.3 399.9,177.0 400.0,179.2 400.1,177.0 400.1,183.8 400.2,181.6 400.2,169.0 400.3,170.4 400.4,182.9 400.4,188.8 400.5,189.2 400.5,184.1 400.6,183.7 400.7,172.2 400.7,170.7 400.8,179.1 400.9,200.5 400.9,188.5 401.0,178.6 401.0,176.4 401.1,177.8 401.2,176.7 401.2,190.6 401.3,174.1 401.3,187.4 401.4,177.5 401.5,183.8 401.5,189.3 401.6,182.4 401.7,182.8 401.7,176.5 401.8,177.4 401.8,193.3 401.9,178.1 402.0,181.2 402.0,174.3 402.1,185.3 402.2,176.1 402.2,184.1 402.3,179.7 402.3,177.6 402.4,185.0 402.5,187.9 402.5,174.8 402.6,189.3 402.6,183.9 402.7,188.2 402.8,190.1 402.8,175.7 402.9,180.7 403.0,184.3 403.0,190.1 403.1,151.7 403.1,194.0 403.2,181.1 403.3,171.3 403.3,181.5 403.4,175.8 403.4,195.7 403.5,179.7 403.6,178.6 403.6,180.2 403.7,176.4 403.8,184.4 403.8,186.8 403.9,183.7 403.9,176.6 404.0,188.9 404.1,182.0 404.1,181.1 404.2,190.2 404.2,184.0 404.3,164.0 404.4,186.6 404.4,170.0 404.5,174.8 404.6,180.5 404.6,184.0 404.7,185.3 404.7,177.0 404.8,188.3 404.9,185.8 404.9,180.7 405.0,172.0 405.0,186.3 405.1,174.7 405.2,177.2 405.2,179.0 405.3,178.2 405.4,167.3 405.4,182.3 405.5,176.3 405.5,177.8 405.6,187.7 405.7,194.8 405.7,184.6 405.8,177.7 405.8,178.7 405.9,190.9 406.0,183.1 406.0,175.1 406.1,198.6 406.2,188.8 406.2,179.0 406.3,178.9 406.3,172.4 406.4,168.8 406.5,184.4 406.5,177.4 406.6,192.5 406.7,174.4 406.7,182.6 406.8,189.4 406.8,173.9 406.9,189.5 407.0,172.4 407.0,200.3 407.1,165.7 407.1,177.8 407.2,200.8 407.3,180.7 407.3,188.8 407.4,183.3 407.5,168.3 407.5,184.5 407.6,177.3 407.6,196.1 407.7,169.3 407.8,195.9 407.8,181.4 407.9,186.9 407.9,201.8 408.0,181.2 408.1,181.3 408.1,188.4 408.2,176.8 408.3,189.7 408.3,190.0 408.4,184.0 408.4,171.4 408.5,167.7 408.6,172.0 408.6,180.5 408.7,152.4 408.7,181.8 408.8,184.1 408.9,184.0 408.9,192.7 409.0,180.3 409.1,185.9 409.1,178.0 409.2,190.8 409.2,182.1 409.3,182.5 409.4,184.6 409.4,169.7 409.5,190.3 409.5,179.6 409.6,180.3 409.7,182.5 409.7,218.0 409.8,183.9 409.9,175.7 409.9,183.2 410.0,182.1 410.0,181.9 410.1,185.3 410.2,191.4 410.2,176.4 410.3,187.0 410.4,183.3 410.4,184.9 410.5,191.1 410.5,183.3 410.6,166.6 410.7,189.2 410.7,189.5 410.8,189.3 410.8,179.7 410.9,196.6 411.0,183.3 411.0,178.8 411.1,198.0 411.2,167.2 411.2,189.3 411.3,188.3 411.3,182.3 411.4,179.2 411.5,195.3 411.5,193.3 411.6,196.4 411.6,185.5 411.7,184.7 411.8,185.2 411.8,176.0 411.9,194.5 412.0,193.7 412.0,190.6 412.1,175.7 412.1,184.2 412.2,188.1 412.3,189.4 412.3,180.6 412.4,190.7 412.4,197.7 412.5,177.3 412.6,182.8 412.6,176.4 412.7,175.6 412.8,177.2 412.8,188.1 412.9,189.6 412.9,185.2 413.0,193.0 413.1,190.9 413.1,183.1 413.2,193.9 413.2,186.9 413.3,187.0 413.4,179.1 413.4,190.9 413.5,181.8 413.6,196.8 413.6,185.6 413.7,192.3 413.7,184.1 413.8,175.6 413.9,188.2 413.9,180.2 414.0,186.8 414.0,184.5 414.1,201.6 414.2,185.8 414.2,187.1 414.3,186.5 414.4,199.3 414.4,189.9 414.5,188.2 414.5,199.9 414.6,197.8 414.7,187.0 414.7,177.6 414.8,193.6 414.9,188.6 414.9,183.4 415.0,192.3 415.0,190.8 415.1,181.3 415.2,194.5 415.2,192.0 415.3,199.2 415.3,188.5 415.4,199.8 415.5,189.9 415.5,189.0 415.6,191.2 415.7,194.4 415.7,184.0 415.8,199.5 415.8,192.9 415.9,197.5 416.0,192.3 416.0,194.4 416.1,192.9 416.1,173.7 416.2,171.3 416.3,188.4 416.3,205.0 416.4,183.5 416.5,194.3 416.5,198.9 416.6,188.3 416.6,195.3 416.7,192.4 416.8,207.7 416.8,198.6 416.9,181.9 416.9,189.9 417.0,182.2 417.1,189.2 417.1,185.3 417.2,184.3 417.3,201.3 417.3,194.1 417.4,194.8 417.4,199.2 417.5,200.6 417.6,193.6 417.6,178.3 417.7,198.8 417.7,194.3 417.8,177.7 417.9,188.3 417.9,183.5 418.0,182.6 418.1,202.5 418.1,185.9 418.2,189.4 418.2,185.5 418.3,198.5 418.4,180.3 418.4,189.5 418.5,196.6 418.6,190.1 418.6,184.7 418.7,179.6 418.7,198.8 418.8,194.9 418.9,193.2 418.9,190.6 419.0,196.4 419.0,194.8 419.1,180.4 419.2,190.4 419.2,197.7 419.3,200.6 419.4,174.4 419.4,195.7 419.5,202.1 419.5,194.3 419.6,201.5 419.7,189.3 419.7,192.6 419.8,189.3 419.8,188.1 419.9,196.1 420.0,190.2 420.0,198.0 420.1,195.2 420.2,183.7 420.2,197.7 420.3,174.8 420.3,188.3 420.4,186.4 420.5,183.5 420.5,192.6 420.6,200.4 420.6,196.6 420.7,193.3 420.8,182.5 420.8,197.7 420.9,187.5 421.0,187.5 421.0,193.5 421.1,186.1 421.1,186.2 421.2,193.8 421.3,183.1 421.3,197.3 421.4,182.4 421.4,196.9 421.5,196.2 421.6,193.5 421.6,184.8 421.7,197.6 421.8,187.0 421.8,199.6 421.9,195.6 421.9,185.1 422.0,194.9 422.1,197.0 422.1,196.8 422.2,192.8 422.2,193.1 422.3,205.2 422.4,195.0 422.4,197.9 422.5,195.8 422.6,182.6 422.6,197.0 422.7,191.5 422.7,194.1 422.8,191.4 422.9,187.1 422.9,188.6 423.0,182.8 423.1,195.9 423.1,188.4 423.2,189.7 423.2,184.5 423.3,199.5 423.4,190.4 423.4,192.3 423.5,195.3 423.5,186.4 423.6,192.6 423.7,197.2 423.7,206.8 423.8,193.5 423.9,190.9 423.9,194.7 424.0,190.4 424.0,182.5 424.1,190.7 424.2,189.7 424.2,194.2 424.3,172.3 424.3,193.1 424.4,191.6 424.5,193.7 424.5,186.5 424.6,192.6 424.7,170.4 424.7,187.8 424.8,185.5 424.8,200.3 424.9,196.0 425.0,183.9 425.0,180.0 425.1,192.6 425.1,195.8 425.2,177.1 425.3,192.8 425.3,190.7 425.4,195.7 425.5,193.4 425.5,189.0 425.6,190.5 425.6,202.3 425.7,202.5 425.8,201.5 425.8,194.4 425.9,195.0 425.9,202.9 426.0,189.8 426.1,193.7 426.1,194.5 426.2,183.5 426.3,207.2 426.3,180.7 426.4,182.3 426.4,186.1 426.5,193.7 426.6,198.1 426.6,204.1 426.7,197.0 426.8,187.2 426.8,195.7 426.9,181.0 426.9,212.0 427.0,191.3 427.1,175.5 427.1,191.6 427.2,195.2 427.2,175.0 427.3,183.7 427.4,189.2 427.4,191.7 427.5,182.7 427.6,196.0 427.6,189.2 427.7,175.6 427.7,183.5 427.8,200.4 427.9,203.3 427.9,196.1 428.0,191.8 428.0,187.9 428.1,180.8 428.2,181.2 428.2,201.6 428.3,158.6 428.4,192.8 428.4,204.1 428.5,195.6 428.5,182.1 428.6,189.7 428.7,199.5 428.7,184.8 428.8,189.6 428.8,198.3 428.9,184.5 429.0,191.0 429.0,197.3 429.1,192.8 429.2,192.5 429.2,197.4 429.3,199.3 429.3,201.2 429.4,201.6 429.5,196.1 429.5,188.3 429.6,186.2 429.6,198.3 429.7,187.9 429.8,173.5 429.8,191.4 429.9,186.3 430.0,190.0 430.0,169.0 430.1,187.2 430.1,199.0 430.2,192.5 430.3,175.5 430.3,186.2 430.4,195.9 430.4,190.9 430.5,193.0 430.6,169.6 430.6,190.6 430.7,188.1 430.8,188.6 430.8,203.5 430.9,186.8 430.9,185.6 431.0,189.1 431.1,180.3 431.1,184.8 431.2,180.8 431.3,189.2 431.3,185.9 431.4,176.9 431.4,185.7 431.5,181.9 431.6,174.8 431.6,187.6 431.7,200.1 431.7,169.2 431.8,188.9 431.9,200.9 431.9,198.1 432.0,201.3 432.1,205.1 432.1,194.6 432.2,203.1 432.2,201.6 432.3,189.3 432.4,181.6 432.4,208.7 432.5,201.6 432.5,192.5 432.6,186.8 432.7,181.7 432.7,194.2 432.8,190.6 432.9,186.8 432.9,189.3 433.0,200.8 433.0,192.9 433.1,194.8 433.2,183.0 433.2,203.6 433.3,195.9 433.3,193.2 433.4,194.5 433.5,186.5 433.5,194.5 433.6,192.7 433.7,192.2 433.7,202.8 433.8,197.4 433.8,187.8 433.9,183.2 434.0,195.0 434.0,186.7 434.1,190.3 434.1,189.3 434.2,179.8 434.3,195.4 434.3,188.9 434.4,185.7 434.5,192.0 434.5,188.6 434.6,185.4 434.6,171.4 434.7,191.0 434.8,199.5 434.8,191.1 434.9,191.2 435.0,189.9 435.0,187.6 435.1,180.8 435.1,209.6 435.2,191.2 435.3,190.1 435.3,194.4 435.4,206.6 435.4,177.4 435.5,194.4 435.6,181.1 435.6,186.0 435.7,190.1 435.8,186.8 435.8,190.5 435.9,185.2 435.9,208.7 436.0,184.6 436.1,177.5 436.1,191.1 436.2,191.4 436.2,179.7 436.3,204.8 436.4,188.4 436.4,197.3 436.5,199.5 436.6,201.3 436.6,191.7 436.7,184.5 436.7,186.9 436.8,190.6 436.9,187.4 436.9,187.5 437.0,193.6 437.0,194.1 437.1,188.7 437.2,182.0 437.2,181.5 437.3,191.9 437.4,197.4 437.4,201.3 437.5,179.0 437.5,189.4 437.6,191.1 437.7,195.5 437.7,192.5 437.8,182.2 437.8,182.0 437.9,185.0 438.0,188.0 438.0,181.8 438.1,200.6 438.2,203.2 438.2,187.0 438.3,187.2 438.3,177.4 438.4,199.0 438.5,194.3 438.5,195.6 438.6,186.8 438.6,187.1 438.7,186.8 438.8,188.8 438.8,194.2 438.9,196.7 439.0,186.5 439.0,181.4 439.1,197.9 439.1,172.7 439.2,191.2 439.3,183.0 439.3,188.3 439.4,179.6 439.5,183.4 439.5,190.1 439.6,184.9 439.6,193.3 439.7,178.0 439.8,186.8 439.8,189.8 439.9,192.1 439.9,195.6 440.0,196.3 440.1,209.9 440.1,197.3 440.2,185.6 440.3,201.1 440.3,203.7 440.4,186.7 440.4,193.9 440.5,194.5 440.6,183.4 440.6,191.4 440.7,180.4 440.7,178.1 440.8,197.2 440.9,195.9 440.9,214.6 441.0,176.3 441.1,186.1 441.1,183.3 441.2,185.3 441.2,178.7 441.3,173.8 441.4,199.8 441.4,189.5 441.5,181.5 441.5,187.0 441.6,194.9 441.7,181.4 441.7,191.2 441.8,191.1 441.9,193.0 441.9,193.5 442.0,181.3 442.0,187.6 442.1,190.1 442.2,191.6 442.2,182.6 442.3,175.6 442.3,189.1 442.4,185.2 442.5,188.8 442.5,188.2 442.6,187.0 442.7,182.0 442.7,182.6 442.8,182.3 442.8,195.0 442.9,184.5 443.0,185.2 443.0,190.5 443.1,188.0 443.2,177.3 443.2,191.9 443.3,186.4 443.3,190.8 443.4,178.7 443.5,180.2 443.5,203.0 443.6,194.6 443.6,187.6 443.7,185.5 443.8,202.2 443.8,183.3 443.9,192.2 444.0,188.1 444.0,179.9 444.1,200.4 444.1,186.2 444.2,192.1 444.3,185.4 444.3,193.2 444.4,195.0 444.4,179.4 444.5,184.2 444.6,203.1 444.6,190.3 444.7,181.2 444.8,197.9 444.8,193.2 444.9,193.4 444.9,182.0 445.0,193.7 445.1,189.4 445.1,193.7 445.2,195.2 445.2,188.2 445.3,186.4 445.4,192.7 445.4,204.0 445.5,183.8 445.6,188.5 445.6,202.8 445.7,188.3 445.7,196.5 445.8,199.2 445.9,183.3 445.9,182.4 446.0,183.1 446.0,188.6 446.1,192.6 446.2,192.0 446.2,196.4 446.3,170.1 446.4,181.1 446.4,208.3 446.5,174.5 446.5,181.1 446.6,188.9 446.7,195.1 446.7,196.5 446.8,173.4 446.8,179.7 446.9,182.2 447.0,188.7 447.0,188.2 447.1,182.3 447.2,192.1 447.2,199.8 447.3,192.9 447.3,209.7 447.4,190.7 447.5,186.0 447.5,185.9 447.6,218.6 447.7,183.7 447.7,182.6 447.8,193.4 447.8,187.7 447.9,184.4 448.0,195.1 448.0,188.3 448.1,176.1 448.1,185.4 448.2,195.0 448.3,196.6 448.3,195.8 448.4,187.0 448.5,182.3 448.5,174.9 448.6,187.4 448.6,191.9 448.7,183.8 448.8,190.6 448.8,201.1 448.9,190.3 448.9,193.1 449.0,187.1 449.1,186.2 449.1,201.7 449.2,185.1 449.3,179.6 449.3,184.7 449.4,185.0 449.4,206.5 449.5,189.1 449.6,193.5 449.6,188.1 449.7,180.0 449.7,180.9 449.8,192.1 449.9,189.0 449.9,183.4 450.0,188.5 450.1,179.9 450.1,190.4 450.2,185.3 450.2,196.4 450.3,191.3 450.4,190.9 450.4,185.3 450.5,186.0 450.5,187.9 450.6,186.7 450.7,182.7 450.7,180.3 450.8,189.2 450.9,186.6 450.9,172.5 451.0,184.2 451.0,185.1 451.1,187.2 451.2,185.9 451.2,187.7 451.3,192.3 451.3,191.0 451.4,183.0 451.5,192.3 451.5,185.4 451.6,182.6 451.7,197.6 451.7,184.3 451.8,189.1 451.8,179.6 451.9,189.5 452.0,174.3 452.0,176.7 452.1,183.0 452.2,187.8 452.2,181.5 452.3,194.1 452.3,191.9 452.4,191.9 452.5,192.6 452.5,198.5 452.6,197.9 452.6,185.3 452.7,193.2 452.8,188.8 452.8,189.5 452.9,189.4 453.0,192.1 453.0,173.2 453.1,188.9 453.1,192.9 453.2,189.5 453.3,179.2 453.3,192.8 453.4,195.0 453.4,191.7 453.5,179.8 453.6,200.7 453.6,187.0 453.7,183.2 453.8,186.4 453.8,195.8 453.9,178.9 453.9,182.1 454.0,190.3 454.1,190.0 454.1,181.4 454.2,184.6 454.2,191.6 454.3,205.9 454.4,200.0 454.4,170.2 454.5,190.6 454.6,182.8 454.6,190.6 454.7,191.8 454.7,184.9 454.8,188.6 454.9,187.0 454.9,188.3 455.0,191.6 455.0,190.4 455.1,188.0 455.2,198.6 455.2,192.2 455.3,188.1 455.4,186.9 455.4,190.7 455.5,199.9 455.5,193.1 455.6,202.1 455.7,183.0 455.7,187.7 455.8,184.0 455.9,181.3 455.9,195.0 456.0,193.6 456.0,199.8 456.1,197.6 456.2,177.9 456.2,186.4 456.3,189.4 456.3,179.2 456.4,184.7 456.5,190.7 456.5,194.3 456.6,190.5 456.7,187.9 456.7,181.4 456.8,184.1 456.8,192.2 456.9,191.5 457.0,190.7 457.0,196.2 457.1,199.5 457.1,188.5 457.2,192.3 457.3,190.9 457.3,197.7 457.4,193.7 457.5,180.9 457.5,184.5 457.6,186.3 457.6,185.7 457.7,186.2 457.8,180.6 457.8,182.5 457.9,185.9 457.9,191.6 458.0,189.9 458.1,190.8 458.1,185.0 458.2,181.9 458.3,193.4 458.3,194.6 458.4,194.8 458.4,181.8 458.5,179.0 458.6,196.4 458.6,191.1 458.7,187.3 458.7,184.1 458.8,174.3 458.9,195.1 458.9,187.6 459.0,193.6 459.1,197.1 459.1,182.0 459.2,176.7 459.2,187.9 459.3,188.7 459.4,179.0 459.4,178.9 459.5,173.2 459.5,191.5 459.6,193.2 459.7,186.0 459.7,189.9 459.8,181.2 459.9,179.8 459.9,186.0 460.0,181.1 460.0,187.6 460.1,191.9 460.2,182.9 460.2,189.5 460.3,192.1 460.4,178.1 460.4,185.4 460.5,186.7 460.5,187.2 460.6,186.7 460.7,187.5 460.7,179.1 460.8,189.1 460.8,183.6 460.9,193.7 461.0,179.7 461.0,177.8 461.1,185.0 461.2,181.4 461.2,187.4 461.3,177.9 461.3,202.6 461.4,179.5 461.5,184.0 461.5,186.4 461.6,160.9 461.6,193.2 461.7,199.9 461.8,178.0 461.8,179.0 461.9,189.0 462.0,188.9 462.0,188.0 462.1,181.4 462.1,180.5 462.2,183.4 462.3,184.0 462.3,188.8 462.4,185.2 462.4,194.1 462.5,189.1 462.6,185.2 462.6,190.5 462.7,190.3 462.8,187.4 462.8,181.3 462.9,186.7 462.9,186.6 463.0,191.1 463.1,189.0 463.1,192.1 463.2,188.2 463.2,197.0 463.3,187.9 463.4,186.3 463.4,183.2 463.5,189.5 463.6,186.2 463.6,185.1 463.7,187.9 463.7,190.2 463.8,181.3 463.9,172.9 463.9,178.0 464.0,186.0 464.1,184.5 464.1,183.8 464.2,180.4 464.2,172.6 464.3,195.9 464.4,179.6 464.4,181.2 464.5,201.8 464.5,186.9 464.6,191.8 464.7,183.9 464.7,187.7 464.8,189.4 464.9,177.3 464.9,194.1 465.0,181.4 465.0,180.7 465.1,194.3 465.2,192.7 465.2,186.4 465.3,208.3 465.3,176.4 465.4,167.7 465.5,199.6 465.5,177.8 465.6,185.2 465.7,192.3 465.7,191.3 465.8,191.4 465.8,194.5 465.9,183.1 466.0,182.7 466.0,193.2 466.1,193.6 466.1,186.9 466.2,174.5 466.3,182.2 466.3,180.2 466.4,195.8 466.5,187.3 466.5,185.9 466.6,183.8 466.6,185.3 466.7,175.1 466.8,185.6 466.8,187.2 466.9,191.5 466.9,184.8 467.0,178.4 467.1,190.3 467.1,180.3 467.2,190.3 467.3,192.2 467.3,193.5 467.4,185.7 467.4,195.7 467.5,202.7 467.6,181.4 467.6,188.6 467.7,187.2 467.7,193.4 467.8,190.8 467.9,187.3 467.9,201.5 468.0,191.2 468.1,192.5 468.1,183.9 468.2,181.4 468.2,181.7 468.3,175.4 468.4,200.0 468.4,195.7 468.5,197.0 468.6,201.4 468.6,192.7 468.7,193.2 468.7,186.6 468.8,194.5 468.9,183.2 468.9,179.2 469.0,177.8 469.0,183.0 469.1,195.1 469.2,191.0 469.2,191.5 469.3,195.3 469.4,189.3 469.4,184.9 469.5,188.5 469.5,199.1 469.6,183.6 469.7,185.9 469.7,199.2 469.8,191.7 469.8,182.4 469.9,187.0 470.0,192.4 470.0,195.4 470.1,192.4 470.2,187.6 470.2,191.6 470.3,199.7 470.3,193.9 470.4,182.3 470.5,181.6 470.5,180.5 470.6,199.4 470.6,191.7 470.7,187.7 470.8,193.6 470.8,185.0 470.9,185.5 471.0,189.1 471.0,192.5 471.1,169.8 471.1,206.0 471.2,194.0 471.3,183.9 471.3,189.7 471.4,191.4 471.4,183.2 471.5,188.6 471.6,193.2 471.6,186.8 471.7,184.5 471.8,186.4 471.8,191.5 471.9,184.1 471.9,185.3 472.0,179.7 472.1,178.9 472.1,193.6 472.2,186.8 472.3,182.2 472.3,198.4 472.4,180.4 472.4,193.1 472.5,201.0 472.6,205.4 472.6,187.1 472.7,189.5 472.7,181.8 472.8,187.3 472.9,196.1 472.9,207.2 473.0,191.0 473.1,189.4 473.1,197.2 473.2,183.3 473.2,199.3 473.3,188.1 473.4,180.1 473.4,193.6 473.5,194.3 473.5,175.1 473.6,202.4 473.7,194.7 473.7,177.3 473.8,191.1 473.9,183.7 473.9,178.1 474.0,189.7 474.0,196.2 474.1,185.4 474.2,188.8 474.2,189.3 474.3,186.8 474.3,183.3 474.4,187.1 474.5,195.5 474.5,195.5 474.6,198.9 474.7,195.9 474.7,187.2 474.8,182.9 474.8,178.6 474.9,195.5 475.0,192.7 475.0,186.1 475.1,188.5 475.1,191.2 475.2,186.5 475.3,186.5 475.3,190.8 475.4,179.7 475.5,177.4 475.5,189.8 475.6,185.2 475.6,187.1 475.7,195.8 475.8,191.3 475.8,195.3 475.9,189.7 475.9,200.8 476.0,183.4 476.1,191.4 476.1,187.6 476.2,184.9 476.3,195.5 476.3,189.7 476.4,187.9 476.4,186.0 476.5,173.1 476.6,185.4 476.6,154.5 476.7,202.9 476.8,208.1 476.8,189.9 476.9,202.9 476.9,177.3 477.0,186.3 477.1,189.0 477.1,184.1 477.2,180.8 477.2,186.8 477.3,190.7 477.4,198.3 477.4,191.4 477.5,195.4 477.6,178.9 477.6,177.5 477.7,188.0 477.7,190.3 477.8,183.8 477.9,185.5 477.9,193.3 478.0,198.5 478.0,199.8 478.1,181.1 478.2,182.1 478.2,185.7 478.3,191.5 478.4,183.8 478.4,187.6 478.5,180.7 478.5,189.1 478.6,185.4 478.7,190.2 478.7,189.4 478.8,178.4 478.8,190.7 478.9,185.2 479.0,186.6 479.0,195.8 479.1,192.7 479.2,187.5 479.2,188.3 479.3,190.7 479.3,175.4 479.4,177.8 479.5,189.9 479.5,190.6 479.6,171.5 479.6,185.8 479.7,196.3 479.8,198.1 479.8,192.0 479.9,182.6 480.0,184.7 480.0,189.1 480.1,183.4 480.1,187.9 480.2,176.6 480.3,200.3 480.3,193.5 480.4,194.3 480.5,179.1 480.5,186.8 480.6,191.3 480.6,191.9 480.7,191.3 480.8,184.5 480.8,192.5 480.9,184.5 480.9,199.6 481.0,186.6 481.1,194.4 481.1,192.5 481.2,183.8 481.3,194.0 481.3,196.1 481.4,190.8 481.4,187.1 481.5,191.2 481.6,191.5 481.6,178.8 481.7,172.9 481.7,183.7 481.8,183.0 481.9,193.0 481.9,194.6 482.0,184.7 482.1,192.6 482.1,190.7 482.2,199.2 482.2,195.7 482.3,171.4 482.4,189.6 482.4,191.9 482.5,190.0 482.5,191.6 482.6,178.1 482.7,188.6 482.7,186.5 482.8,184.4 482.9,191.7 482.9,183.2 483.0,183.2 483.0,194.9 483.1,197.4 483.2,193.3 483.2,192.0 483.3,195.2 483.3,195.3 483.4,187.0 483.5,184.4 483.5,174.6 483.6,193.6 483.7,190.3 483.7,194.5 483.8,194.8 483.8,194.5 483.9,192.2 484.0,188.7 484.0,193.2 484.1,193.3 484.1,198.6 484.2,187.0 484.3,191.5 484.3,177.9 484.4,195.4 484.5,197.4 484.5,190.9 484.6,192.3 484.6,182.1 484.7,200.1 484.8,169.8 484.8,191.7 484.9,175.6 485.0,184.6 485.0,190.4 485.1,180.4 485.1,186.6 485.2,185.2 485.3,187.1 485.3,190.0 485.4,186.9 485.4,189.4 485.5,190.8 485.6,181.4 485.6,168.1 485.7,197.2 485.8,194.6 485.8,185.2 485.9,185.4 485.9,198.4 486.0,190.2 486.1,175.4 486.1,189.4 486.2,195.9 486.2,180.6 486.3,186.4 486.4,182.6 486.4,192.1 486.5,194.0 486.6,184.8 486.6,180.9 486.7,199.5 486.7,185.6 486.8,179.2 486.9,194.5 486.9,204.9 487.0,191.9 487.0,191.1 487.1,192.7 487.2,190.6 487.2,184.6 487.3,189.8 487.4,189.3 487.4,190.3 487.5,205.1 487.5,190.2 487.6,182.7 487.7,181.1 487.7,193.6 487.8,185.9 487.8,191.5 487.9,187.7 488.0,183.3 488.0,198.8 488.1,205.9 488.2,192.7 488.2,179.3 488.3,194.2 488.3,173.4 488.4,206.8 488.5,181.1 488.5,200.1 488.6,187.4 488.7,177.9 488.7,191.1 488.8,186.8 488.8,184.9 488.9,196.5 489.0,187.5 489.0,185.5 489.1,188.5 489.1,181.9 489.2,187.1 489.3,194.1 489.3,199.0 489.4,191.6 489.5,176.1 489.5,185.2 489.6,184.8 489.6,184.2 489.7,188.3 489.8,193.7 489.8,188.6 489.9,180.2 489.9,187.8 490.0,187.8 490.1,187.7 490.1,185.8 490.2,182.0 490.3,179.7 490.3,198.8 490.4,200.2 490.4,191.5 490.5,186.2 490.6,204.7 490.6,189.7 490.7,199.4 490.7,184.4 490.8,185.7 490.9,186.1 490.9,187.8 491.0,182.5 491.1,181.9 491.1,189.0 491.2,181.1 491.2,184.8 491.3,185.0 491.4,188.5 491.4,164.3 491.5,183.8 491.5,190.7 491.6,189.2 491.7,199.1 491.7,180.3 491.8,195.5 491.9,192.9 491.9,182.1 492.0,186.8 492.0,189.6 492.1,180.8 492.2,182.7 492.2,183.8 492.3,184.3 492.3,181.3 492.4,184.3 492.5,196.9 492.5,186.7 492.6,191.9 492.7,179.0 492.7,185.9 492.8,190.9 492.8,194.0 492.9,198.0 493.0,190.3 493.0,196.5 493.1,177.2 493.2,186.8 493.2,192.9 493.3,188.4 493.3,173.9 493.4,162.1 493.5,177.0 493.5,181.9 493.6,187.9 493.6,199.9 493.7,192.0 493.8,190.6 493.8,194.2 493.9,186.1 494.0,187.2 494.0,182.0 494.1,183.2 494.1,188.7 494.2,176.9 494.3,188.2 494.3,184.1 494.4,178.5 494.4,171.4 494.5,178.0 494.6,196.7 494.6,182.1 494.7,184.6 494.8,177.9 494.8,189.1 494.9,185.1 494.9,175.1 495.0,186.1 495.1,197.3 495.1,172.5 495.2,200.4 495.2,185.5 495.3,199.1 495.4,179.6 495.4,191.3 495.5,189.1 495.6,185.3 495.6,190.4 495.7,182.0 495.7,184.9 495.8,185.8 495.9,181.0 495.9,188.3 496.0,173.6 496.0,189.4 496.1,197.7 496.2,182.1 496.2,181.7 496.3,202.4 496.4,192.5 496.4,189.2 496.5,187.0 496.5,198.3 496.6,182.7 496.7,189.7 496.7,186.1 496.8,176.7 496.9,192.5 496.9,185.5 497.0,183.5 497.0,179.7 497.1,192.6 497.2,190.5 497.2,190.8 497.3,193.4 497.3,200.4 497.4,180.9 497.5,191.3 497.5,188.7 497.6,192.6 497.7,177.8 497.7,185.4 497.8,194.9 497.8,177.2 497.9,183.9 498.0,172.9 498.0,180.4 498.1,182.7 498.1,190.5 498.2,188.0 498.3,177.6 498.3,189.6 498.4,182.4 498.5,185.8 498.5,181.9 498.6,184.6 498.6,190.9 498.7,191.3 498.8,180.8 498.8,186.1 498.9,189.4 498.9,182.7 499.0,192.7 499.1,189.9 499.1,184.7 499.2,174.1 499.3,175.8 499.3,181.8 499.4,183.6 499.4,190.7 499.5,184.5 499.6,181.0 499.6,172.2 499.7,190.2 499.7,186.0 499.8,191.3 499.9,192.5 499.9,191.6 500.0,186.6 500.1,198.2 500.1,191.4 500.2,176.4 500.2,189.9 500.3,178.6 500.4,191.6 500.4,184.9 500.5,187.0 500.5,193.8 500.6,188.8 500.7,189.6 500.7,182.7 500.8,179.9 500.9,182.3 500.9,197.0 501.0,199.1 501.0,194.9 501.1,209.6 501.2,181.7 501.2,181.9 501.3,193.2 501.4,188.3 501.4,182.5 501.5,183.4 501.5,189.6 501.6,187.4 501.7,186.4 501.7,183.8 501.8,189.5 501.8,182.3 501.9,177.8 502.0,190.7 502.0,182.0 502.1,179.7 502.2,188.0 502.2,189.3 502.3,177.1 502.3,167.6 502.4,214.0 502.5,188.2 502.5,186.4 502.6,189.7 502.6,184.0 502.7,186.0 502.8,186.1 502.8,183.8 502.9,186.0 503.0,185.5 503.0,186.1 503.1,190.4 503.1,191.3 503.2,181.5 503.3,174.1 503.3,191.1 503.4,187.1 503.4,189.1 503.5,182.5 503.6,188.9 503.6,190.4 503.7,196.3 503.8,175.2 503.8,183.5 503.9,185.1 503.9,190.6 504.0,179.8 504.1,181.5 504.1,183.0 504.2,185.9 504.2,172.5 504.3,192.0 504.4,174.8 504.4,189.4 504.5,183.4 504.6,183.2 504.6,173.2 504.7,188.7 504.7,167.3 504.8,178.5 504.9,185.6 504.9,184.7 505.0,186.8 505.1,177.4 505.1,206.7 505.2,197.9 505.2,184.8 505.3,182.7 505.4,177.1 505.4,189.8 505.5,181.9 505.5,178.5 505.6,186.3 505.7,187.1 505.7,192.3 505.8,178.6 505.9,196.5 505.9,197.8 506.0,191.9 506.0,194.0 506.1,192.0 506.2,202.6 506.2,183.1 506.3,182.5 506.3,202.4 506.4,177.1 506.5,188.0 506.5,185.6 506.6,186.8 506.7,193.1 506.7,169.4 506.8,202.3 506.8,185.2 506.9,193.8 507.0,191.0 507.0,187.3 507.1,196.9 507.1,191.3 507.2,188.0 507.3,194.3 507.3,196.4 507.4,184.0 507.5,198.7 507.5,183.1 507.6,177.4 507.6,188.3 507.7,183.0 507.8,182.6 507.8,183.2 507.9,191.0 507.9,178.7 508.0,195.3 508.1,198.3 508.1,185.0 508.2,190.1 508.3,166.3 508.3,177.8 508.4,183.2 508.4,189.1 508.5,183.5 508.6,183.3 508.6,183.1 508.7,184.4 508.7,181.6 508.8,178.4 508.9,180.0 508.9,189.7 509.0,181.4 509.1,185.2 509.1,184.3 509.2,180.6 509.2,203.8 509.3,194.0 509.4,185.1 509.4,177.9 509.5,179.2 509.6,192.3 509.6,192.6 509.7,169.5 509.7,184.0 509.8,181.8 509.9,183.5 509.9,189.8 510.0,192.2 510.0,192.8 510.1,185.3 510.2,192.4 510.2,170.4 510.3,213.4 510.4,187.8 510.4,179.0 510.5,185.1 510.5,185.7 510.6,184.6 510.7,175.3 510.7,192.0 510.8,188.9 510.8,188.0 510.9,186.0 511.0,175.3 511.0,192.8 511.1,169.3 511.2,180.9 511.2,180.4 511.3,183.2 511.3,184.1 511.4,181.9 511.5,200.5 511.5,194.9 511.6,178.4 511.6,183.6 511.7,187.7 511.8,181.1 511.8,189.1 511.9,182.7 512.0,178.6 512.0,197.4 512.1,190.7 512.1,191.6 512.2,192.7 512.3,196.6 512.3,191.8 512.4,189.5 512.4,191.4 512.5,187.9 512.6,184.5 512.6,192.4 512.7,190.9 512.8,180.5 512.8,176.7 512.9,192.9 512.9,180.5 513.0,190.5 513.1,198.3 513.1,188.8 513.2,179.2 513.3,185.5 513.3,174.0 513.4,193.4 513.4,192.8 513.5,199.0 513.6,199.8 513.6,185.8 513.7,171.5 513.7,186.4 513.8,187.2 513.9,180.5 513.9,193.1 514.0,193.1 514.1,193.0 514.1,186.5 514.2,183.3 514.2,186.6 514.3,188.7 514.4,181.3 514.4,191.6 514.5,187.3 514.5,184.6 514.6,183.7 514.7,181.8 514.7,178.9 514.8,187.3 514.9,193.6 514.9,188.4 515.0,184.1 515.0,175.0 515.1,192.6 515.2,172.1 515.2,186.6 515.3,181.8 515.3,183.7 515.4,190.2 515.5,188.0 515.5,177.5 515.6,178.9 515.7,188.7 515.7,186.1 515.8,191.8 515.8,186.1 515.9,179.8 516.0,189.8 516.0,182.7 516.1,191.2 516.1,187.8 516.2,179.3 516.3,171.5 516.3,186.9 516.4,187.1 516.5,183.5 516.5,192.8 516.6,193.7 516.6,191.8 516.7,184.3 516.8,187.4 516.8,178.8 516.9,189.4 516.9,182.7 517.0,185.2 517.1,183.9 517.1,184.1 517.2,199.0 517.3,197.3 517.3,180.9 517.4,191.4 517.4,182.0 517.5,191.2 517.6,184.2 517.6,182.1 517.7,187.2 517.8,187.9 517.8,180.4 517.9,183.0 517.9,177.9 518.0,169.0 518.1,192.5 518.1,180.1 518.2,188.9 518.2,175.2 518.3,192.2 518.4,188.9 518.4,187.4 518.5,202.0 518.6,186.7 518.6,198.8 518.7,175.0 518.7,186.5 518.8,183.1 518.9,174.4 518.9,173.7 519.0,178.1 519.0,189.7 519.1,177.2 519.2,182.0 519.2,185.7 519.3,187.0 519.4,166.9 519.4,183.7 519.5,174.7 519.5,183.1 519.6,184.9 519.7,194.7 519.7,189.5 519.8,176.0 519.8,190.0 519.9,179.0 520.0,209.4 520.0,182.7 520.1,194.8 520.2,196.2 520.2,179.0 520.3,178.5 520.3,205.7 520.4,188.3 520.5,186.6 520.5,175.0 520.6,183.8 520.6,192.5 520.7,167.4 520.8,173.2 520.8,198.1 520.9,180.3 521.0,182.7 521.0,193.3 521.1,175.4 521.1,174.9 521.2,193.1 521.3,178.0 521.3,184.2 521.4,186.0 521.5,180.5 521.5,180.0 521.6,178.3 521.6,180.0 521.7,191.3 521.8,187.7 521.8,172.4 521.9,192.8 521.9,192.0 522.0,181.4 522.1,189.7 522.1,195.1 522.2,192.9 522.3,194.8 522.3,185.4 522.4,200.5 522.4,195.5 522.5,187.9 522.6,187.4 522.6,178.2 522.7,188.3 522.7,198.3 522.8,166.5 522.9,180.8 522.9,190.1 523.0,188.8 523.1,195.0 523.1,190.0 523.2,211.7 523.2,185.1 523.3,177.5 523.4,187.6 523.4,184.6 523.5,184.2 523.5,181.4 523.6,190.2 523.7,185.1 523.7,178.3 523.8,189.9 523.9,182.5 523.9,177.1 524.0,193.4 524.0,175.5 524.1,184.6 524.2,151.2 524.2,186.5 524.3,187.7 524.3,193.4 524.4,180.2 524.5,192.9 524.5,176.4 524.6,188.3 524.7,176.4 524.7,171.0 524.8,180.6 524.8,190.3 524.9,196.0 525.0,184.4 525.0,180.4 525.1,181.5 525.1,173.3 525.2,181.1 525.3,184.6 525.3,189.4 525.4,184.1 525.5,179.2 525.5,176.8 525.6,176.6 525.6,187.1 525.7,183.4 525.8,179.5 525.8,183.2 525.9,191.0 526.0,187.0 526.0,185.2 526.1,183.0 526.1,175.7 526.2,193.6 526.3,182.5 526.3,181.7 526.4,179.8 526.4,176.0 526.5,180.2 526.6,185.5 526.6,189.7 526.7,192.1 526.8,189.0 526.8,174.7 526.9,191.2 526.9,187.2 527.0,184.1 527.1,178.4 527.1,187.4 527.2,183.8 527.2,196.8 527.3,190.6 527.4,201.2 527.4,186.7 527.5,181.7 527.6,190.7 527.6,189.7 527.7,185.4 527.7,180.7 527.8,181.7 527.9,180.3 527.9,187.9 528.0,190.9 528.0,195.7 528.1,182.5 528.2,177.5 528.2,176.0 528.3,184.9 528.4,183.7 528.4,185.0 528.5,172.2 528.5,179.6 528.6,172.6 528.7,188.7 528.7,187.6 528.8,187.2 528.8,183.6 528.9,193.5 529.0,183.6 529.0,185.7 529.1,179.4 529.2,184.0 529.2,186.7 529.3,183.6 529.3,182.1 529.4,180.5 529.5,186.0 529.5,183.1 529.6,172.4 529.7,188.5 529.7,181.6 529.8,180.0 529.8,184.1 529.9,180.3 530.0,191.0 530.0,177.3 530.1,181.0 530.1,194.6 530.2,193.2 530.3,201.7 530.3,194.1 530.4,187.5 530.5,182.6 530.5,183.5 530.6,200.2 530.6,186.8 530.7,193.4 530.8,187.1 530.8,191.4 530.9,183.9 530.9,194.8 531.0,180.7 531.1,181.1 531.1,186.7 531.2,188.3 531.3,200.1 531.3,176.7 531.4,197.8 531.4,189.6 531.5,189.2 531.6,192.1 531.6,187.8 531.7,183.8 531.7,188.0 531.8,199.8 531.9,176.8 531.9,180.2 532.0,179.2 532.1,185.1 532.1,184.7 532.2,186.2 532.2,189.6 532.3,204.9 532.4,213.5 532.4,186.4 532.5,190.1 532.5,189.9 532.6,210.9 532.7,198.7 532.7,180.7 532.8,190.2 532.9,178.9 532.9,194.3 533.0,176.0 533.0,179.9 533.1,174.9 533.2,185.3 533.2,180.1 533.3,189.8 533.3,169.7 533.4,192.9 533.5,188.1 533.5,193.7 533.6,185.5 533.7,175.1 533.7,186.0 533.8,194.9 533.8,190.7 533.9,199.3 534.0,184.3 534.0,176.4 534.1,175.0 534.2,182.6 534.2,183.8 534.3,188.9 534.3,190.0 534.4,180.6 534.5,189.2 534.5,192.1 534.6,189.5 534.6,191.6 534.7,182.7 534.8,189.4 534.8,183.7 534.9,188.5 535.0,189.9 535.0,179.5 535.1,176.7 535.1,193.2 535.2,195.1 535.3,195.4 535.3,183.2 535.4,189.7 535.4,181.8 535.5,192.9 535.6,187.1 535.6,196.0 535.7,191.5 535.8,188.3 535.8,189.6 535.9,185.2 535.9,181.8 536.0,186.3 536.1,186.1 536.1,196.5 536.2,183.0 536.2,181.8 536.3,184.4 536.4,195.1 536.4,177.6 536.5,183.2 536.6,177.6 536.6,187.7 536.7,200.8 536.7,176.7 536.8,189.0 536.9,194.6 536.9,194.9 537.0,182.1 537.0,182.6 537.1,193.5 537.2,188.3 537.2,180.9 537.3,191.3 537.4,193.8 537.4,179.5 537.5,184.2 537.5,193.6 537.6,182.9 537.7,192.9 537.7,177.3 537.8,181.3 537.9,186.9 537.9,192.8 538.0,186.9 538.0,194.9 538.1,184.7 538.2,199.5 538.2,202.7 538.3,192.1 538.3,179.2 538.4,186.6 538.5,185.6 538.5,186.9 538.6,187.5 538.7,200.5 538.7,219.6 538.8,190.2 538.8,192.8 538.9,193.7 539.0,186.4 539.0,184.1 539.1,179.5 539.1,177.5 539.2,183.4 539.3,189.6 539.3,183.0 539.4,186.4 539.5,185.3 539.5,184.0 539.6,181.8 539.6,191.1 539.7,180.5" fill="none" stroke="#000000" stroke-width="0.45" stroke-linejoin="bevel"/>
<polyline points="354.8,288.5 354.9,313.6 354.9,312.1 355.0,301.3 355.0,305.9 355.1,305.4 355.2,299.0 355.2,295.9 355.3,311.9 355.4,305.5 355.4,300.1 355.5,292.1 355.5,301.5 355.6,302.2 355.7,306.8 355.7,311.0 355.8,301.5 355.8,295.4 355.9,303.1 356.0,301.5 356.0,294.0 356.1,304.5 356.2,299.4 356.2,301.8 356.3,299.4 356.3,302.1 356.4,302.7 356.5,292.8 356.5,309.5 356.6,299.1 356.6,279.0 356.7,296.1 356.8,305.6 356.8,306.6 356.9,293.8 357.0,301.1 357.0,282.6 357.1,299.9 357.1,283.1 357.2,286.2 357.3,299.1 357.3,299.4 357.4,292.1 357.5,299.0 357.5,305.5 357.6,294.8 357.6,299.1 357.7,290.3 357.8,287.0 357.8,305.8 357.9,295.5 357.9,290.5 358.0,283.6 358.1,297.9 358.1,299.5 358.2,302.6 358.3,292.5 358.3,299.4 358.4,294.4 358.4,288.0 358.5,293.1 358.6,289.7 358.6,287.8 358.7,289.3 358.7,298.5 358.8,293.3 358.9,288.3 358.9,291.9 359.0,291.9 359.1,292.0 359.1,293.8 359.2,288.0 359.2,301.2 359.3,285.4 359.4,288.6 359.4,276.3 359.5,289.7 359.5,288.8 359.6,293.3 359.7,274.9 359.7,293.3 359.8,281.5 359.9,306.7 359.9,288.3 360.0,299.0 360.0,309.7 360.1,284.3 360.2,303.8 360.2,291.5 360.3,277.4 360.3,292.5 360.4,292.2 360.5,301.6 360.5,278.9 360.6,254.4 360.7,289.7 360.7,287.0 360.8,284.0 360.8,289.9 360.9,301.1 361.0,289.5 361.0,295.5 361.1,285.3 361.2,281.5 361.2,286.9 361.3,301.3 361.3,298.3 361.4,294.7 361.5,287.8 361.5,292.1 361.6,293.7 361.6,280.3 361.7,288.0 361.8,301.9 361.8,273.7 361.9,291.2 362.0,286.7 362.0,285.7 362.1,295.8 362.1,284.5 362.2,298.9 362.3,289.4 362.3,296.5 362.4,284.2 362.4,303.7 362.5,289.3 362.6,286.1 362.6,284.8 362.7,276.7 362.8,295.6 362.8,284.5 362.9,297.0 362.9,304.0 363.0,279.0 363.1,291.0 363.1,280.6 363.2,289.8 363.2,292.0 363.3,281.3 363.4,295.6 363.4,288.0 363.5,299.4 363.6,289.2 363.6,290.4 363.7,289.3 363.7,307.0 363.8,283.3 363.9,274.1 363.9,295.2 364.0,289.7 364.0,299.4 364.1,296.6 364.2,298.8 364.2,290.7 364.3,294.7 364.4,296.3 364.4,306.0 364.5,280.5 364.5,301.1 364.6,282.0 364.7,291.7 364.7,296.3 364.8,283.1 364.8,285.9 364.9,298.7 365.0,298.5 365.0,280.1 365.1,288.8 365.2,293.9 365.2,298.3 365.3,291.8 365.3,295.0 365.4,292.0 365.5,294.2 365.5,305.7 365.6,293.3 365.7,292.2 365.7,271.4 365.8,282.5 365.8,280.2 365.9,288.6 366.0,286.8 366.0,284.1 366.1,293.0 366.1,279.0 366.2,290.0 366.3,287.7 366.3,278.9 366.4,283.0 366.5,285.5 366.5,293.6 366.6,294.4 366.6,270.4 366.7,289.0 366.8,280.4 366.8,294.5 366.9,296.3 366.9,294.1 367.0,292.0 367.1,292.9 367.1,277.6 367.2,291.5 367.3,290.6 367.3,287.6 367.4,284.0 367.4,281.0 367.5,283.4 367.6,284.8 367.6,257.3 367.7,287.8 367.7,289.9 367.8,298.6 367.9,308.1 367.9,294.6 368.0,289.1 368.1,288.9 368.1,299.4 368.2,295.3 368.2,278.9 368.3,293.6 368.4,285.7 368.4,288.8 368.5,286.4 368.5,290.9 368.6,282.2 368.7,289.1 368.7,279.2 368.8,300.7 368.9,293.7 368.9,286.1 369.0,287.8 369.0,281.2 369.1,292.8 369.2,291.9 369.2,283.5 369.3,287.3 369.4,290.0 369.4,283.7 369.5,290.2 369.5,291.6 369.6,303.6 369.7,290.6 369.7,284.3 369.8,296.4 369.8,290.7 369.9,285.9 370.0,293.8 370.0,285.0 370.1,297.4 370.2,293.2 370.2,286.5 370.3,288.5 370.3,301.2 370.4,286.5 370.5,285.8 370.5,292.6 370.6,289.4 370.6,287.1 370.7,292.3 370.8,265.0 370.8,289.7 370.9,305.2 371.0,296.3 371.0,283.2 371.1,288.4 371.1,292.7 371.2,286.1 371.3,290.9 371.3,290.6 371.4,267.2 371.4,292.1 371.5,287.7 371.6,286.6 371.6,285.5 371.7,262.0 371.8,286.3 371.8,293.2 371.9,295.5 371.9,288.2 372.0,286.0 372.1,284.7 372.1,295.1 372.2,300.1 372.2,287.9 372.3,271.0 372.4,288.5 372.4,296.6 372.5,278.6 372.6,281.8 372.6,277.2 372.7,288.0 372.7,301.0 372.8,293.0 372.9,276.5 372.9,278.2 373.0,289.7 373.0,284.4 373.1,275.5 373.2,288.0 373.2,275.9 373.3,288.8 373.4,289.4 373.4,287.7 373.5,279.1 373.5,280.5 373.6,284.5 373.7,281.8 373.7,292.0 373.8,292.7 373.9,286.7 373.9,291.0 374.0,294.8 374.0,274.2 374.1,282.8 374.2,297.2 374.2,284.1 374.3,281.8 374.3,285.4 374.4,288.1 374.5,275.8 374.5,285.3 374.6,291.1 374.7,282.3 374.7,281.8 374.8,290.7 374.8,275.3 374.9,270.0 375.0,283.6 375.0,288.9 375.1,282.6 375.1,267.9 375.2,279.7 375.3,288.7 375.3,304.2 375.4,283.6 375.5,313.6 375.5,277.8 375.6,280.6 375.6,284.6 375.7,288.9 375.8,282.1 375.8,288.0 375.9,282.1 375.9,289.5 376.0,290.4 376.1,285.7 376.1,285.1 376.2,282.1 376.3,275.4 376.3,318.5 376.4,278.1 376.4,292.4 376.5,296.3 376.6,283.9 376.6,283.4 376.7,275.1 376.7,284.9 376.8,276.5 376.9,283.5 376.9,296.0 377.0,290.8 377.1,274.9 377.1,285.5 377.2,280.9 377.2,274.8 377.3,296.9 377.4,262.2 377.4,286.1 377.5,294.6 377.6,293.0 377.6,275.4 377.7,281.5 377.7,281.2 377.8,282.5 377.9,288.7 377.9,287.0 378.0,294.1 378.0,279.2 378.1,285.6 378.2,298.3 378.2,286.1 378.3,271.4 378.4,283.6 378.4,284.1 378.5,283.0 378.5,276.8 378.6,287.2 378.7,283.0 378.7,273.5 378.8,285.4 378.8,281.7 378.9,279.0 379.0,274.8 379.0,275.6 379.1,282.3 379.2,278.5 379.2,288.5 379.3,281.3 379.3,286.4 379.4,276.8 379.5,278.6 379.5,281.8 379.6,285.9 379.6,286.9 379.7,282.1 379.8,282.7 379.8,284.7 379.9,290.6 380.0,287.5 380.0,270.8 380.1,286.5 380.1,280.6 380.2,281.6 380.3,276.3 380.3,285.8 380.4,288.5 380.4,288.3 380.5,277.2 380.6,271.5 380.6,289.1 380.7,278.4 380.8,270.5 380.8,287.0 380.9,256.3 380.9,287.3 381.0,277.9 381.1,292.7 381.1,281.4 381.2,277.3 381.2,281.6 381.3,275.7 381.4,277.2 381.4,283.4 381.5,281.1 381.6,273.3 381.6,278.2 381.7,291.9 381.7,272.5 381.8,284.2 381.9,296.3 381.9,271.5 382.0,285.4 382.1,280.9 382.1,274.6 382.2,290.1 382.2,284.8 382.3,280.3 382.4,275.7 382.4,286.5 382.5,284.1 382.5,278.7 382.6,275.0 382.7,278.6 382.7,277.3 382.8,276.7 382.9,288.0 382.9,279.6 383.0,297.2 383.0,287.6 383.1,286.4 383.2,283.5 383.2,279.8 383.3,279.9 383.3,292.7 383.4,287.2 383.5,278.1 383.5,284.7 383.6,277.1 383.7,280.2 383.7,268.9 383.8,274.4 383.8,273.6 383.9,282.2 384.0,293.7 384.0,280.0 384.1,282.3 384.1,278.3 384.2,276.7 384.3,281.8 384.3,272.6 384.4,286.5 384.5,289.2 384.5,282.2 384.6,280.0 384.6,276.6 384.7,298.9 384.8,278.6 384.8,276.2 384.9,273.6 384.9,275.3 385.0,278.6 385.1,277.7 385.1,287.7 385.2,277.1 385.3,274.8 385.3,286.1 385.4,275.1 385.4,301.1 385.5,271.7 385.6,278.9 385.6,274.7 385.7,281.6 385.8,295.5 385.8,276.8 385.9,269.8 385.9,281.5 386.0,280.0 386.1,283.6 386.1,274.4 386.2,272.0 386.2,274.7 386.3,276.0 386.4,278.9 386.4,287.9 386.5,282.2 386.6,277.1 386.6,270.5 386.7,288.4 386.7,283.6 386.8,288.1 386.9,262.2 386.9,294.3 387.0,273.4 387.0,272.6 387.1,275.0 387.2,276.1 387.2,287.9 387.3,265.1 387.4,283.1 387.4,287.5 387.5,286.4 387.5,283.5 387.6,285.3 387.7,276.9 387.7,274.8 387.8,271.6 387.8,268.1 387.9,290.7 388.0,278.8 388.0,281.4 388.1,288.6 388.2,287.9 388.2,282.8 388.3,274.1 388.3,268.1 388.4,284.7 388.5,268.7 388.5,277.3 388.6,278.2 388.6,274.4 388.7,279.7 388.8,284.7 388.8,288.1 388.9,273.8 389.0,270.5 389.0,277.6 389.1,272.3 389.1,272.7 389.2,280.4 389.3,285.7 389.3,280.6 389.4,280.5 389.4,285.9 389.5,282.8 389.6,271.6 389.6,275.1 389.7,276.1 389.8,287.7 389.8,270.4 389.9,276.2 389.9,261.4 390.0,275.3 390.1,272.8 390.1,272.2 390.2,282.4 390.3,273.1 390.3,294.2 390.4,279.4 390.4,274.8 390.5,271.7 390.6,289.1 390.6,279.6 390.7,289.5 390.7,293.8 390.8,278.6 390.9,283.2 390.9,287.2 391.0,278.8 391.1,268.5 391.1,285.0 391.2,275.3 391.2,271.4 391.3,274.8 391.4,287.4 391.4,272.4 391.5,271.8 391.5,271.9 391.6,286.2 391.7,283.1 391.7,288.9 391.8,284.9 391.9,282.2 391.9,288.2 392.0,285.7 392.0,280.8 392.1,283.7 392.2,291.5 392.2,283.4 392.3,268.5 392.3,265.6 392.4,273.0 392.5,292.3 392.5,282.2 392.6,288.7 392.7,278.5 392.7,278.0 392.8,275.8 392.8,277.8 392.9,278.1 393.0,277.6 393.0,271.3 393.1,261.5 393.1,286.4 393.2,279.2 393.3,280.9 393.3,274.4 393.4,278.0 393.5,281.1 393.5,275.7 393.6,266.9 393.6,281.3 393.7,281.6 393.8,269.8 393.8,271.6 393.9,285.4 394.0,272.0 394.0,265.9 394.1,271.9 394.1,278.7 394.2,275.0 394.3,286.1 394.3,270.4 394.4,273.4 394.4,276.8 394.5,277.0 394.6,271.1 394.6,275.1 394.7,272.3 394.8,275.9 394.8,269.9 394.9,284.0 394.9,275.9 395.0,275.1 395.1,260.8 395.1,272.9 395.2,279.7 395.2,283.0 395.3,270.0 395.4,288.8 395.4,291.7 395.5,272.9 395.6,284.8 395.6,271.8 395.7,280.3 395.7,280.3 395.8,289.4 395.9,280.2 395.9,276.5 396.0,279.5 396.0,282.5 396.1,275.4 396.2,282.8 396.2,270.5 396.3,280.1 396.4,284.6 396.4,274.8 396.5,282.4 396.5,262.4 396.6,272.0 396.7,291.6 396.7,272.2 396.8,265.5 396.8,283.6 396.9,273.2 397.0,274.0 397.0,275.0 397.1,284.2 397.2,273.6 397.2,266.9 397.3,285.9 397.3,286.0 397.4,282.3 397.5,277.3 397.5,270.9 397.6,300.2 397.6,264.9 397.7,285.8 397.8,284.7 397.8,282.7 397.9,281.5 398.0,284.4 398.0,279.1 398.1,289.7 398.1,283.2 398.2,279.3 398.3,279.5 398.3,279.1 398.4,287.9 398.5,266.6 398.5,275.9 398.6,287.4 398.6,273.8 398.7,280.8 398.8,278.5 398.8,260.2 398.9,280.6 398.9,284.2 399.0,277.5 399.1,284.7 399.1,281.9 399.2,282.7 399.3,268.5 399.3,282.2 399.4,280.8 399.4,283.2 399.5,282.7 399.6,273.1 399.6,272.1 399.7,264.1 399.7,280.4 399.8,273.9 399.9,287.1 399.9,284.5 400.0,271.1 400.1,282.2 400.1,274.9 400.2,266.0 400.2,281.8 400.3,270.3 400.4,275.7 400.4,282.4 400.5,282.1 400.5,295.3 400.6,281.8 400.7,277.5 400.7,273.1 400.8,264.8 400.9,274.9 400.9,277.5 401.0,289.8 401.0,275.8 401.1,267.9 401.2,279.4 401.2,278.2 401.3,285.3 401.3,278.4 401.4,272.5 401.5,258.9 401.5,275.3 401.6,276.2 401.7,278.7 401.7,285.9 401.8,275.7 401.8,269.2 401.9,260.4 402.0,282.0 402.0,269.2 402.1,274.7 402.2,271.3 402.2,277.8 402.3,275.1 402.3,272.5 402.4,272.0 402.5,281.7 402.5,269.4 402.6,274.1 402.6,284.7 402.7,270.0 402.8,302.2 402.8,272.1 402.9,285.9 403.0,289.0 403.0,276.7 403.1,279.6 403.1,286.4 403.2,281.1 403.3,293.8 403.3,288.2 403.4,276.2 403.4,284.8 403.5,278.4 403.6,300.4 403.6,268.4 403.7,288.2 403.8,302.7 403.8,297.2 403.9,277.8 403.9,264.1 404.0,271.9 404.1,277.3 404.1,286.5 404.2,279.8 404.2,273.6 404.3,279.5 404.4,286.3 404.4,274.8 404.5,277.9 404.6,279.0 404.6,280.5 404.7,288.2 404.7,284.9 404.8,267.3 404.9,280.6 404.9,276.6 405.0,271.6 405.0,278.7 405.1,277.8 405.2,275.6 405.2,280.5 405.3,275.2 405.4,278.9 405.4,278.3 405.5,277.6 405.5,276.7 405.6,274.8 405.7,284.9 405.7,280.9 405.8,281.0 405.8,282.2 405.9,272.9 406.0,286.0 406.0,257.3 406.1,274.7 406.2,266.2 406.2,273.2 406.3,278.9 406.3,277.1 406.4,300.4 406.5,278.1 406.5,281.8 406.6,275.5 406.7,270.1 406.7,281.4 406.8,285.3 406.8,269.1 406.9,264.4 407.0,265.5 407.0,274.4 407.1,278.1 407.1,280.6 407.2,262.1 407.3,266.4 407.3,277.1 407.4,278.9 407.5,273.6 407.5,272.5 407.6,279.2 407.6,272.0 407.7,265.6 407.8,284.9 407.8,282.0 407.9,274.1 407.9,275.5 408.0,271.1 408.1,286.4 408.1,279.3 408.2,282.5 408.3,274.8 408.3,263.8 408.4,302.9 408.4,278.8 408.5,282.8 408.6,292.8 408.6,288.3 408.7,279.7 408.7,267.0 408.8,279.9 408.9,270.2 408.9,274.9 409.0,289.2 409.1,278.1 409.1,274.5 409.2,275.0 409.2,279.3 409.3,285.0 409.4,284.4 409.4,267.5 409.5,279.5 409.5,278.2 409.6,280.7 409.7,280.7 409.7,280.1 409.8,282.6 409.9,277.7 409.9,283.7 410.0,288.4 410.0,272.2 410.1,269.0 410.2,274.2 410.2,276.1 410.3,274.5 410.4,270.7 410.4,269.1 410.5,280.6 410.5,281.9 410.6,266.0 410.7,274.9 410.7,267.2 410.8,271.5 410.8,277.9 410.9,273.3 411.0,275.3 411.0,267.3 411.1,274.4 411.2,265.4 411.2,275.6 411.3,275.3 411.3,270.1 411.4,274.3 411.5,277.1 411.5,278.3 411.6,288.5 411.6,285.6 411.7,273.1 411.8,287.1 411.8,276.8 411.9,291.3 412.0,278.1 412.0,272.6 412.1,279.3 412.1,276.2 412.2,284.8 412.3,274.1 412.3,273.5 412.4,261.5 412.4,272.9 412.5,271.7 412.6,271.8 412.6,282.7 412.7,280.9 412.8,276.1 412.8,274.8 412.9,270.8 412.9,269.4 413.0,279.2 413.1,279.2 413.1,269.1 413.2,275.4 413.2,273.8 413.3,275.5 413.4,285.9 413.4,271.2 413.5,284.2 413.6,282.2 413.6,276.2 413.7,286.8 413.7,278.6 413.8,274.5 413.9,264.8 413.9,267.7 414.0,269.7 414.0,273.6 414.1,275.5 414.2,284.5 414.2,276.6 414.3,297.5 414.4,283.9 414.4,283.3 414.5,276.1 414.5,277.2 414.6,285.6 414.7,273.9 414.7,277.4 414.8,266.4 414.9,280.6 414.9,282.2 415.0,274.1 415.0,285.7 415.1,287.1 415.2,283.4 415.2,270.0 415.3,283.6 415.3,278.8 415.4,282.7 415.5,274.5 415.5,280.5 415.6,281.4 415.7,280.2 415.7,279.6 415.8,277.1 415.8,274.0 415.9,270.1 416.0,263.5 416.0,264.0 416.1,272.0 416.1,273.6 416.2,284.6 416.3,280.3 416.3,271.9 416.4,273.9 416.5,272.3 416.5,267.6 416.6,300.0 416.6,272.0 416.7,281.5 416.8,274.9 416.8,263.1 416.9,275.4 416.9,266.6 417.0,275.3 417.1,281.8 417.1,270.2 417.2,283.1 417.3,272.1 417.3,273.2 417.4,275.8 417.4,283.7 417.5,270.9 417.6,279.2 417.6,270.3 417.7,281.4 417.7,290.2 417.8,265.4 417.9,274.8 417.9,272.4 418.0,273.1 418.1,265.8 418.1,276.7 418.2,266.2 418.2,272.7 418.3,278.9 418.4,274.4 418.4,268.6 418.5,288.1 418.6,277.7 418.6,275.0 418.7,276.6 418.7,276.8 418.8,275.7 418.9,280.1 418.9,271.3 419.0,292.6 419.0,277.4 419.1,283.9 419.2,273.2 419.2,287.8 419.3,280.4 419.4,277.8 419.4,287.4 419.5,278.0 419.5,282.4 419.6,275.5 419.7,295.1 419.7,277.6 419.8,274.7 419.8,279.4 419.9,284.2 420.0,272.5 420.0,283.9 420.1,275.1 420.2,273.6 420.2,271.8 420.3,286.1 420.3,269.5 420.4,272.8 420.5,273.1 420.5,276.5 420.6,278.9 420.6,273.2 420.7,273.1 420.8,249.6 420.8,291.2 420.9,282.0 421.0,283.9 421.0,280.6 421.1,267.7 421.1,283.2 421.2,287.1 421.3,268.3 421.3,284.6 421.4,273.3 421.4,274.7 421.5,270.0 421.6,272.3 421.6,278.3 421.7,281.4 421.8,281.3 421.8,282.0 421.9,276.1 421.9,281.6 422.0,282.6 422.1,284.8 422.1,281.7 422.2,288.3 422.2,278.8 422.3,252.2 422.4,283.1 422.4,281.7 422.5,284.5 422.6,272.1 422.6,284.8 422.7,283.6 422.7,272.8 422.8,271.6 422.9,285.0 422.9,292.7 423.0,283.8 423.1,274.3 423.1,281.7 423.2,273.6 423.2,275.8 423.3,281.3 423.4,277.8 423.4,286.7 423.5,269.4 423.5,280.3 423.6,286.1 423.7,281.2 423.7,285.9 423.8,277.5 423.9,284.3 423.9,272.9 424.0,280.1 424.0,278.7 424.1,284.0 424.2,276.4 424.2,280.9 424.3,259.8 424.3,277.5 424.4,284.1 424.5,287.9 424.5,283.0 424.6,280.5 424.7,292.2 424.7,280.3 424.8,279.0 424.8,283.4 424.9,279.2 425.0,273.9 425.0,270.0 425.1,273.9 425.1,282.3 425.2,284.3 425.3,283.5 425.3,277.1 425.4,277.6 425.5,286.0 425.5,276.3 425.6,277.8 425.6,297.5 425.7,281.5 425.8,277.4 425.8,276.7 425.9,294.8 425.9,280.9 426.0,282.1 426.1,282.2 426.1,257.7 426.2,275.8 426.3,282.6 426.3,280.8 426.4,283.8 426.4,275.9 426.5,276.1 426.6,284.2 426.6,292.0 426.7,275.7 426.8,281.0 426.8,276.1 426.9,262.9 426.9,281.3 427.0,280.3 427.1,266.4 427.1,277.9 427.2,277.4 427.2,272.2 427.3,276.3 427.4,301.3 427.4,267.5 427.5,272.7 427.6,292.7 427.6,282.9 427.7,286.6 427.7,282.0 427.8,282.1 427.9,278.2 427.9,289.2 428.0,269.8 428.0,285.2 428.1,256.4 428.2,267.7 428.2,280.7 428.3,292.1 428.4,285.5 428.4,282.1 428.5,293.1 428.5,281.8 428.6,277.7 428.7,286.4 428.7,273.7 428.8,296.2 428.8,284.6 428.9,280.4 429.0,274.5 429.0,287.3 429.1,302.5 429.2,277.7 429.2,282.8 429.3,282.9 429.3,276.2 429.4,294.7 429.5,284.1 429.5,274.6 429.6,287.3 429.6,276.8 429.7,284.5 429.8,283.6 429.8,276.8 429.9,273.9 430.0,284.1 430.0,271.0 430.1,282.8 430.1,285.2 430.2,283.6 430.3,281.7 430.3,274.5 430.4,281.6 430.4,282.8 430.5,287.4 430.6,284.4 430.6,289.8 430.7,283.2 430.8,285.4 430.8,291.2 430.9,283.5 430.9,291.9 431.0,272.7 431.1,274.9 431.1,295.6 431.2,273.3 431.3,279.0 431.3,279.4 431.4,285.3 431.4,278.5 431.5,278.6 431.6,297.3 431.6,282.0 431.7,285.1 431.7,293.2 431.8,285.6 431.9,281.0 431.9,277.5 432.0,280.5 432.1,286.4 432.1,286.0 432.2,288.9 432.2,289.0 432.3,298.0 432.4,293.0 432.4,285.1 432.5,287.8 432.5,285.4 432.6,284.2 432.7,284.9 432.7,285.3 432.8,280.3 432.9,272.4 432.9,279.7 433.0,287.5 433.0,297.6 433.1,287.4 433.2,283.1 433.2,288.0 433.3,283.1 433.3,285.2 433.4,290.1 433.5,263.7 433.5,277.6 433.6,297.7 433.7,283.3 433.7,279.6 433.8,277.2 433.8,279.7 433.9,277.0 434.0,280.4 434.0,281.2 434.1,297.9 434.1,280.2 434.2,287.4 434.3,277.9 434.3,301.2 434.4,275.5 434.5,281.9 434.5,283.8 434.6,282.2 434.6,288.2 434.7,287.5 434.8,284.3 434.8,294.5 434.9,280.0 435.0,282.6 435.0,281.9 435.1,283.7 435.1,285.5 435.2,282.9 435.3,280.4 435.3,279.7 435.4,281.3 435.4,277.7 435.5,279.1 435.6,275.7 435.6,256.7 435.7,286.7 435.8,277.1 435.8,293.8 435.9,277.0 435.9,285.2 436.0,275.4 436.1,290.4 436.1,277.7 436.2,264.8 436.2,280.0 436.3,276.4 436.4,300.0 436.4,275.4 436.5,287.5 436.6,267.7 436.6,287.1 436.7,274.3 436.7,280.1 436.8,276.0 436.9,285.8 436.9,272.9 437.0,283.4 437.0,285.5 437.1,286.4 437.2,281.2 437.2,290.9 437.3,290.9 437.4,278.5 437.4,284.9 437.5,288.6 437.5,296.0 437.6,278.3 437.7,287.7 437.7,284.0 437.8,277.4 437.8,283.2 437.9,273.5 438.0,280.6 438.0,295.9 438.1,287.6 438.2,297.7 438.2,288.4 438.3,280.7 438.3,275.8 438.4,270.3 438.5,274.1 438.5,295.1 438.6,278.2 438.6,283.0 438.7,288.8 438.8,274.3 438.8,284.6 438.9,274.7 439.0,281.1 439.0,266.1 439.1,293.1 439.1,283.9 439.2,290.8 439.3,275.8 439.3,284.0 439.4,276.1 439.5,298.8 439.5,279.4 439.6,283.6 439.6,287.1 439.7,278.7 439.8,286.3 439.8,280.4 439.9,282.4 439.9,276.8 440.0,286.7 440.1,290.2 440.1,272.3 440.2,282.8 440.3,279.3 440.3,283.0 440.4,286.7 440.4,280.4 440.5,280.8 440.6,281.8 440.6,280.7 440.7,285.2 440.7,274.4 440.8,280.2 440.9,283.5 440.9,288.8 441.0,292.7 441.1,284.3 441.1,281.8 441.2,274.2 441.2,275.5 441.3,283.5 441.4,280.4 441.4,284.9 441.5,265.9 441.5,277.6 441.6,282.3 441.7,279.8 441.7,279.0 441.8,275.5 441.9,278.9 441.9,277.7 442.0,277.5 442.0,281.7 442.1,285.6 442.2,280.2 442.2,274.6 442.3,290.2 442.3,276.6 442.4,281.8 442.5,285.3 442.5,281.2 442.6,273.0 442.7,277.7 442.7,272.0 442.8,290.6 442.8,275.7 442.9,291.9 443.0,289.7 443.0,286.2 443.1,281.6 443.2,275.0 443.2,279.1 443.3,280.5 443.3,307.4 443.4,284.0 443.5,274.7 443.5,280.2 443.6,291.6 443.6,284.1 443.7,284.2 443.8,277.8 443.8,273.9 443.9,292.3 444.0,289.7 444.0,272.4 444.1,281.5 444.1,278.1 444.2,290.3 444.3,281.3 444.3,273.9 444.4,292.9 444.4,282.8 444.5,284.5 444.6,286.4 444.6,284.5 444.7,273.9 444.8,268.7 444.8,283.7 444.9,286.6 444.9,283.2 445.0,292.4 445.1,280.0 445.1,272.4 445.2,290.2 445.2,287.6 445.3,282.6 445.4,267.4 445.4,292.4 445.5,278.3 445.6,287.3 445.6,278.2 445.7,293.7 445.7,284.8 445.8,276.5 445.9,269.6 445.9,288.2 446.0,272.7 446.0,282.9 446.1,288.0 446.2,274.4 446.2,287.9 446.3,284.2 446.4,278.8 446.4,281.7 446.5,285.8 446.5,279.6 446.6,287.3 446.7,279.2 446.7,283.1 446.8,285.9 446.8,294.2 446.9,283.4 447.0,285.6 447.0,297.2 447.1,285.3 447.2,270.8 447.2,291.3 447.3,282.4 447.3,288.2 447.4,282.3 447.5,283.8 447.5,289.6 447.6,284.7 447.7,277.2 447.7,289.9 447.8,276.6 447.8,287.6 447.9,286.3 448.0,281.5 448.0,282.0 448.1,273.2 448.1,278.1 448.2,301.7 448.3,268.9 448.3,288.4 448.4,275.9 448.5,276.9 448.5,269.0 448.6,274.4 448.6,280.4 448.7,288.4 448.8,289.2 448.8,290.7 448.9,281.7 448.9,271.6 449.0,288.9 449.1,284.4 449.1,267.1 449.2,294.1 449.3,288.2 449.3,297.7 449.4,282.5 449.4,277.6 449.5,286.5 449.6,279.5 449.6,291.9 449.7,279.5 449.7,279.6 449.8,290.0 449.9,290.3 449.9,284.2 450.0,288.9 450.1,284.5 450.1,277.6 450.2,296.1 450.2,274.7 450.3,281.8 450.4,279.9 450.4,278.2 450.5,276.8 450.5,281.8 450.6,278.7 450.7,279.4 450.7,278.8 450.8,276.7 450.9,279.1 450.9,284.9 451.0,281.0 451.0,274.9 451.1,276.7 451.2,274.0 451.2,279.3 451.3,282.8 451.3,277.1 451.4,281.0 451.5,288.7 451.5,279.0 451.6,284.1 451.7,276.8 451.7,290.9 451.8,279.8 451.8,282.0 451.9,276.6 452.0,286.2 452.0,287.2 452.1,290.4 452.2,278.7 452.2,285.2 452.3,260.0 452.3,273.1 452.4,289.4 452.5,296.5 452.5,282.1 452.6,282.8 452.6,296.9 452.7,290.7 452.8,289.1 452.8,285.9 452.9,282.1 453.0,274.8 453.0,285.0 453.1,282.6 453.1,282.7 453.2,285.3 453.3,282.2 453.3,291.6 453.4,274.9 453.4,289.0 453.5,271.7 453.6,280.7 453.6,274.6 453.7,281.9 453.8,288.5 453.8,285.5 453.9,281.3 453.9,292.5 454.0,271.1 454.1,292.9 454.1,280.7 454.2,290.3 454.2,283.5 454.3,280.2 454.4,292.6 454.4,278.0 454.5,285.1 454.6,287.3 454.6,289.4 454.7,276.3 454.7,288.8 454.8,274.7 454.9,284.0 454.9,286.6 455.0,286.3 455.0,284.6 455.1,282.9 455.2,285.1 455.2,278.9 455.3,290.4 455.4,289.4 455.4,282.2 455.5,292.7 455.5,280.9 455.6,285.6 455.7,279.5 455.7,285.9 455.8,286.6 455.9,280.5 455.9,272.7 456.0,292.2 456.0,288.1 456.1,287.0 456.2,288.5 456.2,285.0 456.3,292.0 456.3,285.7 456.4,274.7 456.5,276.7 456.5,272.6 456.6,276.5 456.7,274.8 456.7,277.3 456.8,267.9 456.8,281.0 456.9,275.6 457.0,273.3 457.0,284.9 457.1,288.8 457.1,290.0 457.2,286.4 457.3,287.8 457.3,297.5 457.4,276.4 457.5,288.6 457.5,276.0 457.6,289.3 457.6,282.0 457.7,285.2 457.8,281.5 457.8,279.9 457.9,277.4 457.9,289.5 458.0,288.0 458.1,287.2 458.1,281.8 458.2,273.6 458.3,282.1 458.3,289.3 458.4,273.6 458.4,289.5 458.5,286.8 458.6,282.9 458.6,277.1 458.7,290.6 458.7,273.8 458.8,279.2 458.9,274.8 458.9,283.2 459.0,284.9 459.1,283.6 459.1,277.3 459.2,278.6 459.2,283.9 459.3,285.2 459.4,308.8 459.4,292.8 459.5,282.9 459.5,284.9 459.6,294.8 459.7,287.9 459.7,283.0 459.8,294.6 459.9,284.6 459.9,276.6 460.0,268.3 460.0,271.4 460.1,276.7 460.2,279.1 460.2,281.0 460.3,289.2 460.4,274.8 460.4,272.8 460.5,284.4 460.5,280.8 460.6,279.2 460.7,279.9 460.7,265.7 460.8,270.1 460.8,286.3 460.9,286.2 461.0,293.2 461.0,290.0 461.1,281.9 461.2,275.1 461.2,279.1 461.3,288.3 461.3,298.8 461.4,302.1 461.5,298.3 461.5,290.6 461.6,283.5 461.6,280.6 461.7,281.3 461.8,271.1 461.8,285.7 461.9,281.5 462.0,278.6 462.0,283.2 462.1,282.3 462.1,277.2 462.2,287.3 462.3,286.1 462.3,284.4 462.4,293.0 462.4,298.5 462.5,284.4 462.6,272.7 462.6,275.6 462.7,286.6 462.8,283.5 462.8,292.1 462.9,281.4 462.9,287.9 463.0,281.4 463.1,281.9 463.1,293.4 463.2,282.5 463.2,281.6 463.3,285.9 463.4,299.8 463.4,271.5 463.5,287.7 463.6,273.5 463.6,282.1 463.7,286.2 463.7,287.0 463.8,292.4 463.9,276.0 463.9,271.9 464.0,283.1 464.1,284.6 464.1,282.6 464.2,280.0 464.2,279.6 464.3,286.0 464.4,281.4 464.4,278.0 464.5,291.5 464.5,297.1 464.6,290.8 464.7,287.5 464.7,289.1 464.8,297.1 464.9,285.8 464.9,282.7 465.0,283.6 465.0,286.0 465.1,278.6 465.2,283.5 465.2,277.4 465.3,281.8 465.3,285.5 465.4,284.0 465.5,275.2 465.5,276.2 465.6,279.8 465.7,284.4 465.7,275.3 465.8,259.2 465.8,280.7 465.9,287.7 466.0,297.9 466.0,287.6 466.1,288.8 466.1,285.3 466.2,290.4 466.3,282.4 466.3,281.4 466.4,277.0 466.5,278.5 466.5,275.6 466.6,276.0 466.6,284.8 466.7,290.1 466.8,278.5 466.8,287.5 466.9,282.0 466.9,294.2 467.0,280.7 467.1,284.2 467.1,286.2 467.2,288.2 467.3,292.3 467.3,285.2 467.4,313.0 467.4,281.6 467.5,281.9 467.6,307.5 467.6,283.4 467.7,282.7 467.7,287.5 467.8,278.2 467.9,290.9 467.9,278.7 468.0,274.8 468.1,278.4 468.1,285.7 468.2,290.1 468.2,288.4 468.3,290.7 468.4,282.8 468.4,280.7 468.5,290.2 468.6,274.6 468.6,286.1 468.7,282.4 468.7,286.7 468.8,270.3 468.9,277.7 468.9,283.5 469.0,284.4 469.0,270.4 469.1,287.3 469.2,286.8 469.2,283.9 469.3,279.8 469.4,280.7 469.4,308.5 469.5,282.8 469.5,284.7 469.6,293.5 469.7,287.2 469.7,284.4 469.8,273.9 469.8,288.3 469.9,276.3 470.0,274.9 470.0,288.5 470.1,283.0 470.2,279.6 470.2,287.1 470.3,292.8 470.3,288.4 470.4,285.8 470.5,282.4 470.5,288.2 470.6,293.7 470.6,276.4 470.7,291.1 470.8,271.7 470.8,294.6 470.9,280.2 471.0,280.6 471.0,291.4 471.1,294.6 471.1,284.9 471.2,281.0 471.3,282.0 471.3,297.9 471.4,278.6 471.4,275.3 471.5,283.9 471.6,285.3 471.6,282.9 471.7,263.7 471.8,289.1 471.8,277.7 471.9,276.3 471.9,289.8 472.0,284.4 472.1,277.2 472.1,287.5 472.2,283.8 472.3,289.7 472.3,293.0 472.4,298.5 472.4,292.9 472.5,299.4 472.6,283.9 472.6,284.1 472.7,280.5 472.7,284.2 472.8,284.5 472.9,287.1 472.9,269.3 473.0,286.8 473.1,275.0 473.1,292.9 473.2,277.8 473.2,282.4 473.3,273.6 473.4,291.6 473.4,278.9 473.5,277.3 473.5,279.3 473.6,285.9 473.7,283.4 473.7,277.0 473.8,256.8 473.9,286.9 473.9,291.1 474.0,268.7 474.0,280.4 474.1,284.6 474.2,278.2 474.2,281.6 474.3,271.3 474.3,276.9 474.4,283.2 474.5,278.7 474.5,288.1 474.6,286.8 474.7,283.6 474.7,285.7 474.8,289.0 474.8,282.7 474.9,289.4 475.0,284.6 475.0,288.5 475.1,276.7 475.1,277.4 475.2,284.2 475.3,270.8 475.3,287.9 475.4,282.6 475.5,283.7 475.5,303.9 475.6,258.3 475.6,290.3 475.7,285.7 475.8,293.6 475.8,278.6 475.9,276.6 475.9,280.4 476.0,280.1 476.1,294.3 476.1,281.3 476.2,284.5 476.3,284.4 476.3,285.0 476.4,284.4 476.4,280.9 476.5,282.3 476.6,296.2 476.6,287.9 476.7,282.3 476.8,285.8 476.8,290.1 476.9,272.3 476.9,280.1 477.0,284.3 477.1,282.9 477.1,291.2 477.2,284.4 477.2,283.5 477.3,274.2 477.4,296.7 477.4,288.7 477.5,274.9 477.6,280.7 477.6,277.8 477.7,293.9 477.7,284.3 477.8,285.3 477.9,279.1 477.9,262.6 478.0,285.5 478.0,281.0 478.1,283.2 478.2,280.4 478.2,281.8 478.3,279.1 478.4,284.5 478.4,285.1 478.5,291.5 478.5,288.7 478.6,281.8 478.7,274.1 478.7,299.1 478.8,283.7 478.8,296.1 478.9,301.9 479.0,286.9 479.0,276.5 479.1,272.2 479.2,285.1 479.2,292.2 479.3,275.3 479.3,274.7 479.4,283.8 479.5,280.1 479.5,288.5 479.6,281.3 479.6,288.2 479.7,286.2 479.8,292.4 479.8,289.1 479.9,287.3 480.0,286.8 480.0,282.8 480.1,284.0 480.1,274.7 480.2,295.3 480.3,287.7 480.3,282.4 480.4,266.9 480.5,279.8 480.5,285.0 480.6,295.9 480.6,288.7 480.7,286.4 480.8,288.9 480.8,307.0 480.9,262.9 480.9,285.2 481.0,289.5 481.1,298.3 481.1,302.4 481.2,278.2 481.3,290.7 481.3,288.1 481.4,283.7 481.4,260.8 481.5,288.8 481.6,283.2 481.6,290.2 481.7,277.0 481.7,278.4 481.8,290.2 481.9,273.1 481.9,285.7 482.0,284.7 482.1,280.5 482.1,289.4 482.2,296.7 482.2,283.3 482.3,283.2 482.4,284.6 482.4,286.8 482.5,288.1 482.5,295.8 482.6,287.6 482.7,287.7 482.7,283.5 482.8,309.5 482.9,281.4 482.9,280.0 483.0,283.4 483.0,280.8 483.1,276.3 483.2,288.2 483.2,279.3 483.3,298.5 483.3,279.2 483.4,282.5 483.5,274.7 483.5,294.6 483.6,275.4 483.7,275.8 483.7,285.4 483.8,277.4 483.8,286.5 483.9,284.3 484.0,288.6 484.0,296.7 484.1,289.2 484.1,279.2 484.2,271.3 484.3,308.9 484.3,288.5 484.4,280.2 484.5,285.4 484.5,286.9 484.6,277.9 484.6,288.8 484.7,291.2 484.8,286.0 484.8,287.3 484.9,281.1 485.0,285.2 485.0,273.1 485.1,281.9 485.1,321.1 485.2,282.9 485.3,281.0 485.3,282.2 485.4,290.0 485.4,287.6 485.5,292.8 485.6,281.6 485.6,282.0 485.7,286.1 485.8,282.7 485.8,279.2 485.9,275.7 485.9,281.6 486.0,298.0 486.1,280.6 486.1,297.6 486.2,282.3 486.2,266.1 486.3,289.5 486.4,291.1 486.4,296.2 486.5,279.3 486.6,296.3 486.6,272.2 486.7,273.2 486.7,289.9 486.8,305.1 486.9,290.7 486.9,277.4 487.0,288.5 487.0,293.8 487.1,294.3 487.2,292.5 487.2,294.2 487.3,289.9 487.4,278.6 487.4,293.3 487.5,292.4 487.5,298.0 487.6,268.9 487.7,280.0 487.7,294.7 487.8,277.1 487.8,294.6 487.9,277.7 488.0,289.4 488.0,270.3 488.1,290.7 488.2,287.0 488.2,276.0 488.3,281.8 488.3,284.7 488.4,279.9 488.5,280.5 488.5,296.5 488.6,288.6 488.7,282.8 488.7,292.1 488.8,288.3 488.8,267.3 488.9,276.3 489.0,287.2 489.0,278.3 489.1,287.8 489.1,280.0 489.2,278.6 489.3,281.2 489.3,270.9 489.4,293.7 489.5,286.9 489.5,284.8 489.6,297.5 489.6,287.6 489.7,266.7 489.8,291.0 489.8,291.1 489.9,283.7 489.9,296.6 490.0,282.3 490.1,283.9 490.1,289.4 490.2,284.4 490.3,277.6 490.3,282.8 490.4,283.4 490.4,305.1 490.5,284.7 490.6,274.1 490.6,281.1 490.7,280.9 490.7,285.2 490.8,278.5 490.9,277.9 490.9,288.6 491.0,274.1 491.1,292.2 491.1,286.3 491.2,283.1 491.2,283.2 491.3,287.2 491.4,289.1 491.4,278.7 491.5,292.1 491.5,282.5 491.6,292.3 491.7,284.7 491.7,307.7 491.8,284.3 491.9,280.2 491.9,285.1 492.0,291.3 492.0,283.9 492.1,264.7 492.2,285.3 492.2,278.3 492.3,293.6 492.3,287.4 492.4,285.4 492.5,292.8 492.5,284.9 492.6,272.6 492.7,283.0 492.7,281.3 492.8,288.1 492.8,277.3 492.9,284.0 493.0,285.2 493.0,281.7 493.1,278.8 493.2,290.7 493.2,277.5 493.3,293.3 493.3,292.7 493.4,286.9 493.5,281.8 493.5,284.3 493.6,284.7 493.6,276.2 493.7,280.4 493.8,289.2 493.8,279.7 493.9,286.2 494.0,277.6 494.0,278.7 494.1,289.1 494.1,281.6 494.2,279.0 494.3,281.7 494.3,288.8 494.4,280.2 494.4,283.4 494.5,275.0 494.6,285.7 494.6,283.9 494.7,277.8 494.8,288.1 494.8,288.3 494.9,290.2 494.9,281.0 495.0,277.3 495.1,293.5 495.1,273.2 495.2,285.6 495.2,285.3 495.3,287.4 495.4,285.4 495.4,286.3 495.5,281.5 495.6,286.8 495.6,284.1 495.7,286.9 495.7,301.2 495.8,276.5 495.9,269.1 495.9,286.7 496.0,299.3 496.0,278.8 496.1,300.6 496.2,286.0 496.2,291.8 496.3,282.3 496.4,294.7 496.4,284.6 496.5,303.9 496.5,301.2 496.6,299.0 496.7,292.5 496.7,263.7 496.8,287.3 496.9,296.4 496.9,283.0 497.0,283.0 497.0,280.1 497.1,300.6 497.2,288.3 497.2,283.6 497.3,283.9 497.3,289.5 497.4,289.9 497.5,279.7 497.5,286.1 497.6,288.1 497.7,285.8 497.7,311.0 497.8,288.1 497.8,287.0 497.9,249.8 498.0,282.4 498.0,293.4 498.1,296.6 498.1,289.4 498.2,291.1 498.3,280.0 498.3,280.8 498.4,281.9 498.5,291.5 498.5,286.0 498.6,272.6 498.6,292.8 498.7,281.1 498.8,279.0 498.8,284.1 498.9,288.7 498.9,283.1 499.0,289.7 499.1,284.9 499.1,292.3 499.2,284.5 499.3,290.0 499.3,282.5 499.4,288.5 499.4,286.5 499.5,278.8 499.6,301.9 499.6,281.9 499.7,287.6 499.7,282.4 499.8,286.4 499.9,285.2 499.9,282.0 500.0,286.1 500.1,285.3 500.1,289.1 500.2,284.1 500.2,290.4 500.3,283.4 500.4,283.2 500.4,283.8 500.5,283.2 500.5,285.1 500.6,288.1 500.7,287.0 500.7,280.2 500.8,275.8 500.9,266.0 500.9,306.4 501.0,277.5 501.0,284.0 501.1,296.4 501.2,291.9 501.2,288.3 501.3,281.8 501.4,281.8 501.4,286.3 501.5,289.6 501.5,290.4 501.6,289.1 501.7,279.0 501.7,282.2 501.8,284.2 501.8,287.0 501.9,304.2 502.0,285.2 502.0,282.5 502.1,287.3 502.2,286.5 502.2,290.6 502.3,284.8 502.3,282.3 502.4,276.4 502.5,283.2 502.5,286.2 502.6,283.2 502.6,289.4 502.7,287.5 502.8,287.8 502.8,274.9 502.9,292.3 503.0,288.9 503.0,269.4 503.1,281.0 503.1,271.1 503.2,280.0 503.3,278.5 503.3,276.8 503.4,288.5 503.4,295.0 503.5,282.4 503.6,277.6 503.6,291.6 503.7,280.4 503.8,283.7 503.8,287.7 503.9,283.7 503.9,280.9 504.0,283.3 504.1,286.9 504.1,288.3 504.2,282.4 504.2,275.5 504.3,287.0 504.4,285.1 504.4,291.5 504.5,285.5 504.6,281.3 504.6,280.0 504.7,288.3 504.7,263.1 504.8,284.4 504.9,277.0 504.9,286.7 505.0,284.8 505.1,284.6 505.1,286.9 505.2,297.2 505.2,299.1 505.3,281.6 505.4,291.6 505.4,285.3 505.5,286.9 505.5,285.4 505.6,286.2 505.7,280.8 505.7,277.5 505.8,279.9 505.9,289.4 505.9,295.0 506.0,278.8 506.0,290.8 506.1,276.0 506.2,283.2 506.2,290.1 506.3,290.7 506.3,284.4 506.4,297.6 506.5,287.0 506.5,283.1 506.6,274.7 506.7,284.4 506.7,282.8 506.8,279.4 506.8,288.6 506.9,281.3 507.0,279.0 507.0,280.4 507.1,289.2 507.1,282.9 507.2,291.6 507.3,289.8 507.3,282.6 507.4,270.3 507.5,286.2 507.5,285.9 507.6,291.0 507.6,294.5 507.7,287.6 507.8,280.4 507.8,275.0 507.9,281.6 507.9,281.9 508.0,281.3 508.1,283.1 508.1,296.3 508.2,274.1 508.3,267.4 508.3,282.3 508.4,278.9 508.4,275.1 508.5,290.7 508.6,286.8 508.6,291.0 508.7,290.1 508.7,288.2 508.8,282.4 508.9,279.1 508.9,285.0 509.0,293.3 509.1,274.9 509.1,277.9 509.2,279.4 509.2,279.8 509.3,273.2 509.4,281.0 509.4,280.8 509.5,285.4 509.6,273.1 509.6,275.0 509.7,286.9 509.7,298.3 509.8,305.8 509.9,290.6 509.9,280.9 510.0,288.4 510.0,274.3 510.1,289.7 510.2,279.7 510.2,267.3 510.3,292.6 510.4,282.5 510.4,290.4 510.5,282.0 510.5,290.4 510.6,288.4 510.7,287.1 510.7,272.4 510.8,277.6 510.8,271.6 510.9,286.2 511.0,277.9 511.0,288.9 511.1,279.2 511.2,280.8 511.2,287.0 511.3,276.5 511.3,284.5 511.4,250.9 511.5,273.0 511.5,293.3 511.6,298.9 511.6,270.1 511.7,300.9 511.8,299.0 511.8,280.2 511.9,271.8 512.0,281.7 512.0,280.2 512.1,285.2 512.1,273.4 512.2,283.4 512.3,279.3 512.3,278.7 512.4,287.1 512.4,285.1 512.5,256.6 512.6,283.5 512.6,282.9 512.7,286.5 512.8,283.9 512.8,283.9 512.9,280.6 512.9,282.8 513.0,287.9 513.1,273.6 513.1,281.0 513.2,280.2 513.3,278.1 513.3,268.8 513.4,289.6 513.4,277.8 513.5,291.8 513.6,297.8 513.6,276.3 513.7,287.6 513.7,282.8 513.8,286.0 513.9,286.8 513.9,287.5 514.0,286.0 514.1,283.4 514.1,276.8 514.2,279.1 514.2,275.2 514.3,274.3 514.4,282.8 514.4,277.9 514.5,271.5 514.5,270.6 514.6,279.6 514.7,276.1 514.7,285.2 514.8,282.8 514.9,285.5 514.9,299.2 515.0,277.4 515.0,285.3 515.1,278.7 515.2,278.0 515.2,280.9 515.3,272.2 515.3,286.2 515.4,282.6 515.5,279.2 515.5,283.6 515.6,278.1 515.7,285.8 515.7,268.6 515.8,266.4 515.8,284.1 515.9,280.0 516.0,284.8 516.0,268.3 516.1,280.1 516.1,279.0 516.2,281.9 516.3,264.4 516.3,289.2 516.4,284.9 516.5,284.2 516.5,284.0 516.6,279.6 516.6,272.1 516.7,289.9 516.8,287.5 516.8,281.3 516.9,275.6 516.9,280.5 517.0,290.3 517.1,285.7 517.1,292.4 517.2,297.8 517.3,290.9 517.3,285.6 517.4,282.0 517.4,281.1 517.5,276.4 517.6,276.0 517.6,284.7 517.7,277.9 517.8,269.3 517.8,288.4 517.9,274.7 517.9,279.8 518.0,279.0 518.1,273.9 518.1,296.9 518.2,284.1 518.2,271.1 518.3,299.5 518.4,282.1 518.4,289.9 518.5,288.9 518.6,283.0 518.6,273.1 518.7,269.1 518.7,294.3 518.8,272.5 518.9,288.2 518.9,262.4 519.0,275.1 519.0,287.4 519.1,277.8 519.2,281.6 519.2,277.6 519.3,274.9 519.4,288.7 519.4,282.9 519.5,280.6 519.5,275.8 519.6,273.6 519.7,278.3 519.7,283.3 519.8,284.7 519.8,284.1 519.9,286.2 520.0,271.7 520.0,292.5 520.1,277.9 520.2,275.3 520.2,290.0 520.3,286.2 520.3,277.9 520.4,282.4 520.5,275.3 520.5,278.4 520.6,284.8 520.6,280.7 520.7,288.3 520.8,279.0 520.8,283.8 520.9,261.9 521.0,281.5 521.0,283.3 521.1,280.4 521.1,270.5 521.2,282.9 521.3,270.6 521.3,278.9 521.4,285.0 521.5,281.2 521.5,275.9 521.6,283.9 521.6,259.5 521.7,288.2 521.8,284.6 521.8,264.3 521.9,282.5 521.9,288.0 522.0,283.9 522.1,280.6 522.1,274.0 522.2,272.6 522.3,282.5 522.3,282.6 522.4,290.1 522.4,274.6 522.5,291.7 522.6,288.0 522.6,288.3 522.7,283.6 522.7,279.2 522.8,276.6 522.9,284.4 522.9,277.1 523.0,285.3 523.1,292.4 523.1,292.0 523.2,290.3 523.2,284.3 523.3,281.2 523.4,290.6 523.4,289.3 523.5,277.2 523.5,276.5 523.6,283.1 523.7,283.8 523.7,276.1 523.8,271.4 523.9,280.5 523.9,277.6 524.0,284.7 524.0,275.1 524.1,284.6 524.2,279.7 524.2,285.0 524.3,300.6 524.3,285.7 524.4,282.6 524.5,288.4 524.5,273.8 524.6,280.0 524.7,282.0 524.7,281.0 524.8,278.7 524.8,294.1 524.9,284.1 525.0,286.0 525.0,284.4 525.1,272.3 525.1,287.1 525.2,286.8 525.3,281.6 525.3,280.2 525.4,284.2 525.5,271.7 525.5,291.2 525.6,276.3 525.6,283.9 525.7,282.9 525.8,274.3 525.8,284.8 525.9,281.8 526.0,282.3 526.0,285.2 526.1,276.0 526.1,274.1 526.2,281.8 526.3,288.8 526.3,286.5 526.4,285.9 526.4,276.5 526.5,274.6 526.6,290.2 526.6,287.8 526.7,282.9 526.8,282.5 526.8,280.4 526.9,272.2 526.9,284.6 527.0,286.5 527.1,285.2 527.1,283.6 527.2,288.9 527.2,275.9 527.3,272.1 527.4,287.5 527.4,281.9 527.5,291.6 527.6,282.8 527.6,286.2 527.7,290.3 527.7,283.8 527.8,274.0 527.9,307.2 527.9,282.7 528.0,288.0 528.0,281.6 528.1,277.7 528.2,280.4 528.2,265.5 528.3,285.1 528.4,278.3 528.4,293.0 528.5,290.4 528.5,298.0 528.6,286.6 528.7,275.3 528.7,283.3 528.8,289.2 528.8,281.5 528.9,285.5 529.0,283.2 529.0,285.4 529.1,282.8 529.2,291.0 529.2,288.0 529.3,284.5 529.3,285.2 529.4,278.9 529.5,282.6 529.5,287.3 529.6,284.8 529.7,259.1 529.7,279.0 529.8,269.9 529.8,295.8 529.9,290.5 530.0,286.4 530.0,278.9 530.1,281.6 530.1,284.7 530.2,291.2 530.3,275.4 530.3,277.1 530.4,274.9 530.5,276.1 530.5,275.1 530.6,280.4 530.6,288.7 530.7,278.4 530.8,284.6 530.8,280.6 530.9,273.1 530.9,295.1 531.0,292.9 531.1,282.3 531.1,280.3 531.2,282.8 531.3,286.4 531.3,278.1 531.4,278.4 531.4,284.6 531.5,276.0 531.6,273.7 531.6,283.7 531.7,279.0 531.7,272.6 531.8,289.8 531.9,285.8 531.9,275.1 532.0,273.3 532.1,277.4 532.1,280.1 532.2,287.8 532.2,276.9 532.3,283.1 532.4,273.0 532.4,284.3 532.5,285.3 532.5,291.1 532.6,287.4 532.7,275.7 532.7,282.6 532.8,286.5 532.9,274.7 532.9,279.1 533.0,282.0 533.0,282.4 533.1,273.7 533.2,283.8 533.2,287.6 533.3,280.5 533.3,284.6 533.4,285.3 533.5,282.9 533.5,278.7 533.6,275.5 533.7,291.9 533.7,290.5 533.8,272.9 533.8,279.1 533.9,285.4 534.0,283.6 534.0,295.9 534.1,276.6 534.2,285.9 534.2,284.3 534.3,283.4 534.3,277.7 534.4,276.8 534.5,280.8 534.5,270.5 534.6,291.4 534.6,284.9 534.7,289.6 534.8,284.3 534.8,295.8 534.9,284.6 535.0,283.8 535.0,293.4 535.1,287.7 535.1,298.1 535.2,283.9 535.3,283.9 535.3,287.8 535.4,284.4 535.4,286.1 535.5,287.0 535.6,275.6 535.6,282.2 535.7,286.4 535.8,277.9 535.8,275.4 535.9,268.2 535.9,277.1 536.0,280.3 536.1,279.5 536.1,292.2 536.2,295.0 536.2,277.4 536.3,276.6 536.4,284.6 536.4,286.7 536.5,277.1 536.6,279.7 536.6,284.1 536.7,272.2 536.7,276.8 536.8,285.7 536.9,292.2 536.9,282.5 537.0,280.9 537.0,287.9 537.1,282.7 537.2,274.3 537.2,285.8 537.3,289.7 537.4,285.7 537.4,280.8 537.5,280.9 537.5,274.9 537.6,276.0 537.7,279.6 537.7,280.7 537.8,279.0 537.9,282.8 537.9,281.4 538.0,284.7 538.0,273.7 538.1,287.6 538.2,295.3 538.2,283.9 538.3,289.3 538.3,285.1 538.4,262.0 538.5,290.1 538.5,282.5 538.6,274.5 538.7,271.5 538.7,292.0 538.8,287.0 538.8,280.0 538.9,279.5 539.0,288.6 539.0,282.0 539.1,276.9 539.1,276.9 539.2,282.8 539.3,272.1 539.3,290.1 539.4,283.4 539.5,284.0 539.5,277.3 539.6,282.7 539.6,278.8 539.7,281.7" fill="none" stroke="#00f000" stroke-width="0.42" stroke-linejoin="bevel"/>
<rect x="354.5" y="45.5" width="185.5" height="97.80000000000001" fill="none" stroke="#2a2a2a" stroke-width="1.1"/>
<rect x="354.5" y="143.3" width="185.5" height="92.69999999999999" fill="none" stroke="#2a2a2a" stroke-width="1.1"/>
<rect x="354.5" y="236.0" width="185.5" height="95.80000000000001" fill="none" stroke="#2a2a2a" stroke-width="1.1"/>
<line x1="354.5" y1="47.78" x2="356.4" y2="47.78" stroke="#222" stroke-width="0.9"/>
<line x1="540.0" y1="47.78" x2="538.1" y2="47.78" stroke="#222" stroke-width="0.9"/>
<line x1="354.5" y1="59.90" x2="357.8" y2="59.90" stroke="#222" stroke-width="0.9"/>
<line x1="540.0" y1="59.90" x2="536.7" y2="59.90" stroke="#222" stroke-width="0.9"/>
<line x1="354.5" y1="72.02" x2="356.4" y2="72.02" stroke="#222" stroke-width="0.9"/>
<line x1="540.0" y1="72.02" x2="538.1" y2="72.02" stroke="#222" stroke-width="0.9"/>
<line x1="354.5" y1="84.13" x2="357.8" y2="84.13" stroke="#222" stroke-width="0.9"/>
<line x1="540.0" y1="84.13" x2="536.7" y2="84.13" stroke="#222" stroke-width="0.9"/>
<line x1="354.5" y1="96.25" x2="356.4" y2="96.25" stroke="#222" stroke-width="0.9"/>
<line x1="540.0" y1="96.25" x2="538.1" y2="96.25" stroke="#222" stroke-width="0.9"/>
<line x1="354.5" y1="108.36" x2="357.8" y2="108.36" stroke="#222" stroke-width="0.9"/>
<line x1="540.0" y1="108.36" x2="536.7" y2="108.36" stroke="#222" stroke-width="0.9"/>
<line x1="354.5" y1="120.47" x2="356.4" y2="120.47" stroke="#222" stroke-width="0.9"/>
<line x1="540.0" y1="120.47" x2="538.1" y2="120.47" stroke="#222" stroke-width="0.9"/>
<line x1="354.5" y1="132.59" x2="357.8" y2="132.59" stroke="#222" stroke-width="0.9"/>
<line x1="540.0" y1="132.59" x2="536.7" y2="132.59" stroke="#222" stroke-width="0.9"/>
<line x1="354.5" y1="152.35" x2="356.4" y2="152.35" stroke="#222" stroke-width="0.9"/>
<line x1="540.0" y1="152.35" x2="538.1" y2="152.35" stroke="#222" stroke-width="0.9"/>
<line x1="354.5" y1="164.30" x2="357.8" y2="164.30" stroke="#222" stroke-width="0.9"/>
<line x1="540.0" y1="164.30" x2="536.7" y2="164.30" stroke="#222" stroke-width="0.9"/>
<line x1="354.5" y1="176.25" x2="356.4" y2="176.25" stroke="#222" stroke-width="0.9"/>
<line x1="540.0" y1="176.25" x2="538.1" y2="176.25" stroke="#222" stroke-width="0.9"/>
<line x1="354.5" y1="188.20" x2="357.8" y2="188.20" stroke="#222" stroke-width="0.9"/>
<line x1="540.0" y1="188.20" x2="536.7" y2="188.20" stroke="#222" stroke-width="0.9"/>
<line x1="354.5" y1="200.15" x2="356.4" y2="200.15" stroke="#222" stroke-width="0.9"/>
<line x1="540.0" y1="200.15" x2="538.1" y2="200.15" stroke="#222" stroke-width="0.9"/>
<line x1="354.5" y1="212.10" x2="357.8" y2="212.10" stroke="#222" stroke-width="0.9"/>
<line x1="540.0" y1="212.10" x2="536.7" y2="212.10" stroke="#222" stroke-width="0.9"/>
<line x1="354.5" y1="224.05" x2="356.4" y2="224.05" stroke="#222" stroke-width="0.9"/>
<line x1="540.0" y1="224.05" x2="538.1" y2="224.05" stroke="#222" stroke-width="0.9"/>
<line x1="354.5" y1="242.92" x2="356.4" y2="242.92" stroke="#222" stroke-width="0.9"/>
<line x1="540.0" y1="242.92" x2="538.1" y2="242.92" stroke="#222" stroke-width="0.9"/>
<line x1="354.5" y1="254.90" x2="357.8" y2="254.90" stroke="#222" stroke-width="0.9"/>
<line x1="540.0" y1="254.90" x2="536.7" y2="254.90" stroke="#222" stroke-width="0.9"/>
<line x1="354.5" y1="266.88" x2="356.4" y2="266.88" stroke="#222" stroke-width="0.9"/>
<line x1="540.0" y1="266.88" x2="538.1" y2="266.88" stroke="#222" stroke-width="0.9"/>
<line x1="354.5" y1="278.87" x2="357.8" y2="278.87" stroke="#222" stroke-width="0.9"/>
<line x1="540.0" y1="278.87" x2="536.7" y2="278.87" stroke="#222" stroke-width="0.9"/>
<line x1="354.5" y1="290.86" x2="356.4" y2="290.86" stroke="#222" stroke-width="0.9"/>
<line x1="540.0" y1="290.86" x2="538.1" y2="290.86" stroke="#222" stroke-width="0.9"/>
<line x1="354.5" y1="302.84" x2="357.8" y2="302.84" stroke="#222" stroke-width="0.9"/>
<line x1="540.0" y1="302.84" x2="536.7" y2="302.84" stroke="#222" stroke-width="0.9"/>
<line x1="354.5" y1="314.82" x2="356.4" y2="314.82" stroke="#222" stroke-width="0.9"/>
<line x1="540.0" y1="314.82" x2="538.1" y2="314.82" stroke="#222" stroke-width="0.9"/>
<line x1="354.5" y1="326.81" x2="357.8" y2="326.81" stroke="#222" stroke-width="0.9"/>
<line x1="540.0" y1="326.81" x2="536.7" y2="326.81" stroke="#222" stroke-width="0.9"/>
<line x1="385.42" y1="143.3" x2="385.42" y2="141.4" stroke="#222" stroke-width="0.9"/>
<line x1="416.33" y1="143.3" x2="416.33" y2="140.0" stroke="#222" stroke-width="0.9"/>
<line x1="447.25" y1="143.3" x2="447.25" y2="141.4" stroke="#222" stroke-width="0.9"/>
<line x1="478.16" y1="143.3" x2="478.16" y2="140.0" stroke="#222" stroke-width="0.9"/>
<line x1="509.07" y1="143.3" x2="509.07" y2="141.4" stroke="#222" stroke-width="0.9"/>
<line x1="385.42" y1="236.0" x2="385.42" y2="234.1" stroke="#222" stroke-width="0.9"/>
<line x1="416.33" y1="236.0" x2="416.33" y2="232.7" stroke="#222" stroke-width="0.9"/>
<line x1="447.25" y1="236.0" x2="447.25" y2="234.1" stroke="#222" stroke-width="0.9"/>
<line x1="478.16" y1="236.0" x2="478.16" y2="232.7" stroke="#222" stroke-width="0.9"/>
<line x1="509.07" y1="236.0" x2="509.07" y2="234.1" stroke="#222" stroke-width="0.9"/>
<line x1="385.42" y1="331.8" x2="385.42" y2="329.90000000000003" stroke="#222" stroke-width="0.9"/>
<line x1="416.33" y1="331.8" x2="416.33" y2="328.5" stroke="#222" stroke-width="0.9"/>
<line x1="447.25" y1="331.8" x2="447.25" y2="329.90000000000003" stroke="#222" stroke-width="0.9"/>
<line x1="478.16" y1="331.8" x2="478.16" y2="328.5" stroke="#222" stroke-width="0.9"/>
<line x1="509.07" y1="331.8" x2="509.07" y2="329.90000000000003" stroke="#222" stroke-width="0.9"/>
<text x="351.8" y="64.47" text-anchor="end" font-family="'Liberation Serif', 'Times New Roman', serif" font-size="8.0" fill="#222" textLength="44.3" lengthAdjust="spacingAndGlyphs">1,000,000.010</text>
<text x="350.2" y="86.52" text-anchor="end" font-family="'Liberation Serif', 'Times New Roman', serif" font-size="8.0" fill="#222" textLength="39.6" lengthAdjust="spacingAndGlyphs">999,999.993</text>
<text x="352.3" y="112.52" text-anchor="end" font-family="'Liberation Serif', 'Times New Roman', serif" font-size="8.0" fill="#222" textLength="39.6" lengthAdjust="spacingAndGlyphs">999,999.976</text>
<text x="353.8" y="137.52" text-anchor="end" font-family="'Liberation Serif', 'Times New Roman', serif" font-size="8.0" fill="#222" textLength="39.6" lengthAdjust="spacingAndGlyphs">999,999.959</text>
<text x="350.2" y="166.45" text-anchor="end" font-family="'Liberation Serif', 'Times New Roman', serif" font-size="7.5" fill="#222" textLength="22.2" lengthAdjust="spacingAndGlyphs">100.011</text>
<text x="350.2" y="190.35" text-anchor="end" font-family="'Liberation Serif', 'Times New Roman', serif" font-size="7.5" fill="#222" textLength="19.2" lengthAdjust="spacingAndGlyphs">99.994</text>
<text x="350.2" y="214.65" text-anchor="end" font-family="'Liberation Serif', 'Times New Roman', serif" font-size="7.5" fill="#222" textLength="19.2" lengthAdjust="spacingAndGlyphs">99.977</text>
<text x="350.2" y="238.45" text-anchor="end" font-family="'Liberation Serif', 'Times New Roman', serif" font-size="7.5" fill="#222" textLength="19.2" lengthAdjust="spacingAndGlyphs">99.960</text>
<text x="350.8" y="256.85" text-anchor="end" font-family="'Liberation Serif', 'Times New Roman', serif" font-size="7.5" fill="#222" textLength="16.5" lengthAdjust="spacingAndGlyphs">0.017</text>
<text x="350.8" y="281.25" text-anchor="end" font-family="'Liberation Serif', 'Times New Roman', serif" font-size="7.5" fill="#222" textLength="16.5" lengthAdjust="spacingAndGlyphs">0.000</text>
<text x="350.8" y="305.25" text-anchor="end" font-family="'Liberation Serif', 'Times New Roman', serif" font-size="7.5" fill="#222" textLength="18.7" lengthAdjust="spacingAndGlyphs">-0.017</text>
<text x="350.8" y="329.45" text-anchor="end" font-family="'Liberation Serif', 'Times New Roman', serif" font-size="7.5" fill="#222" textLength="18.7" lengthAdjust="spacingAndGlyphs">-0.034</text>
<text x="351.20" y="340.8" text-anchor="middle" font-family="'Liberation Serif', 'Times New Roman', serif" font-size="7.3" fill="#222">0</text>
<text x="413.03" y="340.8" text-anchor="middle" font-family="'Liberation Serif', 'Times New Roman', serif" font-size="7.3" fill="#222" textLength="13.6" lengthAdjust="spacingAndGlyphs">1000</text>
<text x="474.86" y="340.8" text-anchor="middle" font-family="'Liberation Serif', 'Times New Roman', serif" font-size="7.3" fill="#222" textLength="13.6" lengthAdjust="spacingAndGlyphs">2000</text>
<text x="536.69" y="340.8" text-anchor="middle" font-family="'Liberation Serif', 'Times New Roman', serif" font-size="7.3" fill="#222" textLength="13.6" lengthAdjust="spacingAndGlyphs">3000</text>
<text x="446.3" y="356" text-anchor="middle" font-family="'Liberation Serif', 'Times New Roman', serif" font-weight="normal" font-size="9" fill="#222" >Time/s</text>
<text transform="translate(314.2,164.5) rotate(-90)" text-anchor="middle" font-family="'Liberation Serif', 'Times New Roman', serif" font-size="9.5" fill="#222">Delay Fluctuatopns/ns</text>
<text x="445.8" y="393.6" text-anchor="middle" font-family="'Liberation Serif', 'Times New Roman', serif" font-weight="normal" font-size="17.5" fill="#111" stroke="#111" stroke-width="0.3">(c)</text>
<rect x="446" y="45.5" width="93.5" height="7.700000000000003" fill="#fff" stroke="#333" stroke-width="0.7"/>
<line x1="452.4" y1="49.35" x2="464.79999999999995" y2="49.35" stroke="#ff5050" stroke-width="0.8"/>
<text x="465.59999999999997" y="51.25" font-family="'Liberation Sans', Arial, sans-serif" font-size="5.8" fill="#222">Set Delay Value:</text>
<text x="510.6" y="51.25" font-family="'Liberation Serif', 'Times New Roman', serif" font-size="5.9" fill="#222" textLength="28" lengthAdjust="spacingAndGlyphs">1,000,000ns</text>
<rect x="459.6" y="143.3" width="79.89999999999998" height="7.0" fill="#fff" stroke="#333" stroke-width="0.7"/>
<line x1="464" y1="146.80" x2="476.4" y2="146.80" stroke="#333" stroke-width="0.8"/>
<text x="477.2" y="148.70" font-family="'Liberation Sans', Arial, sans-serif" font-size="5.8" fill="#222">Set Delay Value: 100ns</text>
<rect x="466.5" y="236" width="73.0" height="7.099999999999994" fill="#fff" stroke="#333" stroke-width="0.7"/>
<line x1="470.8" y1="239.55" x2="483.2" y2="239.55" stroke="#60ff60" stroke-width="0.8"/>
<text x="484.0" y="241.45" font-family="'Liberation Sans', Arial, sans-serif" font-size="5.8" fill="#222">Set Delay Value: 0ns</text></svg>
</body></html>
